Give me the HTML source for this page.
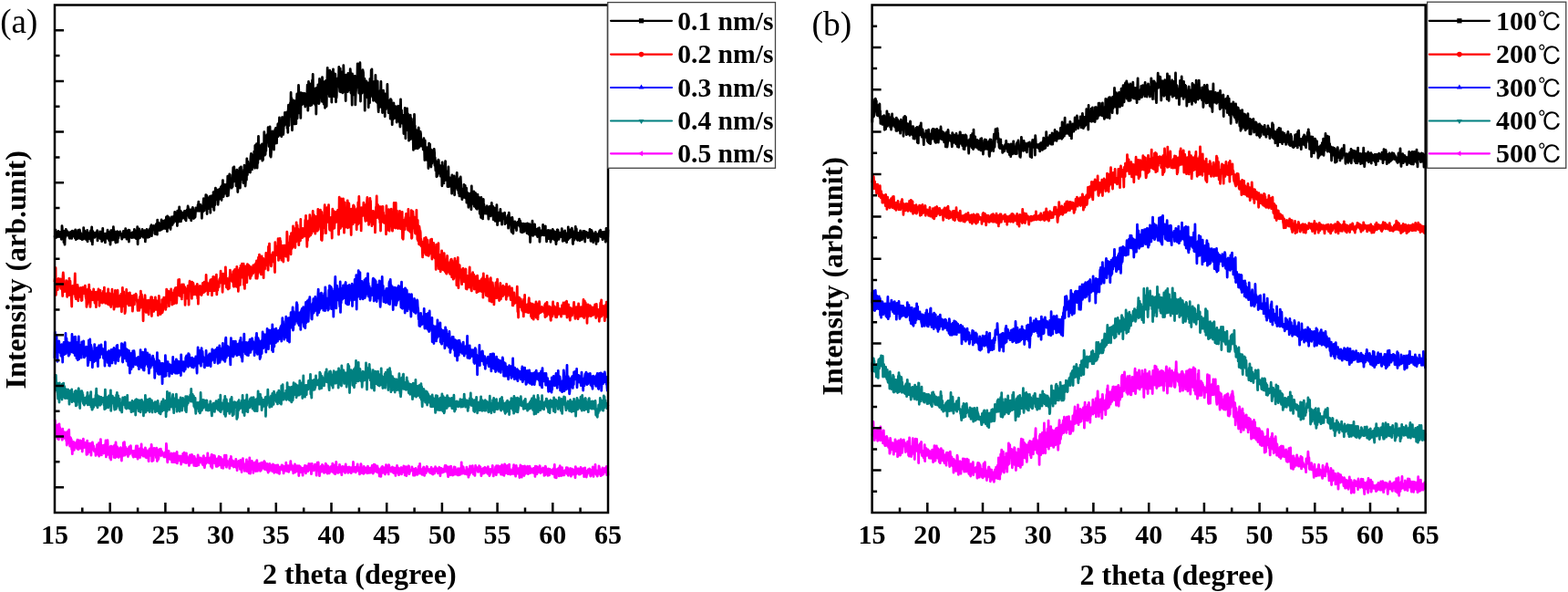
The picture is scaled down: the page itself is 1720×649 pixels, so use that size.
<!DOCTYPE html>
<html><head><meta charset="utf-8"><title>XRD</title>
<style>html,body{margin:0;padding:0;background:#fff;}svg{display:block;}</style></head>
<body><svg width="1720" height="649" viewBox="0 0 1720 649">
<rect width="1720" height="649" fill="#fff"/>
<polyline fill="none" stroke="#000000" stroke-width="2.8" stroke-linejoin="round" points="60.0,258.3 60.3,260.2 60.7,258.3 61.0,252.1 61.3,260.5 61.7,258.8 62.0,255.0 62.3,260.1 62.7,258.5 63.0,258.3 63.3,257.3 63.7,259.3 64.0,253.4 64.3,256.6 64.7,255.4 65.0,259.5 65.3,257.4 65.7,256.2 66.0,254.3 66.3,256.3 66.7,257.4 67.0,256.3 67.3,262.3 67.7,261.2 68.0,247.6 68.3,250.2 68.7,256.8 69.0,255.8 69.3,258.3 69.7,258.3 70.0,265.6 70.3,253.3 70.7,256.1 71.0,268.1 71.3,260.0 71.7,260.1 72.0,255.6 72.3,251.3 72.7,258.3 73.0,258.1 73.3,253.0 73.7,255.1 74.0,257.4 74.3,254.1 74.7,257.4 75.0,258.1 75.3,257.9 75.7,255.9 76.0,260.1 76.3,261.2 76.7,259.1 77.0,254.7 77.3,260.6 77.7,256.0 78.0,261.2 78.3,253.8 78.7,261.4 79.0,257.9 79.3,253.2 79.7,256.8 80.0,258.2 80.3,259.0 80.7,254.3 81.0,253.8 81.3,258.8 81.7,256.2 82.0,258.9 82.3,260.9 82.7,251.8 83.0,259.0 83.3,262.7 83.7,256.5 84.0,255.0 84.3,260.9 84.7,259.0 85.0,261.5 85.3,256.8 85.7,252.4 86.0,257.7 86.3,256.4 86.7,261.0 87.0,258.8 87.3,251.9 87.7,253.6 88.0,261.5 88.3,260.7 88.7,255.7 89.0,258.1 89.3,259.8 89.7,259.9 90.0,262.6 90.3,259.1 90.7,257.6 91.0,257.2 91.4,262.1 91.7,249.6 92.0,257.4 92.4,258.3 92.7,252.8 93.0,259.4 93.4,255.7 93.7,261.4 94.0,257.7 94.4,260.7 94.7,262.8 95.0,259.6 95.4,254.9 95.7,252.5 96.0,264.8 96.4,257.8 96.7,255.6 97.0,258.8 97.4,257.5 97.7,261.5 98.0,258.4 98.4,258.3 98.7,254.6 99.0,260.0 99.4,253.0 99.7,260.8 100.0,264.0 100.4,252.5 100.7,248.9 101.0,260.6 101.4,267.9 101.7,254.5 102.0,253.5 102.4,260.5 102.7,255.1 103.0,256.4 103.4,257.0 103.7,260.3 104.0,256.8 104.4,259.4 104.7,257.6 105.0,255.1 105.4,257.1 105.7,254.7 106.0,258.3 106.4,254.1 106.7,252.7 107.0,263.9 107.4,258.1 107.7,258.1 108.0,260.3 108.4,256.8 108.7,257.5 109.0,260.0 109.4,259.4 109.7,254.0 110.0,261.5 110.4,256.1 110.7,254.4 111.0,255.0 111.4,256.9 111.7,264.6 112.0,254.0 112.4,259.0 112.7,250.3 113.0,258.4 113.4,263.0 113.7,257.5 114.0,256.0 114.4,259.3 114.7,261.1 115.0,260.9 115.4,265.9 115.7,259.2 116.0,256.2 116.4,258.0 116.7,258.2 117.0,258.9 117.4,258.4 117.7,259.1 118.0,252.2 118.4,261.6 118.7,255.6 119.0,254.1 119.4,260.9 119.7,263.5 120.0,260.4 120.4,259.1 120.7,255.0 121.0,268.2 121.4,261.8 121.7,252.7 122.0,255.5 122.4,258.8 122.7,252.6 123.0,259.1 123.4,256.7 123.7,263.1 124.0,262.1 124.4,248.7 124.7,258.6 125.0,252.3 125.4,262.6 125.7,259.0 126.0,260.5 126.4,254.4 126.7,265.3 127.0,266.0 127.4,254.4 127.7,259.8 128.0,255.8 128.4,258.3 128.7,253.6 129.0,265.4 129.4,254.7 129.7,257.2 130.0,260.9 130.4,255.9 130.7,257.4 131.0,256.2 131.4,257.8 131.7,253.9 132.0,256.7 132.4,257.5 132.7,257.0 133.0,258.5 133.4,257.2 133.7,262.1 134.0,256.6 134.4,257.8 134.7,255.8 135.0,256.3 135.4,253.5 135.7,260.2 136.0,253.9 136.4,255.4 136.7,259.6 137.0,259.8 137.4,256.7 137.7,250.6 138.0,259.8 138.4,259.2 138.7,252.9 139.0,262.1 139.4,255.5 139.7,253.9 140.0,258.7 140.4,257.5 140.7,258.9 141.0,252.1 141.4,265.0 141.7,255.1 142.0,252.3 142.4,260.5 142.7,256.8 143.0,259.4 143.4,256.4 143.7,257.9 144.0,259.1 144.4,255.3 144.7,260.7 145.0,256.3 145.4,254.8 145.7,258.4 146.0,259.8 146.4,257.2 146.7,254.8 147.0,260.4 147.4,251.4 147.7,254.2 148.0,258.2 148.4,252.9 148.7,258.2 149.0,257.8 149.4,261.5 149.7,254.6 150.0,255.7 150.4,259.3 150.7,248.7 151.1,267.8 151.4,255.4 151.7,255.2 152.1,261.3 152.4,257.7 152.7,251.0 153.1,260.0 153.4,260.8 153.7,255.7 154.1,255.9 154.4,259.1 154.7,253.6 155.1,258.7 155.4,257.6 155.7,254.2 156.1,251.3 156.4,255.7 156.7,253.1 157.1,260.2 157.4,256.8 157.7,259.1 158.1,256.5 158.4,256.9 158.7,252.7 159.1,258.2 159.4,264.9 159.7,254.2 160.1,253.0 160.4,254.6 160.7,253.2 161.1,251.3 161.4,255.4 161.7,253.6 162.1,260.3 162.4,254.5 162.7,255.7 163.1,258.1 163.4,253.0 163.7,259.8 164.1,251.5 164.4,250.7 164.7,252.3 165.1,253.2 165.4,248.0 165.7,253.3 166.1,246.7 166.4,258.7 166.7,252.8 167.1,250.4 167.4,249.2 167.7,251.2 168.1,251.4 168.4,248.4 168.7,247.5 169.1,251.3 169.4,250.1 169.7,255.9 170.1,256.5 170.4,251.8 170.7,253.5 171.1,246.0 171.4,253.8 171.7,250.9 172.1,252.8 172.4,257.2 172.7,241.2 173.1,251.3 173.4,245.6 173.7,252.3 174.1,244.3 174.4,246.8 174.7,250.2 175.1,252.6 175.4,249.3 175.7,245.5 176.1,246.3 176.4,252.1 176.7,248.2 177.1,241.0 177.4,251.4 177.7,249.4 178.1,251.1 178.4,245.9 178.7,250.6 179.1,242.4 179.4,250.0 179.7,244.5 180.1,249.2 180.4,250.4 180.7,241.7 181.1,245.6 181.4,245.8 181.7,250.5 182.1,248.2 182.4,238.0 182.7,246.8 183.1,247.8 183.4,253.6 183.7,237.0 184.1,241.8 184.4,249.7 184.7,237.9 185.1,238.3 185.4,245.6 185.7,247.6 186.1,240.1 186.4,246.0 186.7,243.1 187.1,251.4 187.4,242.2 187.7,246.4 188.1,237.9 188.4,240.9 188.7,241.1 189.1,246.4 189.4,243.8 189.7,237.7 190.1,243.9 190.4,244.1 190.7,240.0 191.1,239.2 191.4,239.3 191.7,232.4 192.1,240.6 192.4,240.6 192.7,235.5 193.1,242.6 193.4,232.9 193.7,236.4 194.1,236.6 194.4,247.5 194.7,231.1 195.1,240.7 195.4,242.3 195.7,239.5 196.1,243.0 196.4,232.9 196.7,226.9 197.1,240.6 197.4,231.5 197.7,235.3 198.1,231.2 198.4,242.9 198.7,240.2 199.1,232.7 199.4,240.0 199.7,236.3 200.1,234.9 200.4,235.6 200.7,234.2 201.1,237.8 201.4,236.3 201.7,233.0 202.1,239.2 202.4,231.5 202.7,235.6 203.1,236.1 203.4,240.9 203.7,231.5 204.1,241.9 204.4,234.4 204.7,232.6 205.1,230.2 205.4,236.0 205.7,233.4 206.1,226.0 206.4,227.6 206.7,230.1 207.1,229.4 207.4,237.7 207.7,238.9 208.1,236.4 208.4,233.8 208.7,230.0 209.1,232.3 209.4,236.0 209.7,241.8 210.1,235.9 210.4,229.6 210.7,231.5 211.1,228.9 211.4,227.3 211.8,230.0 212.1,231.7 212.4,239.5 212.8,230.8 213.1,237.0 213.4,238.8 213.8,230.6 214.1,237.8 214.4,233.4 214.8,227.8 215.1,231.0 215.4,229.7 215.8,228.3 216.1,228.4 216.4,229.9 216.8,231.2 217.1,224.6 217.4,228.7 217.8,221.2 218.1,229.7 218.4,231.3 218.8,228.9 219.1,229.3 219.4,230.6 219.8,224.3 220.1,226.2 220.4,229.7 220.8,231.9 221.1,228.8 221.4,239.3 221.8,226.0 222.1,231.2 222.4,232.4 222.8,225.3 223.1,221.7 223.4,217.6 223.8,226.2 224.1,230.8 224.4,226.4 224.8,225.7 225.1,222.1 225.4,227.3 225.8,213.6 226.1,225.3 226.4,224.1 226.8,214.4 227.1,234.6 227.4,216.4 227.8,217.8 228.1,217.0 228.4,228.6 228.8,218.2 229.1,226.0 229.4,225.4 229.8,223.5 230.1,215.3 230.4,218.7 230.8,233.3 231.1,214.8 231.4,217.0 231.8,220.3 232.1,226.5 232.4,221.9 232.8,224.1 233.1,214.4 233.4,224.5 233.8,222.3 234.1,210.6 234.4,226.7 234.8,230.4 235.1,214.0 235.4,218.1 235.8,224.7 236.1,209.2 236.4,206.1 236.8,209.5 237.1,213.0 237.4,212.6 237.8,218.7 238.1,216.5 238.4,208.1 238.8,217.5 239.1,224.3 239.4,220.3 239.8,218.9 240.1,213.3 240.4,218.2 240.8,207.2 241.1,216.3 241.4,211.4 241.8,217.8 242.1,213.8 242.4,204.9 242.8,211.5 243.1,219.4 243.4,203.6 243.8,206.5 244.1,205.0 244.4,197.6 244.8,214.0 245.1,215.7 245.4,212.5 245.8,209.0 246.1,207.0 246.4,208.4 246.8,202.5 247.1,211.5 247.4,212.0 247.8,211.1 248.1,202.4 248.4,205.6 248.8,203.9 249.1,214.9 249.4,205.7 249.8,193.1 250.1,206.1 250.4,214.4 250.8,207.2 251.1,208.0 251.4,202.8 251.8,190.8 252.1,191.5 252.4,191.9 252.8,200.8 253.1,203.1 253.4,205.0 253.8,198.7 254.1,206.1 254.4,198.5 254.8,195.7 255.1,204.6 255.4,193.9 255.8,183.7 256.1,192.4 256.4,199.0 256.8,182.8 257.1,195.8 257.4,195.6 257.8,188.8 258.1,188.1 258.4,194.0 258.8,193.2 259.1,203.9 259.4,198.2 259.8,186.1 260.1,188.4 260.4,199.4 260.8,210.5 261.1,196.9 261.4,196.2 261.8,205.5 262.1,193.6 262.4,191.6 262.8,184.5 263.1,189.7 263.4,206.1 263.8,183.5 264.1,192.1 264.4,182.9 264.8,192.2 265.1,196.7 265.4,189.3 265.8,196.7 266.1,194.8 266.4,192.8 266.8,200.5 267.1,194.3 267.4,187.1 267.8,184.4 268.1,181.2 268.4,191.2 268.8,185.8 269.1,204.0 269.4,199.1 269.8,185.6 270.1,184.6 270.4,197.2 270.8,174.0 271.1,182.9 271.4,191.6 271.8,177.2 272.1,181.7 272.4,182.1 272.8,188.3 273.1,184.7 273.5,185.7 273.8,186.5 274.1,182.3 274.5,189.0 274.8,176.4 275.1,171.3 275.5,168.5 275.8,169.1 276.1,175.8 276.5,185.9 276.8,179.7 277.1,172.6 277.5,170.4 277.8,173.6 278.1,174.0 278.5,172.4 278.8,166.1 279.1,172.1 279.5,184.3 279.8,159.6 280.1,172.4 280.5,158.9 280.8,174.4 281.1,167.5 281.5,157.7 281.8,172.7 282.1,184.1 282.5,171.8 282.8,178.8 283.1,169.7 283.5,149.5 283.8,174.3 284.1,166.3 284.5,158.6 284.8,174.2 285.1,170.3 285.5,164.2 285.8,173.7 286.1,161.0 286.5,171.5 286.8,159.8 287.1,170.0 287.5,157.9 287.8,176.2 288.1,167.0 288.5,175.1 288.8,158.5 289.1,160.6 289.5,169.8 289.8,144.7 290.1,155.3 290.5,170.2 290.8,165.7 291.1,169.2 291.5,159.4 291.8,165.4 292.1,155.6 292.5,150.5 292.8,147.7 293.1,155.8 293.5,155.5 293.8,154.5 294.1,139.7 294.5,143.5 294.8,154.0 295.1,160.5 295.5,152.8 295.8,150.1 296.1,138.9 296.5,171.1 296.8,147.1 297.1,172.2 297.5,166.4 297.8,156.2 298.1,149.3 298.5,154.3 298.8,144.0 299.1,154.4 299.5,152.0 299.8,155.6 300.1,158.5 300.5,164.1 300.8,147.2 301.1,157.9 301.5,143.2 301.8,142.0 302.1,142.0 302.5,140.4 302.8,155.4 303.1,154.5 303.5,156.9 303.8,146.2 304.1,148.1 304.5,141.0 304.8,136.0 305.1,149.5 305.5,146.4 305.8,135.0 306.1,148.1 306.5,129.0 306.8,141.1 307.1,137.0 307.5,137.4 307.8,132.5 308.1,148.5 308.5,145.0 308.8,149.6 309.1,140.6 309.5,128.6 309.8,135.6 310.1,128.6 310.5,141.6 310.8,147.4 311.1,139.7 311.5,131.6 311.8,133.1 312.1,137.4 312.5,123.3 312.8,136.1 313.1,136.1 313.5,129.5 313.8,130.1 314.1,134.6 314.5,125.9 314.8,122.9 315.1,140.7 315.5,133.4 315.8,145.3 316.1,122.3 316.5,115.1 316.8,137.8 317.1,137.5 317.5,122.7 317.8,116.0 318.1,127.7 318.5,112.7 318.8,124.3 319.1,101.4 319.5,124.3 319.8,107.6 320.1,123.5 320.5,142.8 320.8,122.4 321.1,131.0 321.5,118.3 321.8,115.6 322.1,109.9 322.5,131.7 322.8,121.6 323.1,136.0 323.5,110.9 323.8,118.1 324.1,121.1 324.5,132.5 324.8,135.7 325.1,113.4 325.5,108.6 325.8,102.8 326.1,129.8 326.5,116.7 326.8,111.2 327.1,116.2 327.5,93.5 327.8,100.2 328.1,123.8 328.5,118.5 328.8,115.9 329.1,105.0 329.5,119.0 329.8,129.4 330.1,101.7 330.5,112.5 330.8,108.0 331.1,114.9 331.5,111.3 331.8,109.4 332.1,102.2 332.5,109.8 332.8,103.8 333.1,107.7 333.5,108.1 333.8,114.3 334.2,102.4 334.5,104.4 334.8,117.0 335.2,104.5 335.5,103.7 335.8,113.8 336.2,108.0 336.5,106.1 336.8,107.1 337.2,93.2 337.5,109.0 337.8,121.2 338.2,109.8 338.5,89.5 338.8,106.7 339.2,95.2 339.5,101.5 339.8,104.7 340.2,92.0 340.5,115.8 340.8,102.3 341.2,110.3 341.5,108.6 341.8,115.2 342.2,113.5 342.5,88.0 342.8,102.3 343.2,81.3 343.5,97.2 343.8,108.1 344.2,112.8 344.5,113.3 344.8,97.2 345.2,103.7 345.5,101.4 345.8,112.5 346.2,115.5 346.5,96.7 346.8,125.0 347.2,99.8 347.5,96.2 347.8,107.3 348.2,106.8 348.5,104.6 348.8,93.0 349.2,113.3 349.5,99.6 349.8,113.7 350.2,112.2 350.5,86.4 350.8,89.1 351.2,88.8 351.5,100.8 351.8,98.8 352.2,100.7 352.5,90.1 352.8,102.0 353.2,111.3 353.5,84.7 353.8,95.6 354.2,99.8 354.5,96.0 354.8,95.2 355.2,114.2 355.5,109.4 355.8,105.0 356.2,89.3 356.5,118.3 356.8,99.9 357.2,88.6 357.5,92.9 357.8,91.3 358.2,116.6 358.5,97.8 358.8,96.3 359.2,74.5 359.5,102.6 359.8,85.0 360.2,84.1 360.5,101.1 360.8,83.5 361.2,103.0 361.5,105.8 361.8,77.2 362.2,92.8 362.5,79.2 362.8,94.0 363.2,103.5 363.5,81.1 363.8,112.1 364.2,91.3 364.5,78.6 364.8,93.0 365.2,102.0 365.5,75.8 365.8,94.1 366.2,80.5 366.5,105.8 366.8,95.4 367.2,89.7 367.5,104.0 367.8,81.1 368.2,89.8 368.5,111.8 368.8,92.4 369.2,106.9 369.5,95.4 369.8,86.5 370.2,90.9 370.5,94.3 370.8,89.2 371.2,85.1 371.5,85.4 371.8,73.3 372.2,94.1 372.5,96.9 372.8,100.3 373.2,75.1 373.5,100.8 373.8,92.6 374.2,78.6 374.5,93.6 374.8,100.6 375.2,97.7 375.5,99.7 375.8,101.8 376.2,101.2 376.5,92.0 376.8,71.7 377.2,84.7 377.5,95.7 377.8,87.5 378.2,98.9 378.5,99.9 378.8,92.5 379.2,110.5 379.5,82.2 379.8,101.0 380.2,87.1 380.5,84.1 380.8,99.7 381.2,85.9 381.5,100.5 381.8,80.5 382.2,92.5 382.5,83.8 382.8,89.9 383.2,88.6 383.5,81.1 383.8,98.8 384.2,75.7 384.5,79.3 384.8,101.3 385.2,102.1 385.5,99.1 385.8,96.0 386.2,115.1 386.5,80.8 386.8,85.4 387.2,83.0 387.5,101.7 387.8,96.7 388.2,103.9 388.5,102.6 388.8,90.8 389.2,85.0 389.5,83.3 389.8,114.9 390.2,102.7 390.5,99.1 390.8,90.0 391.2,90.7 391.5,88.8 391.8,90.2 392.2,69.8 392.5,92.9 392.8,89.8 393.2,96.5 393.5,95.7 393.8,102.1 394.2,93.6 394.5,101.6 394.9,68.7 395.2,83.1 395.5,111.1 395.9,82.3 396.2,91.7 396.5,101.5 396.9,86.1 397.2,102.0 397.5,81.2 397.9,76.6 398.2,77.9 398.5,79.5 398.9,95.6 399.2,92.9 399.5,99.3 399.9,86.2 400.2,121.2 400.5,95.7 400.9,96.3 401.2,101.4 401.5,94.8 401.9,89.0 402.2,98.3 402.5,106.5 402.9,104.2 403.2,107.1 403.5,92.7 403.9,90.8 404.2,117.8 404.5,96.3 404.9,103.4 405.2,106.1 405.5,112.8 405.9,86.3 406.2,94.9 406.5,95.5 406.9,96.9 407.2,76.8 407.5,99.2 407.9,75.8 408.2,103.3 408.5,105.8 408.9,106.6 409.2,89.5 409.5,110.3 409.9,93.1 410.2,89.8 410.5,92.3 410.9,93.8 411.2,103.7 411.5,110.0 411.9,82.4 412.2,97.4 412.5,111.3 412.9,104.8 413.2,107.9 413.5,89.2 413.9,112.7 414.2,89.2 414.5,106.2 414.9,117.5 415.2,122.7 415.5,110.1 415.9,113.8 416.2,100.1 416.5,101.6 416.9,117.4 417.2,106.7 417.5,105.8 417.9,89.5 418.2,109.0 418.5,113.9 418.9,100.8 419.2,103.8 419.5,123.5 419.9,111.3 420.2,106.7 420.5,99.2 420.9,104.3 421.2,108.0 421.5,123.2 421.9,105.3 422.2,127.7 422.5,102.9 422.9,108.5 423.2,119.8 423.5,110.2 423.9,105.1 424.2,111.8 424.5,117.3 424.9,92.5 425.2,111.6 425.5,113.1 425.9,110.8 426.2,123.7 426.5,109.9 426.9,112.0 427.2,116.0 427.5,122.5 427.9,113.5 428.2,130.2 428.5,108.7 428.9,128.7 429.2,109.7 429.5,116.2 429.9,121.3 430.2,136.6 430.5,126.6 430.9,115.3 431.2,130.8 431.5,117.7 431.9,112.9 432.2,124.2 432.5,121.5 432.9,129.4 433.2,116.5 433.5,125.0 433.9,127.6 434.2,124.8 434.5,122.5 434.9,117.0 435.2,134.1 435.5,125.0 435.9,128.5 436.2,120.4 436.5,125.0 436.9,116.2 437.2,126.3 437.5,132.5 437.9,127.3 438.2,134.0 438.5,129.7 438.9,139.0 439.2,126.0 439.5,109.0 439.9,132.1 440.2,127.3 440.5,120.8 440.9,135.0 441.2,132.0 441.5,133.9 441.9,127.7 442.2,132.5 442.5,133.3 442.9,146.5 443.2,126.1 443.5,132.2 443.9,135.7 444.2,118.5 444.5,119.9 444.9,151.8 445.2,119.2 445.5,139.1 445.9,127.6 446.2,128.7 446.5,118.9 446.9,128.3 447.2,142.6 447.5,125.0 447.9,141.7 448.2,139.8 448.5,154.1 448.9,134.0 449.2,148.7 449.5,146.0 449.9,136.9 450.2,126.2 450.5,152.5 450.9,129.6 451.2,137.3 451.5,151.2 451.9,151.1 452.2,135.7 452.5,142.8 452.9,140.7 453.2,153.4 453.5,164.4 453.9,130.3 454.2,152.6 454.5,125.5 454.9,146.4 455.2,138.0 455.6,162.9 455.9,149.0 456.2,142.4 456.6,144.8 456.9,144.6 457.2,151.1 457.6,148.8 457.9,155.6 458.2,162.9 458.6,156.9 458.9,142.5 459.2,140.0 459.6,147.1 459.9,161.4 460.2,151.3 460.6,149.2 460.9,155.8 461.2,144.5 461.6,147.1 461.9,160.0 462.2,154.4 462.6,153.7 462.9,160.0 463.2,153.7 463.6,153.4 463.9,155.6 464.2,164.0 464.6,160.4 464.9,151.6 465.2,158.7 465.6,166.1 465.9,175.6 466.2,154.0 466.6,165.2 466.9,161.4 467.2,169.7 467.6,167.4 467.9,175.3 468.2,168.8 468.6,161.6 468.9,162.1 469.2,169.4 469.6,169.8 469.9,184.5 470.2,179.8 470.6,157.1 470.9,171.3 471.2,159.9 471.6,158.1 471.9,177.2 472.2,174.5 472.6,163.8 472.9,183.0 473.2,165.2 473.6,164.4 473.9,179.1 474.2,175.0 474.6,172.8 474.9,173.9 475.2,176.4 475.6,174.3 475.9,174.6 476.2,163.3 476.6,167.6 476.9,181.3 477.2,172.8 477.6,181.7 477.9,186.8 478.2,176.6 478.6,181.3 478.9,193.8 479.2,185.0 479.6,193.1 479.9,191.4 480.2,186.7 480.6,181.5 480.9,175.2 481.2,175.9 481.6,186.8 481.9,188.2 482.2,183.4 482.6,190.5 482.9,181.6 483.2,193.1 483.6,186.7 483.9,186.6 484.2,187.2 484.6,186.9 484.9,203.8 485.2,178.0 485.6,189.7 485.9,196.8 486.2,193.8 486.6,187.7 486.9,200.9 487.2,183.5 487.6,182.4 487.9,194.5 488.2,182.1 488.6,176.7 488.9,197.4 489.2,197.0 489.6,197.1 489.9,189.9 490.2,194.8 490.6,187.6 490.9,204.6 491.2,199.1 491.6,199.1 491.9,183.0 492.2,201.9 492.6,204.7 492.9,203.3 493.2,201.0 493.6,196.6 493.9,194.8 494.2,202.1 494.6,199.9 494.9,199.8 495.2,196.4 495.6,212.2 495.9,191.9 496.2,199.1 496.6,196.1 496.9,206.0 497.2,208.7 497.6,207.9 497.9,205.4 498.2,193.0 498.6,213.8 498.9,204.9 499.2,201.4 499.6,202.7 499.9,200.9 500.2,205.7 500.6,205.4 500.9,201.8 501.2,189.4 501.6,204.4 501.9,207.7 502.2,208.2 502.6,204.6 502.9,208.3 503.2,211.9 503.6,203.6 503.9,214.9 504.2,195.7 504.6,200.0 504.9,202.3 505.2,193.9 505.6,202.3 505.9,215.2 506.2,215.5 506.6,209.5 506.9,218.7 507.2,210.7 507.6,206.8 507.9,211.2 508.2,209.1 508.6,214.5 508.9,202.4 509.2,216.5 509.6,208.7 509.9,216.2 510.2,203.3 510.6,209.8 510.9,212.8 511.2,217.5 511.6,206.2 511.9,222.2 512.2,216.1 512.6,210.9 512.9,220.6 513.2,214.8 513.6,220.8 513.9,227.3 514.2,219.2 514.6,212.5 514.9,213.4 515.2,220.1 515.6,217.7 515.9,212.0 516.3,213.2 516.6,220.5 516.9,229.7 517.3,204.0 517.6,221.7 517.9,217.0 518.3,222.5 518.6,223.2 518.9,219.2 519.3,213.9 519.6,212.2 519.9,210.0 520.3,226.3 520.6,219.1 520.9,217.7 521.3,219.3 521.6,211.7 521.9,222.8 522.3,228.3 522.6,227.6 522.9,214.0 523.3,229.3 523.6,218.7 523.9,213.1 524.3,216.8 524.6,216.7 524.9,223.6 525.3,218.7 525.6,216.5 525.9,222.6 526.3,234.3 526.6,221.4 526.9,227.5 527.3,225.8 527.6,238.5 527.9,216.5 528.3,231.6 528.6,220.1 528.9,223.8 529.3,226.3 529.6,239.9 529.9,223.7 530.3,218.5 530.6,234.4 530.9,224.2 531.3,227.3 531.6,228.7 531.9,229.5 532.3,228.5 532.6,230.9 532.9,231.7 533.3,234.2 533.6,228.3 533.9,227.0 534.3,225.8 534.6,234.0 534.9,231.2 535.3,234.3 535.6,234.5 535.9,240.2 536.3,233.4 536.6,236.2 536.9,227.3 537.3,226.2 537.6,231.8 537.9,227.7 538.3,236.8 538.6,227.4 538.9,234.1 539.3,222.5 539.6,228.9 539.9,232.7 540.3,233.2 540.6,226.2 540.9,235.2 541.3,240.9 541.6,238.0 541.9,232.1 542.3,232.5 542.6,228.0 542.9,239.5 543.3,242.3 543.6,233.4 543.9,228.1 544.3,237.0 544.6,239.5 544.9,224.6 545.3,237.4 545.6,246.6 545.9,240.6 546.3,240.4 546.6,238.9 546.9,242.1 547.3,233.1 547.6,233.7 547.9,239.5 548.3,234.7 548.6,239.1 548.9,229.4 549.3,241.7 549.6,242.2 549.9,238.7 550.3,239.4 550.6,246.1 550.9,234.1 551.3,235.0 551.6,234.3 551.9,237.5 552.3,235.0 552.6,239.8 552.9,235.9 553.3,233.5 553.6,233.2 553.9,245.6 554.3,240.1 554.6,239.5 554.9,240.8 555.3,240.4 555.6,244.3 555.9,243.6 556.3,238.6 556.6,237.7 556.9,236.7 557.3,236.1 557.6,250.1 557.9,237.9 558.3,233.2 558.6,238.5 558.9,238.9 559.3,243.9 559.6,238.7 559.9,245.1 560.3,244.6 560.6,248.5 560.9,252.6 561.3,254.4 561.6,249.3 561.9,238.5 562.3,241.9 562.6,244.9 562.9,256.0 563.3,248.0 563.6,249.4 563.9,243.6 564.3,247.1 564.6,248.8 564.9,242.8 565.3,248.3 565.6,249.6 565.9,244.5 566.3,249.7 566.6,252.5 566.9,245.9 567.3,245.8 567.6,244.6 567.9,243.4 568.3,246.8 568.6,244.6 568.9,244.7 569.3,243.3 569.6,240.2 569.9,242.9 570.3,248.4 570.6,242.2 570.9,244.5 571.3,254.3 571.6,252.3 571.9,244.8 572.3,250.3 572.6,245.2 572.9,254.8 573.3,245.8 573.6,248.7 573.9,254.2 574.3,245.2 574.6,254.1 574.9,245.5 575.3,250.0 575.6,247.9 575.9,248.9 576.3,250.0 576.6,249.2 577.0,245.5 577.3,253.3 577.6,252.9 578.0,255.3 578.3,255.8 578.6,244.8 579.0,255.7 579.3,255.9 579.6,248.5 580.0,255.1 580.3,256.9 580.6,248.9 581.0,245.7 581.3,249.9 581.6,265.5 582.0,252.6 582.3,246.9 582.6,250.9 583.0,246.6 583.3,250.5 583.6,252.8 584.0,242.2 584.3,254.0 584.6,258.3 585.0,252.0 585.3,251.4 585.6,257.4 586.0,248.2 586.3,248.4 586.6,246.0 587.0,253.0 587.3,255.3 587.6,253.5 588.0,256.2 588.3,257.4 588.6,256.2 589.0,251.2 589.3,253.5 589.6,259.5 590.0,250.7 590.3,253.9 590.6,253.3 591.0,254.3 591.3,250.8 591.6,249.8 592.0,265.1 592.3,258.9 592.6,252.5 593.0,255.1 593.3,258.0 593.6,254.1 594.0,257.9 594.3,253.2 594.6,254.2 595.0,255.4 595.3,254.0 595.6,246.3 596.0,255.9 596.3,256.9 596.6,257.8 597.0,252.2 597.3,257.4 597.6,257.0 598.0,249.4 598.3,247.8 598.6,258.2 599.0,252.7 599.3,260.3 599.6,264.8 600.0,254.3 600.3,254.0 600.6,256.6 601.0,259.3 601.3,252.4 601.6,261.7 602.0,260.7 602.3,259.5 602.6,255.0 603.0,260.6 603.3,260.4 603.6,252.6 604.0,265.3 604.3,256.2 604.6,258.8 605.0,255.5 605.3,259.0 605.6,262.0 606.0,253.5 606.3,251.4 606.6,256.0 607.0,252.8 607.3,255.0 607.6,257.5 608.0,257.8 608.3,262.9 608.6,254.1 609.0,259.3 609.3,256.1 609.6,263.2 610.0,267.6 610.3,259.2 610.6,264.4 611.0,255.3 611.3,251.9 611.6,253.2 612.0,252.0 612.3,254.4 612.6,257.1 613.0,262.4 613.3,260.7 613.6,259.8 614.0,256.4 614.3,255.3 614.6,258.1 615.0,258.5 615.3,259.0 615.6,259.4 616.0,257.6 616.3,250.7 616.6,253.8 617.0,253.8 617.3,264.4 617.6,256.4 618.0,260.6 618.3,263.6 618.6,259.3 619.0,256.5 619.3,256.9 619.6,252.8 620.0,259.2 620.3,263.8 620.6,260.2 621.0,260.9 621.3,260.7 621.6,265.6 622.0,255.6 622.3,258.6 622.6,260.7 623.0,262.7 623.3,248.8 623.6,256.0 624.0,257.2 624.3,254.1 624.6,261.2 625.0,258.8 625.3,256.5 625.6,251.8 626.0,253.0 626.3,254.3 626.6,259.7 627.0,253.4 627.3,250.1 627.6,252.5 628.0,255.8 628.3,266.6 628.6,267.5 629.0,256.2 629.3,261.6 629.6,263.3 630.0,262.9 630.3,257.6 630.6,253.1 631.0,255.5 631.3,248.5 631.6,258.9 632.0,261.0 632.3,250.8 632.6,257.8 633.0,259.1 633.3,262.7 633.6,263.2 634.0,261.0 634.3,255.4 634.6,256.6 635.0,262.6 635.3,255.7 635.6,257.8 636.0,263.9 636.3,258.5 636.6,252.8 637.0,256.9 637.3,260.4 637.7,257.3 638.0,262.4 638.3,262.9 638.7,255.5 639.0,256.1 639.3,257.6 639.7,253.4 640.0,259.4 640.3,257.3 640.7,261.0 641.0,255.7 641.3,253.5 641.7,265.0 642.0,254.7 642.3,255.8 642.7,255.2 643.0,256.8 643.3,254.5 643.7,257.8 644.0,255.3 644.3,256.4 644.7,259.3 645.0,260.6 645.3,259.7 645.7,255.1 646.0,259.9 646.3,257.4 646.7,257.4 647.0,251.3 647.3,260.4 647.7,257.3 648.0,264.3 648.3,260.2 648.7,253.5 649.0,252.5 649.3,262.1 649.7,254.4 650.0,260.3 650.3,256.5 650.7,265.7 651.0,258.0 651.3,263.4 651.7,262.7 652.0,255.9 652.3,256.4 652.7,263.3 653.0,257.6 653.3,254.3 653.7,262.2 654.0,267.4 654.3,257.4 654.7,262.9 655.0,257.0 655.3,262.8 655.7,256.7 656.0,264.5 656.3,259.7 656.7,256.9 657.0,258.5 657.3,254.8 657.7,253.3 658.0,253.5 658.3,257.3 658.7,252.1 659.0,259.2 659.3,259.6 659.7,259.3 660.0,255.6 660.3,257.7 660.7,257.4 661.0,262.6 661.3,254.4 661.7,256.0 662.0,256.6 662.3,256.9 662.7,254.6 663.0,254.3 663.3,261.3 663.7,254.2 664.0,260.9 664.3,265.2 664.7,264.1 665.0,250.4 665.3,260.3 665.7,259.2 666.0,259.4 666.3,251.1 666.7,260.2 667.0,251.7"/>
<polyline fill="none" stroke="#ff0000" stroke-width="2.8" stroke-linejoin="round" points="60.0,309.2 60.3,305.0 60.7,305.8 61.0,293.6 61.3,323.4 61.7,315.8 62.0,307.0 62.3,313.9 62.7,311.0 63.0,306.1 63.3,317.7 63.7,308.0 64.0,308.0 64.3,305.4 64.7,313.1 65.0,309.9 65.3,313.9 65.7,307.2 66.0,311.8 66.3,305.8 66.7,316.4 67.0,312.6 67.3,314.3 67.7,314.3 68.0,306.0 68.3,316.8 68.7,324.6 69.0,302.7 69.3,298.8 69.7,303.9 70.0,318.0 70.3,313.9 70.7,319.7 71.0,317.8 71.3,314.9 71.7,315.5 72.0,313.0 72.3,319.3 72.7,307.7 73.0,312.0 73.3,316.1 73.7,325.4 74.0,310.5 74.3,308.8 74.7,312.0 75.0,321.2 75.3,314.3 75.7,323.6 76.0,305.1 76.3,322.8 76.7,322.4 77.0,308.2 77.3,317.6 77.7,323.9 78.0,317.5 78.3,325.0 78.7,336.0 79.0,319.7 79.3,316.0 79.7,313.4 80.0,321.8 80.3,317.0 80.7,317.2 81.0,317.7 81.3,322.2 81.7,312.4 82.0,309.8 82.3,299.8 82.7,325.7 83.0,319.3 83.3,327.7 83.7,319.0 84.0,314.9 84.3,322.0 84.7,319.0 85.0,312.3 85.3,314.5 85.7,329.8 86.0,321.8 86.3,322.3 86.7,318.4 87.0,316.2 87.3,325.3 87.7,319.7 88.0,316.1 88.3,319.7 88.7,315.4 89.0,321.8 89.3,329.5 89.7,316.1 90.0,329.1 90.3,317.3 90.7,322.1 91.0,314.9 91.4,320.1 91.7,321.8 92.0,319.1 92.4,317.7 92.7,318.0 93.0,317.3 93.4,313.1 93.7,320.6 94.0,324.5 94.4,327.4 94.7,326.1 95.0,336.4 95.4,324.4 95.7,320.1 96.0,333.4 96.4,317.0 96.7,330.4 97.0,317.7 97.4,325.9 97.7,312.2 98.0,328.5 98.4,322.6 98.7,318.2 99.0,336.4 99.4,328.1 99.7,324.2 100.0,319.8 100.4,323.8 100.7,323.2 101.0,328.3 101.4,328.7 101.7,320.6 102.0,321.3 102.4,320.5 102.7,317.0 103.0,321.3 103.4,324.2 103.7,328.6 104.0,332.2 104.4,320.4 104.7,328.0 105.0,322.5 105.4,336.6 105.7,324.9 106.0,328.0 106.4,320.1 106.7,320.8 107.0,326.5 107.4,323.3 107.7,327.5 108.0,316.9 108.4,329.3 108.7,320.8 109.0,335.3 109.4,324.3 109.7,332.0 110.0,318.3 110.4,329.3 110.7,321.2 111.0,322.6 111.4,326.5 111.7,324.6 112.0,327.9 112.4,332.0 112.7,330.1 113.0,326.1 113.4,319.2 113.7,322.3 114.0,325.7 114.4,315.2 114.7,331.1 115.0,325.7 115.4,325.7 115.7,332.4 116.0,330.9 116.4,328.5 116.7,321.8 117.0,329.7 117.4,329.4 117.7,322.7 118.0,333.3 118.4,330.5 118.7,316.9 119.0,328.5 119.4,320.9 119.7,334.2 120.0,332.4 120.4,322.0 120.7,323.2 121.0,328.7 121.4,326.8 121.7,336.5 122.0,332.3 122.4,326.7 122.7,331.4 123.0,317.2 123.4,330.0 123.7,333.1 124.0,327.4 124.4,324.6 124.7,331.6 125.0,339.2 125.4,329.7 125.7,322.5 126.0,336.5 126.4,318.4 126.7,331.4 127.0,325.5 127.4,333.8 127.7,324.1 128.0,336.0 128.4,330.5 128.7,319.5 129.0,318.2 129.4,327.2 129.7,336.0 130.0,329.9 130.4,329.4 130.7,327.8 131.0,333.1 131.4,331.2 131.7,330.7 132.0,323.9 132.4,335.7 132.7,336.7 133.0,322.2 133.4,341.8 133.7,333.3 134.0,326.8 134.4,315.5 134.7,333.0 135.0,332.5 135.4,326.3 135.7,319.9 136.0,335.7 136.4,326.4 136.7,327.1 137.0,343.6 137.4,341.3 137.7,334.9 138.0,327.3 138.4,333.4 138.7,317.5 139.0,330.5 139.4,325.8 139.7,323.0 140.0,321.4 140.4,332.9 140.7,330.6 141.0,331.1 141.4,334.8 141.7,325.8 142.0,323.7 142.4,320.9 142.7,328.7 143.0,334.7 143.4,329.9 143.7,334.2 144.0,324.5 144.4,328.4 144.7,326.8 145.0,324.3 145.4,341.1 145.7,337.3 146.0,327.1 146.4,325.7 146.7,331.0 147.0,323.7 147.4,333.8 147.7,324.6 148.0,329.6 148.4,326.2 148.7,329.2 149.0,322.2 149.4,323.5 149.7,326.8 150.0,328.4 150.4,330.5 150.7,332.5 151.1,340.4 151.4,336.6 151.7,331.0 152.1,336.3 152.4,328.8 152.7,340.3 153.1,335.5 153.4,325.5 153.7,336.8 154.1,337.2 154.4,319.2 154.7,329.0 155.1,330.5 155.4,322.8 155.7,327.5 156.1,328.2 156.4,336.0 156.7,334.9 157.1,351.8 157.4,331.4 157.7,339.7 158.1,334.0 158.4,335.1 158.7,327.6 159.1,323.7 159.4,329.8 159.7,338.0 160.1,342.4 160.4,337.2 160.7,337.6 161.1,329.7 161.4,342.3 161.7,341.3 162.1,331.5 162.4,334.0 162.7,329.1 163.1,344.8 163.4,336.6 163.7,334.0 164.1,336.7 164.4,336.9 164.7,332.4 165.1,328.1 165.4,327.9 165.7,325.6 166.1,337.2 166.4,346.5 166.7,325.9 167.1,335.6 167.4,337.8 167.7,329.8 168.1,336.1 168.4,329.3 168.7,341.4 169.1,332.0 169.4,335.7 169.7,338.8 170.1,333.0 170.4,325.9 170.7,332.6 171.1,339.4 171.4,335.0 171.7,336.7 172.1,329.9 172.4,336.3 172.7,339.4 173.1,335.8 173.4,345.7 173.7,334.6 174.1,330.3 174.4,324.4 174.7,341.9 175.1,335.5 175.4,341.2 175.7,338.4 176.1,344.5 176.4,342.4 176.7,333.7 177.1,336.9 177.4,343.0 177.7,328.6 178.1,342.6 178.4,341.2 178.7,339.8 179.1,333.4 179.4,335.9 179.7,326.2 180.1,334.3 180.4,330.7 180.7,334.1 181.1,330.8 181.4,334.8 181.7,339.4 182.1,325.9 182.4,337.1 182.7,317.1 183.1,319.2 183.4,329.6 183.7,329.6 184.1,331.3 184.4,319.2 184.7,327.2 185.1,327.6 185.4,335.6 185.7,325.0 186.1,327.9 186.4,319.4 186.7,323.7 187.1,322.1 187.4,328.4 187.7,316.9 188.1,319.6 188.4,327.4 188.7,334.0 189.1,326.0 189.4,325.5 189.7,321.7 190.1,329.7 190.4,326.5 190.7,333.0 191.1,325.7 191.4,317.7 191.7,319.7 192.1,317.3 192.4,315.7 192.7,332.2 193.1,327.0 193.4,315.4 193.7,332.3 194.1,323.5 194.4,316.6 194.7,324.1 195.1,321.4 195.4,317.3 195.7,306.6 196.1,321.6 196.4,322.9 196.7,306.5 197.1,324.2 197.4,324.4 197.7,318.1 198.1,321.3 198.4,319.0 198.7,315.7 199.1,318.3 199.4,327.9 199.7,311.8 200.1,321.3 200.4,321.0 200.7,314.5 201.1,316.5 201.4,311.8 201.7,314.9 202.1,319.9 202.4,321.6 202.7,314.6 203.1,334.4 203.4,316.4 203.7,320.4 204.1,318.3 204.4,317.3 204.7,327.0 205.1,316.7 205.4,327.1 205.7,326.0 206.1,313.4 206.4,325.3 206.7,314.3 207.1,334.1 207.4,317.0 207.7,313.8 208.1,308.2 208.4,311.7 208.7,315.8 209.1,313.4 209.4,312.0 209.7,315.0 210.1,317.8 210.4,327.3 210.7,309.1 211.1,315.7 211.4,313.4 211.8,310.1 212.1,311.5 212.4,313.5 212.8,322.9 213.1,317.6 213.4,315.6 213.8,322.2 214.1,320.2 214.4,317.3 214.8,320.7 215.1,313.7 215.4,323.3 215.8,322.1 216.1,316.0 216.4,311.3 216.8,327.1 217.1,318.8 217.4,333.1 217.8,314.4 218.1,323.1 218.4,315.6 218.8,319.6 219.1,322.9 219.4,313.4 219.8,317.2 220.1,318.9 220.4,318.5 220.8,321.2 221.1,323.5 221.4,322.3 221.8,318.8 222.1,315.1 222.4,310.5 222.8,312.6 223.1,313.7 223.4,320.6 223.8,314.4 224.1,309.1 224.4,319.9 224.8,311.4 225.1,311.5 225.4,314.5 225.8,318.5 226.1,301.4 226.4,308.8 226.8,316.3 227.1,313.0 227.4,309.9 227.8,311.7 228.1,322.9 228.4,311.9 228.8,318.7 229.1,319.0 229.4,311.6 229.8,316.7 230.1,311.3 230.4,310.2 230.8,307.0 231.1,318.7 231.4,311.1 231.8,308.9 232.1,306.5 232.4,323.8 232.8,317.3 233.1,312.0 233.4,308.5 233.8,303.4 234.1,314.1 234.4,313.9 234.8,303.7 235.1,318.9 235.4,316.5 235.8,305.9 236.1,308.2 236.4,308.9 236.8,312.6 237.1,310.3 237.4,301.2 237.8,322.9 238.1,312.7 238.4,318.2 238.8,318.1 239.1,309.1 239.4,312.3 239.8,314.5 240.1,314.6 240.4,308.5 240.8,306.1 241.1,309.9 241.4,304.8 241.8,306.1 242.1,297.1 242.4,309.8 242.8,303.0 243.1,305.8 243.4,308.6 243.8,310.9 244.1,320.3 244.4,310.0 244.8,300.1 245.1,309.4 245.4,304.9 245.8,310.8 246.1,304.1 246.4,303.9 246.8,305.0 247.1,304.2 247.4,292.9 247.8,303.8 248.1,307.7 248.4,315.0 248.8,305.8 249.1,305.2 249.4,310.9 249.8,310.6 250.1,317.0 250.4,310.7 250.8,306.9 251.1,315.1 251.4,316.2 251.8,303.8 252.1,307.9 252.4,296.2 252.8,304.2 253.1,300.9 253.4,304.9 253.8,303.2 254.1,305.1 254.4,305.4 254.8,308.9 255.1,307.2 255.4,302.2 255.8,297.7 256.1,313.2 256.4,314.2 256.8,302.5 257.1,308.7 257.4,295.7 257.8,295.4 258.1,303.3 258.4,313.9 258.8,298.1 259.1,299.3 259.4,314.3 259.8,292.4 260.1,308.0 260.4,306.9 260.8,302.4 261.1,304.7 261.4,319.4 261.8,296.2 262.1,301.1 262.4,300.9 262.8,298.4 263.1,294.2 263.4,312.4 263.8,303.6 264.1,291.1 264.4,297.5 264.8,304.3 265.1,304.2 265.4,289.2 265.8,300.7 266.1,302.8 266.4,303.5 266.8,303.3 267.1,289.1 267.4,312.2 267.8,301.7 268.1,311.7 268.4,316.4 268.8,298.9 269.1,291.9 269.4,305.1 269.8,298.3 270.1,296.4 270.4,292.5 270.8,309.7 271.1,296.0 271.4,289.7 271.8,295.6 272.1,290.9 272.4,299.2 272.8,295.3 273.1,291.0 273.5,301.5 273.8,293.4 274.1,302.0 274.5,305.3 274.8,294.7 275.1,292.7 275.5,298.0 275.8,302.3 276.1,296.4 276.5,297.2 276.8,295.9 277.1,297.9 277.5,299.8 277.8,290.9 278.1,292.2 278.5,295.5 278.8,290.6 279.1,295.6 279.5,298.0 279.8,294.1 280.1,290.1 280.5,288.8 280.8,305.2 281.1,299.2 281.5,285.9 281.8,287.5 282.1,305.2 282.5,302.6 282.8,293.3 283.1,299.9 283.5,282.2 283.8,291.9 284.1,296.5 284.5,279.1 284.8,286.0 285.1,296.2 285.5,298.3 285.8,286.7 286.1,293.0 286.5,300.9 286.8,287.5 287.1,280.9 287.5,289.2 287.8,286.8 288.1,297.9 288.5,290.1 288.8,283.4 289.1,304.7 289.5,285.0 289.8,291.4 290.1,292.5 290.5,294.9 290.8,288.7 291.1,291.3 291.5,286.7 291.8,277.4 292.1,285.3 292.5,285.2 292.8,285.1 293.1,287.1 293.5,281.7 293.8,294.7 294.1,296.2 294.5,270.3 294.8,285.2 295.1,280.1 295.5,267.1 295.8,287.3 296.1,280.0 296.5,281.4 296.8,279.3 297.1,291.0 297.5,291.8 297.8,285.0 298.1,287.6 298.5,281.9 298.8,283.4 299.1,277.0 299.5,282.2 299.8,276.8 300.1,284.1 300.5,287.0 300.8,283.2 301.1,289.0 301.5,298.5 301.8,265.7 302.1,280.2 302.5,274.5 302.8,276.5 303.1,269.9 303.5,279.6 303.8,277.2 304.1,274.3 304.5,276.7 304.8,274.1 305.1,261.6 305.5,285.4 305.8,275.5 306.1,270.7 306.5,279.3 306.8,272.2 307.1,261.3 307.5,282.8 307.8,264.3 308.1,274.5 308.5,276.6 308.8,285.2 309.1,283.8 309.5,276.3 309.8,269.4 310.1,271.7 310.5,282.2 310.8,287.0 311.1,277.9 311.5,269.1 311.8,280.9 312.1,270.6 312.5,269.1 312.8,270.8 313.1,276.8 313.5,274.3 313.8,279.3 314.1,281.2 314.5,276.5 314.8,254.2 315.1,258.4 315.5,271.6 315.8,269.6 316.1,285.5 316.5,269.1 316.8,267.9 317.1,278.0 317.5,276.1 317.8,266.2 318.1,271.1 318.5,258.9 318.8,259.9 319.1,278.8 319.5,255.7 319.8,272.7 320.1,270.5 320.5,270.8 320.8,271.5 321.1,268.6 321.5,248.0 321.8,256.1 322.1,258.8 322.5,269.8 322.8,254.1 323.1,256.9 323.5,259.1 323.8,271.5 324.1,250.3 324.5,250.5 324.8,265.2 325.1,243.9 325.5,262.3 325.8,255.9 326.1,247.0 326.5,255.5 326.8,250.7 327.1,259.3 327.5,260.4 327.8,268.7 328.1,256.8 328.5,257.3 328.8,251.7 329.1,255.7 329.5,263.8 329.8,240.4 330.1,260.2 330.5,250.7 330.8,255.2 331.1,256.9 331.5,260.7 331.8,255.7 332.1,250.5 332.5,255.8 332.8,253.2 333.1,251.2 333.5,254.2 333.8,259.2 334.2,253.1 334.5,253.0 334.8,241.4 335.2,250.3 335.5,236.3 335.8,256.4 336.2,243.1 336.5,260.5 336.8,270.4 337.2,246.6 337.5,263.7 337.8,252.4 338.2,244.5 338.5,242.0 338.8,252.9 339.2,259.3 339.5,250.8 339.8,235.6 340.2,239.1 340.5,244.7 340.8,257.8 341.2,248.9 341.5,249.9 341.8,255.9 342.2,243.7 342.5,245.1 342.8,244.3 343.2,231.3 343.5,249.4 343.8,248.8 344.2,253.3 344.5,235.7 344.8,238.6 345.2,252.7 345.5,247.6 345.8,256.1 346.2,237.9 346.5,246.4 346.8,237.3 347.2,247.1 347.5,240.5 347.8,248.7 348.2,253.1 348.5,249.7 348.8,229.4 349.2,251.6 349.5,247.6 349.8,235.4 350.2,236.5 350.5,243.7 350.8,248.2 351.2,239.8 351.5,230.2 351.8,245.6 352.2,244.6 352.5,263.0 352.8,232.5 353.2,263.5 353.5,257.0 353.8,245.2 354.2,256.2 354.5,243.3 354.8,250.4 355.2,236.3 355.5,242.9 355.8,233.9 356.2,224.7 356.5,239.8 356.8,236.5 357.2,246.5 357.5,255.7 357.8,240.2 358.2,242.0 358.5,243.0 358.8,227.6 359.2,243.4 359.5,241.2 359.8,240.7 360.2,231.9 360.5,224.6 360.8,238.7 361.2,243.3 361.5,251.6 361.8,249.8 362.2,252.4 362.5,243.4 362.8,249.7 363.2,238.4 363.5,245.2 363.8,247.6 364.2,261.1 364.5,241.8 364.8,229.2 365.2,250.9 365.5,232.9 365.8,238.9 366.2,236.9 366.5,231.7 366.8,250.1 367.2,243.9 367.5,233.8 367.8,239.4 368.2,235.1 368.5,243.7 368.8,235.4 369.2,232.1 369.5,233.0 369.8,234.6 370.2,240.6 370.5,230.5 370.8,237.2 371.2,241.6 371.5,257.2 371.8,244.8 372.2,216.2 372.5,233.3 372.8,234.1 373.2,240.0 373.5,250.3 373.8,243.3 374.2,217.9 374.5,239.5 374.8,237.8 375.2,240.2 375.5,248.0 375.8,227.5 376.2,245.7 376.5,217.8 376.8,236.7 377.2,239.4 377.5,255.2 377.8,230.2 378.2,221.8 378.5,241.8 378.8,230.5 379.2,249.1 379.5,230.1 379.8,228.7 380.2,246.4 380.5,236.7 380.8,244.4 381.2,219.8 381.5,249.8 381.8,231.1 382.2,242.9 382.5,227.6 382.8,223.0 383.2,233.9 383.5,238.0 383.8,249.2 384.2,238.9 384.5,242.0 384.8,241.5 385.2,257.5 385.5,229.2 385.8,246.5 386.2,234.3 386.5,238.2 386.8,231.4 387.2,245.7 387.5,225.5 387.8,224.9 388.2,234.3 388.5,226.3 388.8,241.9 389.2,243.7 389.5,229.7 389.8,242.6 390.2,230.5 390.5,235.5 390.8,236.1 391.2,251.7 391.5,236.0 391.8,228.4 392.2,228.3 392.5,246.0 392.8,222.0 393.2,232.1 393.5,231.7 393.8,215.5 394.2,232.1 394.5,244.4 394.9,237.9 395.2,228.5 395.5,241.8 395.9,240.3 396.2,252.9 396.5,227.6 396.9,232.7 397.2,236.3 397.5,234.7 397.9,236.5 398.2,234.8 398.5,229.8 398.9,222.1 399.2,230.8 399.5,223.8 399.9,226.5 400.2,230.7 400.5,239.4 400.9,242.3 401.2,226.3 401.5,237.5 401.9,241.6 402.2,234.4 402.5,220.9 402.9,216.4 403.2,241.2 403.5,242.1 403.9,236.6 404.2,225.4 404.5,246.4 404.9,244.3 405.2,233.6 405.5,232.0 405.9,217.3 406.2,242.3 406.5,220.4 406.9,239.8 407.2,240.4 407.5,235.1 407.9,247.7 408.2,231.9 408.5,239.6 408.9,241.5 409.2,237.0 409.5,231.5 409.9,245.5 410.2,238.8 410.5,233.8 410.9,234.1 411.2,236.8 411.5,254.9 411.9,236.8 412.2,234.0 412.5,227.2 412.9,226.1 413.2,214.9 413.5,238.5 413.9,236.9 414.2,228.2 414.5,224.5 414.9,234.2 415.2,232.7 415.5,226.1 415.9,239.8 416.2,238.6 416.5,237.1 416.9,244.1 417.2,232.4 417.5,253.1 417.9,226.6 418.2,242.4 418.5,243.5 418.9,236.2 419.2,241.4 419.5,228.0 419.9,226.3 420.2,237.2 420.5,232.9 420.9,244.0 421.2,239.5 421.5,244.4 421.9,242.1 422.2,241.8 422.5,240.5 422.9,236.7 423.2,236.1 423.5,256.8 423.9,225.7 424.2,238.8 424.5,248.7 424.9,244.0 425.2,252.2 425.5,245.3 425.9,230.5 426.2,238.3 426.5,229.6 426.9,249.3 427.2,253.2 427.5,237.8 427.9,247.5 428.2,238.3 428.5,230.0 428.9,238.3 429.2,229.1 429.5,237.5 429.9,244.0 430.2,250.3 430.5,253.1 430.9,239.9 431.2,244.6 431.5,246.2 431.9,247.4 432.2,222.3 432.5,236.6 432.9,249.5 433.2,234.0 433.5,245.2 433.9,250.0 434.2,222.4 434.5,241.8 434.9,245.4 435.2,243.6 435.5,231.2 435.9,246.5 436.2,239.2 436.5,250.5 436.9,247.3 437.2,239.5 437.5,245.4 437.9,238.4 438.2,238.4 438.5,231.4 438.9,242.3 439.2,250.8 439.5,245.3 439.9,244.2 440.2,239.3 440.5,240.2 440.9,250.5 441.2,232.5 441.5,261.3 441.9,244.2 442.2,262.3 442.5,254.3 442.9,241.5 443.2,250.9 443.5,247.1 443.9,248.8 444.2,251.5 444.5,240.8 444.9,238.2 445.2,241.9 445.5,234.4 445.9,243.3 446.2,247.3 446.5,247.6 446.9,247.2 447.2,242.5 447.5,252.1 447.9,229.3 448.2,242.7 448.5,243.3 448.9,253.2 449.2,251.5 449.5,252.8 449.9,246.7 450.2,254.4 450.5,239.0 450.9,247.8 451.2,230.6 451.5,261.3 451.9,260.6 452.2,243.4 452.5,241.6 452.9,231.9 453.2,236.7 453.5,250.0 453.9,248.0 454.2,237.9 454.5,245.8 454.9,244.8 455.2,254.0 455.6,256.1 455.9,249.0 456.2,252.2 456.6,252.0 456.9,230.3 457.2,255.0 457.6,253.7 457.9,262.4 458.2,241.5 458.6,264.0 458.9,252.2 459.2,259.9 459.6,267.8 459.9,248.1 460.2,250.1 460.6,268.3 460.9,252.9 461.2,255.0 461.6,267.5 461.9,262.2 462.2,270.0 462.6,266.8 462.9,264.8 463.2,272.6 463.6,281.9 463.9,265.4 464.2,277.4 464.6,275.2 464.9,268.0 465.2,271.0 465.6,261.1 465.9,263.9 466.2,270.8 466.6,268.8 466.9,279.0 467.2,260.4 467.6,268.1 467.9,266.0 468.2,269.2 468.6,279.8 468.9,263.1 469.2,278.3 469.6,268.3 469.9,270.6 470.2,280.4 470.6,270.5 470.9,278.7 471.2,275.1 471.6,273.4 471.9,272.4 472.2,263.0 472.6,270.3 472.9,277.3 473.2,277.9 473.6,262.1 473.9,284.1 474.2,281.4 474.6,268.5 474.9,270.7 475.2,281.9 475.6,266.4 475.9,273.9 476.2,279.0 476.6,278.8 476.9,279.2 477.2,283.1 477.6,275.1 477.9,277.6 478.2,295.4 478.6,268.1 478.9,278.7 479.2,282.8 479.6,277.9 479.9,291.1 480.2,283.4 480.6,288.4 480.9,266.6 481.2,294.5 481.6,291.9 481.9,279.2 482.2,293.6 482.6,286.7 482.9,291.5 483.2,297.8 483.6,286.5 483.9,279.2 484.2,286.3 484.6,274.8 484.9,281.5 485.2,282.1 485.6,282.7 485.9,295.6 486.2,293.7 486.6,282.4 486.9,296.2 487.2,277.7 487.6,284.8 487.9,288.6 488.2,297.7 488.6,294.9 488.9,293.4 489.2,299.3 489.6,295.6 489.9,300.1 490.2,286.0 490.6,280.3 490.9,288.9 491.2,297.3 491.6,294.2 491.9,298.1 492.2,297.1 492.6,296.0 492.9,298.2 493.2,288.3 493.6,300.4 493.9,286.8 494.2,292.9 494.6,284.6 494.9,297.3 495.2,284.1 495.6,303.6 495.9,285.9 496.2,296.5 496.6,294.1 496.9,289.5 497.2,306.2 497.6,292.8 497.9,305.3 498.2,289.3 498.6,291.0 498.9,283.5 499.2,300.1 499.6,302.7 499.9,298.4 500.2,296.1 500.6,291.4 500.9,312.7 501.2,302.5 501.6,286.1 501.9,296.2 502.2,282.3 502.6,308.7 502.9,315.7 503.2,308.3 503.6,298.8 503.9,294.2 504.2,290.7 504.6,303.2 504.9,295.3 505.2,297.8 505.6,296.4 505.9,298.7 506.2,306.5 506.6,311.7 506.9,302.2 507.2,301.6 507.6,294.7 507.9,294.2 508.2,295.4 508.6,307.9 508.9,304.5 509.2,308.8 509.6,305.6 509.9,300.6 510.2,295.6 510.6,301.3 510.9,294.9 511.2,316.5 511.6,305.9 511.9,302.1 512.2,317.0 512.6,302.4 512.9,308.5 513.2,304.2 513.6,307.7 513.9,303.4 514.2,308.9 514.6,314.9 514.9,298.5 515.2,292.8 515.6,315.0 515.9,307.9 516.3,312.5 516.6,305.5 516.9,317.0 517.3,318.9 517.6,300.7 517.9,312.3 518.3,304.6 518.6,298.7 518.9,306.9 519.3,312.4 519.6,300.8 519.9,301.5 520.3,317.0 520.6,309.9 520.9,312.4 521.3,303.1 521.6,306.3 521.9,311.2 522.3,311.8 522.6,311.9 522.9,320.7 523.3,312.2 523.6,302.2 523.9,306.3 524.3,311.4 524.6,319.7 524.9,308.0 525.3,310.0 525.6,312.4 525.9,308.5 526.3,307.9 526.6,311.6 526.9,319.0 527.3,316.1 527.6,311.6 527.9,315.8 528.3,305.9 528.6,319.6 528.9,319.5 529.3,316.0 529.6,304.3 529.9,326.2 530.3,299.9 530.6,308.5 530.9,309.1 531.3,318.8 531.6,305.9 531.9,316.3 532.3,314.1 532.6,313.4 532.9,320.3 533.3,323.8 533.6,317.9 533.9,314.0 534.3,302.3 534.6,324.6 534.9,314.3 535.3,305.3 535.6,317.2 535.9,324.9 536.3,315.7 536.6,309.8 536.9,330.1 537.3,320.6 537.6,319.1 537.9,323.2 538.3,304.7 538.6,317.1 538.9,316.7 539.3,331.0 539.6,314.5 539.9,314.6 540.3,309.8 540.6,313.2 540.9,316.9 541.3,320.0 541.6,317.1 541.9,333.9 542.3,321.3 542.6,322.2 542.9,326.5 543.3,322.3 543.6,315.7 543.9,309.8 544.3,320.9 544.6,314.1 544.9,326.6 545.3,314.6 545.6,306.2 545.9,319.4 546.3,325.5 546.6,318.1 546.9,320.5 547.3,320.4 547.6,329.5 547.9,321.4 548.3,319.2 548.6,316.2 548.9,310.3 549.3,328.0 549.6,326.6 549.9,314.5 550.3,324.6 550.6,322.0 550.9,318.0 551.3,318.4 551.6,324.5 551.9,313.1 552.3,317.0 552.6,319.2 552.9,319.9 553.3,318.6 553.6,321.1 553.9,322.8 554.3,314.5 554.6,320.1 554.9,316.5 555.3,328.3 555.6,311.3 555.9,318.1 556.3,325.0 556.6,318.4 556.9,318.4 557.3,317.5 557.6,322.8 557.9,314.6 558.3,321.1 558.6,321.4 558.9,313.9 559.3,324.1 559.6,320.3 559.9,325.0 560.3,328.5 560.6,326.4 560.9,317.5 561.3,326.4 561.6,315.9 561.9,320.9 562.3,334.9 562.6,325.9 562.9,334.9 563.3,325.5 563.6,326.9 563.9,321.0 564.3,332.7 564.6,326.7 564.9,331.6 565.3,330.9 565.6,331.7 565.9,330.9 566.3,329.2 566.6,329.6 566.9,326.0 567.3,314.2 567.6,332.9 567.9,341.8 568.3,336.6 568.6,348.0 568.9,333.8 569.3,326.1 569.6,326.2 569.9,335.8 570.3,333.8 570.6,331.3 570.9,336.4 571.3,327.9 571.6,335.7 571.9,331.6 572.3,334.1 572.6,339.9 572.9,333.0 573.3,341.3 573.6,341.2 573.9,330.3 574.3,346.9 574.6,328.2 574.9,334.4 575.3,339.1 575.6,323.3 575.9,341.1 576.3,341.8 576.6,335.3 577.0,337.5 577.3,337.3 577.6,335.2 578.0,342.1 578.3,334.0 578.6,336.5 579.0,338.8 579.3,341.5 579.6,342.9 580.0,329.5 580.3,326.7 580.6,336.8 581.0,337.4 581.3,332.1 581.6,339.5 582.0,341.4 582.3,340.2 582.6,347.0 583.0,333.1 583.3,338.7 583.6,348.8 584.0,342.4 584.3,333.2 584.6,340.2 585.0,345.4 585.3,350.2 585.6,343.0 586.0,345.7 586.3,334.1 586.6,338.2 587.0,346.3 587.3,333.6 587.6,340.0 588.0,330.9 588.3,348.2 588.6,339.9 589.0,343.5 589.3,332.8 589.6,333.8 590.0,349.9 590.3,338.9 590.6,337.8 591.0,344.2 591.3,343.5 591.6,330.6 592.0,335.7 592.3,341.0 592.6,340.8 593.0,342.6 593.3,338.6 593.6,339.3 594.0,341.9 594.3,337.3 594.6,336.5 595.0,338.0 595.3,340.9 595.6,340.1 596.0,338.4 596.3,339.6 596.6,340.7 597.0,342.6 597.3,342.8 597.6,334.4 598.0,347.7 598.3,332.8 598.6,343.8 599.0,337.4 599.3,344.0 599.6,346.5 600.0,331.4 600.3,344.1 600.6,342.5 601.0,338.7 601.3,343.1 601.6,338.6 602.0,341.7 602.3,335.8 602.6,345.2 603.0,344.2 603.3,345.0 603.6,336.7 604.0,350.6 604.3,351.3 604.6,340.8 605.0,339.2 605.3,339.2 605.6,344.8 606.0,346.6 606.3,337.5 606.6,331.0 607.0,343.7 607.3,341.2 607.6,342.3 608.0,344.0 608.3,335.8 608.6,341.8 609.0,339.9 609.3,343.4 609.6,347.7 610.0,341.5 610.3,337.1 610.6,347.8 611.0,346.3 611.3,340.5 611.6,332.4 612.0,335.5 612.3,342.3 612.6,344.3 613.0,338.8 613.3,343.7 613.6,338.3 614.0,339.3 614.3,344.2 614.6,339.5 615.0,342.2 615.3,345.9 615.6,347.2 616.0,338.5 616.3,340.2 616.6,334.7 617.0,334.8 617.3,342.9 617.6,337.8 618.0,332.0 618.3,344.1 618.6,337.1 619.0,339.8 619.3,343.5 619.6,343.4 620.0,341.1 620.3,331.3 620.6,344.2 621.0,338.3 621.3,334.2 621.6,330.2 622.0,348.0 622.3,342.2 622.6,341.9 623.0,344.4 623.3,341.0 623.6,333.9 624.0,344.8 624.3,346.4 624.6,344.0 625.0,349.1 625.3,351.0 625.6,337.3 626.0,338.2 626.3,345.8 626.6,342.2 627.0,342.4 627.3,346.1 627.6,345.1 628.0,339.1 628.3,342.0 628.6,337.7 629.0,340.4 629.3,335.7 629.6,331.4 630.0,338.8 630.3,338.4 630.6,345.9 631.0,349.3 631.3,341.5 631.6,343.7 632.0,338.1 632.3,336.7 632.6,339.9 633.0,339.9 633.3,342.9 633.6,341.9 634.0,349.7 634.3,339.8 634.6,333.0 635.0,342.0 635.3,338.0 635.6,342.4 636.0,347.0 636.3,338.1 636.6,340.8 637.0,344.0 637.3,336.6 637.7,342.5 638.0,344.1 638.3,345.5 638.7,346.9 639.0,344.2 639.3,343.4 639.7,334.4 640.0,328.5 640.3,336.5 640.7,348.5 641.0,341.9 641.3,330.0 641.7,339.2 642.0,343.1 642.3,332.0 642.7,344.2 643.0,335.5 643.3,346.5 643.7,341.5 644.0,354.3 644.3,334.5 644.7,342.7 645.0,333.8 645.3,347.0 645.7,341.9 646.0,345.9 646.3,341.7 646.7,335.3 647.0,337.9 647.3,334.9 647.7,335.9 648.0,341.9 648.3,346.6 648.7,345.5 649.0,343.7 649.3,338.3 649.7,343.7 650.0,336.8 650.3,342.1 650.7,345.3 651.0,340.1 651.3,338.7 651.7,338.9 652.0,344.1 652.3,339.5 652.7,333.8 653.0,338.9 653.3,335.6 653.7,348.5 654.0,341.0 654.3,333.5 654.7,342.7 655.0,345.8 655.3,342.8 655.7,339.1 656.0,341.6 656.3,342.3 656.7,347.7 657.0,342.7 657.3,352.3 657.7,339.7 658.0,348.5 658.3,340.9 658.7,332.2 659.0,334.8 659.3,331.6 659.7,329.0 660.0,346.8 660.3,337.4 660.7,343.8 661.0,336.2 661.3,340.6 661.7,335.4 662.0,345.0 662.3,339.4 662.7,338.4 663.0,339.8 663.3,351.6 663.7,342.9 664.0,344.8 664.3,334.3 664.7,337.3 665.0,342.0 665.3,331.2 665.7,347.3 666.0,341.9 666.3,340.4 666.7,339.5 667.0,339.3"/>
<polyline fill="none" stroke="#0000ff" stroke-width="2.8" stroke-linejoin="round" points="60.0,392.7 60.3,364.1 60.7,382.7 61.0,376.6 61.3,377.3 61.7,378.8 62.0,367.6 62.3,378.8 62.7,374.9 63.0,396.3 63.3,381.7 63.7,378.2 64.0,378.6 64.3,376.3 64.7,373.9 65.0,378.1 65.3,383.5 65.7,379.1 66.0,386.6 66.3,379.4 66.7,380.8 67.0,390.3 67.3,384.1 67.7,377.6 68.0,379.7 68.3,384.2 68.7,397.1 69.0,378.6 69.3,379.4 69.7,387.2 70.0,375.5 70.3,379.2 70.7,388.5 71.0,384.7 71.3,381.7 71.7,386.8 72.0,365.3 72.3,387.6 72.7,375.3 73.0,371.0 73.3,383.6 73.7,385.7 74.0,378.6 74.3,374.8 74.7,381.6 75.0,381.2 75.3,390.2 75.7,386.2 76.0,382.8 76.3,388.5 76.7,380.4 77.0,376.0 77.3,385.3 77.7,385.4 78.0,380.5 78.3,377.0 78.7,383.3 79.0,366.5 79.3,386.2 79.7,385.0 80.0,371.9 80.3,382.4 80.7,376.2 81.0,386.9 81.3,369.7 81.7,376.7 82.0,386.8 82.3,389.6 82.7,369.2 83.0,378.5 83.3,384.7 83.7,379.0 84.0,392.6 84.3,375.5 84.7,385.9 85.0,376.6 85.3,394.7 85.7,383.0 86.0,380.9 86.3,369.0 86.7,393.6 87.0,388.0 87.3,388.1 87.7,390.5 88.0,385.7 88.3,378.4 88.7,378.8 89.0,378.9 89.3,392.2 89.7,375.0 90.0,380.4 90.3,382.1 90.7,385.5 91.0,387.7 91.4,376.6 91.7,373.8 92.0,384.4 92.4,391.9 92.7,390.8 93.0,385.9 93.4,382.7 93.7,386.5 94.0,383.3 94.4,389.8 94.7,380.1 95.0,385.8 95.4,384.4 95.7,389.6 96.0,386.6 96.4,400.8 96.7,394.4 97.0,397.7 97.4,373.1 97.7,382.8 98.0,381.9 98.4,388.9 98.7,371.9 99.0,392.9 99.4,394.6 99.7,378.1 100.0,380.1 100.4,381.2 100.7,386.3 101.0,390.0 101.4,402.8 101.7,385.0 102.0,390.8 102.4,387.2 102.7,396.9 103.0,390.8 103.4,394.6 103.7,377.6 104.0,385.2 104.4,381.5 104.7,395.5 105.0,390.5 105.4,384.7 105.7,382.9 106.0,389.5 106.4,382.4 106.7,381.1 107.0,389.6 107.4,401.6 107.7,385.3 108.0,383.5 108.4,379.8 108.7,378.8 109.0,390.1 109.4,392.1 109.7,387.0 110.0,389.0 110.4,387.7 110.7,387.9 111.0,377.9 111.4,384.4 111.7,387.8 112.0,382.5 112.4,384.4 112.7,382.3 113.0,385.3 113.4,392.5 113.7,384.9 114.0,386.5 114.4,392.3 114.7,391.3 115.0,401.2 115.4,375.0 115.7,392.7 116.0,384.7 116.4,388.4 116.7,392.7 117.0,394.2 117.4,394.0 117.7,388.7 118.0,397.4 118.4,386.1 118.7,387.0 119.0,392.7 119.4,384.6 119.7,400.9 120.0,394.1 120.4,401.1 120.7,387.9 121.0,385.0 121.4,389.1 121.7,392.6 122.0,383.5 122.4,390.5 122.7,388.2 123.0,398.0 123.4,384.4 123.7,394.6 124.0,384.6 124.4,382.7 124.7,384.2 125.0,381.4 125.4,389.4 125.7,394.7 126.0,389.9 126.4,392.4 126.7,398.4 127.0,390.3 127.4,389.9 127.7,386.6 128.0,379.2 128.4,393.4 128.7,378.4 129.0,392.8 129.4,388.9 129.7,395.7 130.0,388.6 130.4,384.1 130.7,391.2 131.0,385.8 131.4,387.7 131.7,389.4 132.0,388.4 132.4,387.7 132.7,384.3 133.0,388.2 133.4,376.6 133.7,388.4 134.0,382.3 134.4,396.1 134.7,397.0 135.0,377.9 135.4,390.4 135.7,388.8 136.0,383.4 136.4,392.8 136.7,386.9 137.0,375.6 137.4,388.2 137.7,388.9 138.0,390.4 138.4,382.5 138.7,393.5 139.0,395.8 139.4,383.1 139.7,386.1 140.0,389.5 140.4,386.8 140.7,400.5 141.0,391.5 141.4,384.4 141.7,385.9 142.0,390.3 142.4,409.0 142.7,389.8 143.0,391.7 143.4,395.1 143.7,390.8 144.0,404.6 144.4,387.1 144.7,395.8 145.0,392.5 145.4,395.3 145.7,384.8 146.0,402.2 146.4,391.2 146.7,392.2 147.0,384.7 147.4,387.9 147.7,395.6 148.0,398.2 148.4,396.9 148.7,399.7 149.0,396.9 149.4,393.0 149.7,397.8 150.0,396.5 150.4,392.5 150.7,397.4 151.1,400.8 151.4,394.8 151.7,391.4 152.1,397.8 152.4,404.7 152.7,392.6 153.1,393.4 153.4,393.2 153.7,401.2 154.1,383.6 154.4,396.4 154.7,401.3 155.1,389.8 155.4,403.2 155.7,397.8 156.1,391.6 156.4,396.1 156.7,386.2 157.1,391.9 157.4,405.7 157.7,390.2 158.1,406.0 158.4,395.0 158.7,401.3 159.1,396.0 159.4,383.0 159.7,392.6 160.1,397.1 160.4,389.6 160.7,388.6 161.1,399.2 161.4,392.8 161.7,387.0 162.1,392.9 162.4,401.9 162.7,394.4 163.1,402.5 163.4,409.1 163.7,397.7 164.1,389.0 164.4,390.4 164.7,397.7 165.1,403.0 165.4,399.7 165.7,401.4 166.1,395.0 166.4,400.3 166.7,396.0 167.1,397.0 167.4,391.7 167.7,390.2 168.1,395.6 168.4,393.1 168.7,394.1 169.1,403.4 169.4,399.2 169.7,414.3 170.1,407.0 170.4,396.6 170.7,404.6 171.1,402.4 171.4,396.7 171.7,406.8 172.1,396.5 172.4,386.6 172.7,405.5 173.1,397.8 173.4,409.6 173.7,397.9 174.1,395.1 174.4,410.4 174.7,395.9 175.1,403.2 175.4,410.2 175.7,402.9 176.1,402.0 176.4,403.1 176.7,407.3 177.1,398.4 177.4,406.3 177.7,406.3 178.1,420.6 178.4,401.5 178.7,398.5 179.1,407.7 179.4,401.6 179.7,405.5 180.1,405.0 180.4,412.6 180.7,400.3 181.1,403.3 181.4,389.7 181.7,398.8 182.1,412.0 182.4,399.8 182.7,399.6 183.1,396.7 183.4,406.5 183.7,404.2 184.1,396.7 184.4,406.8 184.7,404.5 185.1,407.1 185.4,399.4 185.7,412.4 186.1,405.0 186.4,402.1 186.7,399.8 187.1,401.2 187.4,407.3 187.7,401.0 188.1,408.4 188.4,405.5 188.7,409.7 189.1,406.7 189.4,401.8 189.7,391.5 190.1,403.6 190.4,407.8 190.7,402.8 191.1,404.9 191.4,398.2 191.7,399.5 192.1,396.3 192.4,409.1 192.7,402.3 193.1,398.6 193.4,393.9 193.7,400.1 194.1,409.2 194.4,403.7 194.7,395.6 195.1,409.0 195.4,408.9 195.7,406.3 196.1,405.2 196.4,407.2 196.7,403.7 197.1,404.9 197.4,396.2 197.7,408.8 198.1,401.7 198.4,411.6 198.7,388.8 199.1,404.1 199.4,405.6 199.7,398.1 200.1,402.5 200.4,404.1 200.7,403.0 201.1,396.6 201.4,398.7 201.7,407.1 202.1,406.5 202.4,399.7 202.7,399.5 203.1,400.1 203.4,404.7 203.7,392.7 204.1,391.1 204.4,399.2 204.7,389.9 205.1,394.9 205.4,398.6 205.7,400.7 206.1,391.8 206.4,402.3 206.7,387.6 207.1,400.6 207.4,388.4 207.7,390.0 208.1,400.8 208.4,394.7 208.7,392.4 209.1,393.4 209.4,399.4 209.7,396.3 210.1,396.3 210.4,402.4 210.7,392.1 211.1,393.4 211.4,393.0 211.8,402.6 212.1,401.5 212.4,403.0 212.8,395.3 213.1,394.5 213.4,400.2 213.8,392.9 214.1,399.9 214.4,400.6 214.8,390.8 215.1,394.2 215.4,393.9 215.8,404.5 216.1,409.2 216.4,393.7 216.8,394.2 217.1,380.8 217.4,395.1 217.8,393.7 218.1,387.4 218.4,398.1 218.8,384.3 219.1,392.1 219.4,394.0 219.8,385.8 220.1,399.7 220.4,401.2 220.8,384.7 221.1,381.6 221.4,396.2 221.8,392.4 222.1,385.4 222.4,390.7 222.8,391.5 223.1,391.4 223.4,397.0 223.8,394.3 224.1,402.3 224.4,402.8 224.8,395.8 225.1,398.0 225.4,399.4 225.8,395.7 226.1,384.3 226.4,396.4 226.8,391.7 227.1,400.8 227.4,391.7 227.8,394.2 228.1,392.9 228.4,400.8 228.8,391.9 229.1,389.1 229.4,392.5 229.8,388.0 230.1,391.4 230.4,390.3 230.8,391.9 231.1,401.6 231.4,387.7 231.8,390.4 232.1,388.4 232.4,395.3 232.8,382.8 233.1,385.6 233.4,389.4 233.8,392.8 234.1,389.2 234.4,386.4 234.8,384.2 235.1,392.3 235.4,397.7 235.8,391.0 236.1,390.1 236.4,391.5 236.8,383.2 237.1,386.9 237.4,387.0 237.8,390.3 238.1,388.3 238.4,381.1 238.8,395.0 239.1,398.3 239.4,386.6 239.8,390.4 240.1,389.6 240.4,394.2 240.8,378.9 241.1,397.3 241.4,384.8 241.8,395.1 242.1,387.9 242.4,384.9 242.8,386.3 243.1,392.5 243.4,381.8 243.8,384.6 244.1,383.9 244.4,376.3 244.8,394.4 245.1,390.0 245.4,386.2 245.8,393.3 246.1,380.4 246.4,385.6 246.8,396.4 247.1,393.9 247.4,372.3 247.8,370.1 248.1,379.3 248.4,391.9 248.8,382.5 249.1,383.9 249.4,388.9 249.8,379.7 250.1,386.3 250.4,389.7 250.8,387.6 251.1,387.1 251.4,380.9 251.8,387.6 252.1,381.8 252.4,392.2 252.8,399.9 253.1,379.5 253.4,370.7 253.8,381.3 254.1,386.1 254.4,390.1 254.8,390.2 255.1,378.7 255.4,378.5 255.8,391.0 256.1,374.1 256.4,389.8 256.8,381.6 257.1,387.6 257.4,387.1 257.8,387.4 258.1,387.6 258.4,374.2 258.8,384.2 259.1,382.4 259.4,384.1 259.8,389.7 260.1,380.3 260.4,377.5 260.8,377.4 261.1,379.2 261.4,386.4 261.8,376.7 262.1,388.9 262.4,383.4 262.8,380.2 263.1,373.3 263.4,383.0 263.8,385.7 264.1,370.4 264.4,388.7 264.8,391.5 265.1,384.1 265.4,385.3 265.8,396.1 266.1,388.7 266.4,375.5 266.8,380.9 267.1,379.6 267.4,379.9 267.8,366.1 268.1,385.5 268.4,376.8 268.8,381.7 269.1,379.8 269.4,387.9 269.8,378.7 270.1,375.5 270.4,383.7 270.8,389.1 271.1,378.3 271.4,388.8 271.8,381.9 272.1,376.9 272.4,389.6 272.8,375.0 273.1,386.4 273.5,376.9 273.8,382.7 274.1,372.2 274.5,374.6 274.8,386.4 275.1,381.3 275.5,379.9 275.8,376.9 276.1,383.3 276.5,370.8 276.8,372.5 277.1,378.4 277.5,374.2 277.8,374.9 278.1,378.8 278.5,378.4 278.8,377.8 279.1,389.6 279.5,385.4 279.8,386.7 280.1,378.8 280.5,375.7 280.8,369.6 281.1,376.4 281.5,365.4 281.8,374.7 282.1,383.1 282.5,388.3 282.8,386.2 283.1,370.6 283.5,380.9 283.8,372.7 284.1,382.8 284.5,376.7 284.8,382.7 285.1,393.5 285.5,382.9 285.8,391.7 286.1,378.0 286.5,373.9 286.8,385.1 287.1,387.5 287.5,372.9 287.8,376.8 288.1,363.8 288.5,374.8 288.8,381.6 289.1,375.3 289.5,372.1 289.8,366.6 290.1,377.8 290.5,380.4 290.8,379.0 291.1,376.7 291.5,366.8 291.8,386.1 292.1,374.4 292.5,373.7 292.8,379.2 293.1,360.5 293.5,373.9 293.8,373.3 294.1,376.4 294.5,382.6 294.8,376.9 295.1,361.9 295.5,371.4 295.8,374.8 296.1,374.3 296.5,365.0 296.8,362.4 297.1,376.5 297.5,375.1 297.8,372.6 298.1,361.5 298.5,384.0 298.8,355.8 299.1,369.9 299.5,385.7 299.8,371.0 300.1,373.4 300.5,361.2 300.8,380.1 301.1,362.6 301.5,372.3 301.8,371.3 302.1,363.2 302.5,375.6 302.8,360.2 303.1,364.7 303.5,368.6 303.8,364.9 304.1,371.4 304.5,374.1 304.8,365.7 305.1,362.5 305.5,362.4 305.8,364.3 306.1,371.9 306.5,364.7 306.8,368.6 307.1,365.0 307.5,359.6 307.8,370.8 308.1,357.7 308.5,364.4 308.8,374.1 309.1,356.4 309.5,363.1 309.8,348.7 310.1,359.4 310.5,352.4 310.8,359.8 311.1,358.3 311.5,362.6 311.8,372.2 312.1,363.0 312.5,365.3 312.8,360.1 313.1,358.5 313.5,354.1 313.8,347.2 314.1,359.7 314.5,370.2 314.8,362.0 315.1,354.7 315.5,373.5 315.8,354.8 316.1,353.2 316.5,348.7 316.8,350.2 317.1,354.9 317.5,375.1 317.8,354.5 318.1,348.4 318.5,351.1 318.8,353.5 319.1,342.7 319.5,355.4 319.8,359.1 320.1,356.2 320.5,357.9 320.8,344.3 321.1,337.0 321.5,362.1 321.8,360.5 322.1,341.6 322.5,353.7 322.8,352.2 323.1,355.7 323.5,353.1 323.8,347.7 324.1,352.5 324.5,352.0 324.8,350.3 325.1,337.1 325.5,331.7 325.8,344.3 326.1,333.8 326.5,351.3 326.8,354.4 327.1,350.9 327.5,346.1 327.8,349.0 328.1,356.7 328.5,342.8 328.8,354.5 329.1,352.7 329.5,349.3 329.8,361.4 330.1,341.7 330.5,353.5 330.8,339.7 331.1,340.6 331.5,338.2 331.8,349.0 332.1,338.6 332.5,345.6 332.8,336.7 333.1,355.4 333.5,358.1 333.8,346.0 334.2,356.2 334.5,348.0 334.8,359.6 335.2,344.4 335.5,331.5 335.8,354.0 336.2,341.4 336.5,334.8 336.8,337.4 337.2,329.9 337.5,340.5 337.8,333.5 338.2,352.4 338.5,346.0 338.8,328.4 339.2,329.3 339.5,336.1 339.8,325.7 340.2,339.1 340.5,339.4 340.8,333.7 341.2,335.1 341.5,342.8 341.8,349.5 342.2,349.9 342.5,338.6 342.8,344.6 343.2,332.4 343.5,340.8 343.8,327.7 344.2,342.8 344.5,327.7 344.8,329.5 345.2,336.6 345.5,340.7 345.8,325.3 346.2,331.9 346.5,336.8 346.8,337.3 347.2,328.9 347.5,335.9 347.8,332.9 348.2,345.5 348.5,340.2 348.8,324.1 349.2,317.1 349.5,334.6 349.8,342.7 350.2,334.7 350.5,340.0 350.8,329.2 351.2,322.2 351.5,338.3 351.8,333.1 352.2,337.4 352.5,321.2 352.8,333.1 353.2,326.6 353.5,337.5 353.8,324.9 354.2,324.4 354.5,326.0 354.8,340.2 355.2,330.4 355.5,324.0 355.8,321.7 356.2,321.3 356.5,340.7 356.8,314.8 357.2,322.2 357.5,333.6 357.8,337.7 358.2,327.0 358.5,334.2 358.8,333.7 359.2,335.3 359.5,327.7 359.8,340.2 360.2,328.6 360.5,339.1 360.8,318.1 361.2,334.1 361.5,313.2 361.8,314.6 362.2,330.3 362.5,319.7 362.8,329.7 363.2,314.6 363.5,338.6 363.8,326.0 364.2,316.6 364.5,326.9 364.8,332.4 365.2,319.1 365.5,329.3 365.8,347.2 366.2,331.8 366.5,324.7 366.8,320.1 367.2,329.2 367.5,312.3 367.8,303.3 368.2,318.8 368.5,312.5 368.8,337.9 369.2,324.9 369.5,313.1 369.8,314.2 370.2,329.0 370.5,316.6 370.8,318.5 371.2,322.3 371.5,323.6 371.8,323.6 372.2,323.6 372.5,333.0 372.8,336.1 373.2,308.9 373.5,342.4 373.8,323.6 374.2,332.0 374.5,315.8 374.8,324.3 375.2,323.3 375.5,322.8 375.8,328.2 376.2,326.3 376.5,312.8 376.8,319.9 377.2,326.7 377.5,326.2 377.8,317.7 378.2,318.1 378.5,319.0 378.8,311.1 379.2,309.5 379.5,332.6 379.8,316.5 380.2,320.9 380.5,313.5 380.8,330.1 381.2,333.8 381.5,317.7 381.8,323.6 382.2,313.2 382.5,333.8 382.8,326.9 383.2,312.4 383.5,329.5 383.8,322.2 384.2,324.0 384.5,322.1 384.8,313.7 385.2,314.7 385.5,324.1 385.8,318.6 386.2,311.2 386.5,335.6 386.8,317.2 387.2,314.3 387.5,313.1 387.8,324.4 388.2,326.7 388.5,320.7 388.8,328.5 389.2,306.4 389.5,315.6 389.8,314.7 390.2,318.6 390.5,322.5 390.8,301.7 391.2,339.0 391.5,311.3 391.8,321.2 392.2,325.1 392.5,325.2 392.8,320.2 393.2,296.6 393.5,309.2 393.8,324.3 394.2,310.5 394.5,306.4 394.9,298.6 395.2,327.9 395.5,322.0 395.9,310.4 396.2,316.4 396.5,316.8 396.9,308.5 397.2,315.3 397.5,320.4 397.9,323.7 398.2,327.8 398.5,317.6 398.9,313.5 399.2,320.6 399.5,312.1 399.9,306.9 400.2,326.6 400.5,314.1 400.9,318.3 401.2,324.7 401.5,305.2 401.9,322.8 402.2,321.3 402.5,316.9 402.9,322.2 403.2,311.6 403.5,299.8 403.9,314.8 404.2,310.5 404.5,325.2 404.9,320.3 405.2,313.8 405.5,318.6 405.9,329.4 406.2,327.7 406.5,321.5 406.9,322.0 407.2,316.3 407.5,317.6 407.9,323.5 408.2,317.8 408.5,321.3 408.9,309.8 409.2,305.3 409.5,305.2 409.9,315.5 410.2,330.0 410.5,328.9 410.9,311.2 411.2,306.7 411.5,325.9 411.9,324.6 412.2,308.4 412.5,328.2 412.9,321.1 413.2,330.5 413.5,322.6 413.9,327.1 414.2,322.6 414.5,312.3 414.9,318.2 415.2,314.7 415.5,327.0 415.9,312.2 416.2,307.9 416.5,326.0 416.9,329.8 417.2,336.4 417.5,329.5 417.9,308.5 418.2,313.2 418.5,316.4 418.9,320.7 419.2,303.5 419.5,320.9 419.9,323.3 420.2,313.4 420.5,322.2 420.9,330.9 421.2,321.8 421.5,330.0 421.9,329.8 422.2,325.0 422.5,324.8 422.9,318.8 423.2,331.9 423.5,318.2 423.9,316.4 424.2,327.8 424.5,316.4 424.9,325.7 425.2,330.9 425.5,323.1 425.9,323.4 426.2,332.7 426.5,328.8 426.9,310.4 427.2,308.7 427.5,333.7 427.9,326.2 428.2,306.4 428.5,312.4 428.9,323.5 429.2,312.9 429.5,327.3 429.9,324.2 430.2,327.6 430.5,314.4 430.9,328.8 431.2,339.6 431.5,317.7 431.9,334.6 432.2,332.1 432.5,329.5 432.9,323.9 433.2,315.2 433.5,317.5 433.9,330.7 434.2,332.5 434.5,334.6 434.9,332.6 435.2,332.2 435.5,321.6 435.9,315.5 436.2,326.9 436.5,329.3 436.9,326.1 437.2,313.4 437.5,320.1 437.9,313.9 438.2,326.9 438.5,317.5 438.9,324.2 439.2,328.6 439.5,327.2 439.9,337.0 440.2,317.5 440.5,309.1 440.9,334.0 441.2,337.8 441.5,338.2 441.9,329.2 442.2,331.4 442.5,328.6 442.9,317.1 443.2,323.0 443.5,331.6 443.9,323.2 444.2,343.0 444.5,315.9 444.9,324.8 445.2,337.1 445.5,323.7 445.9,319.7 446.2,318.0 446.5,323.1 446.9,340.9 447.2,332.3 447.5,333.3 447.9,325.3 448.2,336.1 448.5,330.5 448.9,322.6 449.2,326.4 449.5,331.7 449.9,339.4 450.2,330.1 450.5,334.9 450.9,347.1 451.2,325.7 451.5,322.7 451.9,340.4 452.2,336.6 452.5,332.9 452.9,336.1 453.2,331.2 453.5,339.0 453.9,332.9 454.2,342.0 454.5,327.4 454.9,330.6 455.2,338.1 455.6,334.1 455.9,343.4 456.2,338.3 456.6,335.0 456.9,341.2 457.2,336.1 457.6,328.9 457.9,329.7 458.2,335.6 458.6,338.6 458.9,343.3 459.2,349.9 459.6,347.7 459.9,357.3 460.2,354.0 460.6,343.8 460.9,357.7 461.2,354.8 461.6,343.3 461.9,349.4 462.2,355.5 462.6,349.6 462.9,355.5 463.2,351.3 463.6,353.9 463.9,346.8 464.2,352.2 464.6,347.1 464.9,354.9 465.2,338.3 465.6,353.1 465.9,360.0 466.2,357.0 466.6,351.5 466.9,355.8 467.2,344.3 467.6,346.7 467.9,349.6 468.2,352.2 468.6,360.4 468.9,347.5 469.2,361.2 469.6,343.4 469.9,349.2 470.2,354.9 470.6,363.5 470.9,351.4 471.2,341.0 471.6,359.3 471.9,356.5 472.2,349.4 472.6,350.0 472.9,352.8 473.2,358.6 473.6,362.8 473.9,348.3 474.2,374.7 474.6,358.9 474.9,356.9 475.2,364.4 475.6,360.9 475.9,376.5 476.2,368.3 476.6,357.8 476.9,357.9 477.2,358.3 477.6,359.7 477.9,366.9 478.2,358.2 478.6,373.9 478.9,362.7 479.2,362.6 479.6,370.3 479.9,350.8 480.2,358.2 480.6,368.7 480.9,365.0 481.2,365.1 481.6,368.0 481.9,361.6 482.2,364.7 482.6,357.0 482.9,353.8 483.2,375.0 483.6,360.6 483.9,362.2 484.2,376.5 484.6,377.1 484.9,363.1 485.2,364.4 485.6,367.6 485.9,362.1 486.2,373.6 486.6,369.8 486.9,369.9 487.2,374.3 487.6,374.3 487.9,381.9 488.2,380.0 488.6,359.0 488.9,376.4 489.2,363.4 489.6,361.6 489.9,375.8 490.2,366.8 490.6,369.6 490.9,378.8 491.2,367.8 491.6,366.5 491.9,374.7 492.2,380.7 492.6,376.5 492.9,363.3 493.2,369.3 493.6,372.8 493.9,386.4 494.2,380.0 494.6,379.9 494.9,382.4 495.2,372.9 495.6,378.2 495.9,378.5 496.2,369.4 496.6,375.7 496.9,381.0 497.2,369.4 497.6,381.7 497.9,381.6 498.2,383.6 498.6,372.3 498.9,378.2 499.2,390.2 499.6,382.9 499.9,373.2 500.2,379.8 500.6,387.5 500.9,378.3 501.2,381.4 501.6,395.1 501.9,379.1 502.2,378.9 502.6,373.5 502.9,375.9 503.2,389.4 503.6,379.5 503.9,373.2 504.2,375.0 504.6,381.0 504.9,385.9 505.2,376.7 505.6,386.0 505.9,378.7 506.2,384.1 506.6,385.3 506.9,387.4 507.2,379.0 507.6,381.7 507.9,386.0 508.2,375.1 508.6,384.3 508.9,386.6 509.2,390.0 509.6,383.6 509.9,382.9 510.2,385.1 510.6,379.9 510.9,383.3 511.2,387.3 511.6,386.7 511.9,378.8 512.2,383.4 512.6,368.3 512.9,392.3 513.2,382.7 513.6,387.6 513.9,379.7 514.2,386.0 514.6,390.3 514.9,392.8 515.2,378.9 515.6,392.4 515.9,386.5 516.3,383.0 516.6,390.7 516.9,386.3 517.3,386.5 517.6,384.3 517.9,390.4 518.3,389.1 518.6,388.0 518.9,383.6 519.3,386.4 519.6,392.0 519.9,397.4 520.3,389.8 520.6,398.5 520.9,390.2 521.3,381.7 521.6,394.2 521.9,382.9 522.3,393.2 522.6,397.2 522.9,389.2 523.3,390.7 523.6,410.8 523.9,392.9 524.3,393.1 524.6,396.3 524.9,391.3 525.3,391.5 525.6,394.4 525.9,378.3 526.3,400.7 526.6,386.3 526.9,386.4 527.3,395.9 527.6,393.1 527.9,385.8 528.3,394.4 528.6,386.7 528.9,389.4 529.3,384.9 529.6,388.9 529.9,396.2 530.3,394.7 530.6,395.9 530.9,399.6 531.3,394.2 531.6,390.7 531.9,393.1 532.3,404.3 532.6,395.1 532.9,396.9 533.3,394.6 533.6,396.7 533.9,397.9 534.3,395.5 534.6,394.8 534.9,391.4 535.3,391.2 535.6,398.5 535.9,400.5 536.3,401.7 536.6,396.8 536.9,392.0 537.3,400.4 537.6,401.6 537.9,388.5 538.3,401.8 538.6,400.6 538.9,406.9 539.3,391.2 539.6,390.5 539.9,403.8 540.3,387.9 540.6,392.5 540.9,392.1 541.3,392.7 541.6,387.8 541.9,397.3 542.3,404.3 542.6,401.4 542.9,401.6 543.3,397.2 543.6,407.5 543.9,402.5 544.3,405.5 544.6,391.1 544.9,401.8 545.3,393.7 545.6,402.1 545.9,401.4 546.3,394.2 546.6,401.6 546.9,407.2 547.3,403.7 547.6,404.3 547.9,396.4 548.3,397.5 548.6,395.3 548.9,402.3 549.3,408.3 549.6,404.2 549.9,402.0 550.3,395.9 550.6,404.7 550.9,401.1 551.3,392.0 551.6,393.1 551.9,400.9 552.3,398.0 552.6,412.1 552.9,403.4 553.3,397.6 553.6,400.8 553.9,412.3 554.3,398.5 554.6,408.1 554.9,406.4 555.3,412.1 555.6,407.2 555.9,402.2 556.3,407.4 556.6,405.0 556.9,410.1 557.3,404.6 557.6,415.8 557.9,404.7 558.3,407.7 558.6,400.7 558.9,406.3 559.3,405.9 559.6,406.8 559.9,410.9 560.3,403.2 560.6,401.7 560.9,414.4 561.3,404.4 561.6,403.0 561.9,412.9 562.3,412.4 562.6,392.9 562.9,404.9 563.3,411.3 563.6,411.6 563.9,404.5 564.3,415.7 564.6,403.2 564.9,406.3 565.3,408.4 565.6,407.8 565.9,413.7 566.3,413.4 566.6,407.9 566.9,415.6 567.3,404.7 567.6,407.3 567.9,417.7 568.3,409.1 568.6,414.4 568.9,406.5 569.3,407.5 569.6,408.5 569.9,410.0 570.3,407.4 570.6,409.4 570.9,413.0 571.3,415.9 571.6,410.2 571.9,413.2 572.3,414.7 572.6,404.3 572.9,401.8 573.3,418.7 573.6,417.2 573.9,410.7 574.3,412.3 574.6,405.6 574.9,403.4 575.3,412.4 575.6,403.1 575.9,415.7 576.3,407.5 576.6,412.7 577.0,421.4 577.3,421.2 577.6,409.6 578.0,417.1 578.3,406.3 578.6,407.7 579.0,413.8 579.3,419.2 579.6,409.1 580.0,416.0 580.3,412.8 580.6,405.8 581.0,411.7 581.3,420.3 581.6,412.2 582.0,415.3 582.3,417.1 582.6,409.1 583.0,419.4 583.3,420.9 583.6,421.5 584.0,420.1 584.3,411.0 584.6,410.5 585.0,409.6 585.3,409.0 585.6,409.7 586.0,419.0 586.3,421.5 586.6,410.8 587.0,418.4 587.3,407.8 587.6,412.7 588.0,407.6 588.3,406.2 588.6,415.0 589.0,415.2 589.3,412.8 589.6,412.3 590.0,410.0 590.3,414.5 590.6,412.2 591.0,416.6 591.3,409.3 591.6,416.7 592.0,418.3 592.3,422.1 592.6,421.2 593.0,416.9 593.3,412.6 593.6,406.8 594.0,416.2 594.3,423.5 594.6,424.9 595.0,403.6 595.3,412.8 595.6,415.0 596.0,411.5 596.3,417.9 596.6,417.2 597.0,414.5 597.3,417.0 597.6,409.3 598.0,412.5 598.3,413.0 598.6,422.2 599.0,409.5 599.3,416.7 599.6,421.8 600.0,417.7 600.3,422.1 600.6,414.7 601.0,420.2 601.3,422.6 601.6,429.3 602.0,421.7 602.3,425.2 602.6,418.1 603.0,418.5 603.3,428.7 603.6,421.0 604.0,425.2 604.3,421.6 604.6,428.7 605.0,430.1 605.3,413.9 605.6,427.4 606.0,420.3 606.3,420.5 606.6,417.5 607.0,421.7 607.3,412.5 607.6,414.4 608.0,414.3 608.3,419.6 608.6,422.8 609.0,421.8 609.3,420.0 609.6,415.1 610.0,409.3 610.3,420.2 610.6,419.2 611.0,419.9 611.3,425.3 611.6,417.2 612.0,417.1 612.3,406.5 612.6,421.0 613.0,417.9 613.3,414.4 613.6,420.1 614.0,412.9 614.3,415.4 614.6,428.0 615.0,421.9 615.3,422.8 615.6,421.9 616.0,421.4 616.3,419.1 616.6,429.7 617.0,417.8 617.3,423.2 617.6,417.0 618.0,416.4 618.3,405.8 618.6,408.4 619.0,428.7 619.3,425.6 619.6,415.2 620.0,417.9 620.3,422.3 620.6,413.0 621.0,426.9 621.3,412.7 621.6,414.3 622.0,400.3 622.3,425.5 622.6,418.1 623.0,426.0 623.3,412.7 623.6,419.4 624.0,418.1 624.3,418.7 624.6,431.8 625.0,429.0 625.3,424.5 625.6,414.8 626.0,422.0 626.3,424.2 626.6,420.2 627.0,420.2 627.3,419.8 627.6,412.7 628.0,418.5 628.3,425.4 628.6,412.1 629.0,417.7 629.3,421.4 629.6,407.8 630.0,416.4 630.3,408.4 630.6,413.9 631.0,407.3 631.3,412.4 631.6,414.4 632.0,415.0 632.3,415.8 632.6,404.5 633.0,424.8 633.3,415.3 633.6,411.1 634.0,413.4 634.3,418.2 634.6,411.4 635.0,414.4 635.3,414.1 635.6,419.2 636.0,412.6 636.3,418.7 636.6,418.7 637.0,415.5 637.3,422.6 637.7,416.4 638.0,408.1 638.3,417.7 638.7,416.8 639.0,415.9 639.3,417.3 639.7,428.0 640.0,417.2 640.3,418.4 640.7,414.8 641.0,422.8 641.3,415.8 641.7,412.0 642.0,409.9 642.3,418.9 642.7,420.0 643.0,408.1 643.3,412.6 643.7,419.5 644.0,421.5 644.3,409.6 644.7,414.3 645.0,420.6 645.3,412.7 645.7,414.1 646.0,413.7 646.3,409.8 646.7,416.7 647.0,418.1 647.3,409.4 647.7,417.1 648.0,422.2 648.3,417.7 648.7,421.4 649.0,412.9 649.3,423.6 649.7,412.7 650.0,426.3 650.3,414.5 650.7,413.1 651.0,412.3 651.3,414.7 651.7,413.5 652.0,413.4 652.3,414.6 652.7,420.3 653.0,421.4 653.3,415.3 653.7,423.3 654.0,412.0 654.3,411.8 654.7,411.3 655.0,420.1 655.3,409.3 655.7,410.1 656.0,423.6 656.3,425.9 656.7,426.4 657.0,409.7 657.3,417.3 657.7,421.5 658.0,417.8 658.3,409.1 658.7,415.6 659.0,408.8 659.3,411.2 659.7,428.3 660.0,422.1 660.3,410.0 660.7,409.9 661.0,419.8 661.3,414.5 661.7,420.5 662.0,413.2 662.3,416.6 662.7,418.8 663.0,412.4 663.3,408.0 663.7,411.7 664.0,414.2 664.3,416.7 664.7,417.5 665.0,417.5 665.3,421.3 665.7,413.3 666.0,424.9 666.3,428.0 666.7,419.7 667.0,418.9"/>
<polyline fill="none" stroke="#008080" stroke-width="2.8" stroke-linejoin="round" points="60.0,412.9 60.3,413.5 60.7,423.1 61.0,419.9 61.3,411.3 61.7,423.0 62.0,422.5 62.3,428.1 62.7,420.0 63.0,430.0 63.3,430.2 63.7,437.2 64.0,430.8 64.3,431.9 64.7,421.7 65.0,441.1 65.3,419.8 65.7,435.4 66.0,428.1 66.3,425.4 66.7,426.6 67.0,426.7 67.3,432.1 67.7,429.7 68.0,438.0 68.3,421.2 68.7,430.6 69.0,426.2 69.3,434.8 69.7,420.1 70.0,429.3 70.3,432.2 70.7,423.7 71.0,436.3 71.3,432.3 71.7,436.6 72.0,436.5 72.3,426.7 72.7,427.8 73.0,430.9 73.3,435.8 73.7,436.4 74.0,428.6 74.3,428.2 74.7,427.0 75.0,429.6 75.3,431.4 75.7,432.0 76.0,443.2 76.3,430.4 76.7,431.6 77.0,435.4 77.3,428.4 77.7,431.5 78.0,433.5 78.3,437.4 78.7,427.0 79.0,440.6 79.3,432.0 79.7,434.8 80.0,438.2 80.3,437.4 80.7,439.4 81.0,435.1 81.3,434.2 81.7,435.9 82.0,429.4 82.3,440.5 82.7,430.7 83.0,428.3 83.3,444.9 83.7,433.8 84.0,428.9 84.3,444.1 84.7,433.3 85.0,440.3 85.3,431.0 85.7,433.9 86.0,426.8 86.3,425.8 86.7,430.5 87.0,435.0 87.3,439.4 87.7,447.5 88.0,430.5 88.3,440.7 88.7,432.7 89.0,435.0 89.3,428.6 89.7,428.6 90.0,432.2 90.3,430.2 90.7,436.1 91.0,432.7 91.4,442.4 91.7,437.4 92.0,437.2 92.4,444.0 92.7,439.1 93.0,436.4 93.4,436.2 93.7,436.1 94.0,442.1 94.4,440.7 94.7,438.7 95.0,440.9 95.4,434.4 95.7,439.6 96.0,430.3 96.4,443.9 96.7,437.8 97.0,438.3 97.4,440.4 97.7,437.5 98.0,436.4 98.4,443.5 98.7,438.3 99.0,433.3 99.4,440.0 99.7,429.6 100.0,446.1 100.4,437.2 100.7,438.3 101.0,449.1 101.4,448.6 101.7,438.7 102.0,441.2 102.4,443.5 102.7,446.4 103.0,437.7 103.4,439.0 103.7,444.3 104.0,439.7 104.4,442.1 104.7,441.4 105.0,433.0 105.4,432.9 105.7,426.1 106.0,437.3 106.4,445.1 106.7,433.3 107.0,446.8 107.4,443.6 107.7,438.5 108.0,438.8 108.4,439.2 108.7,434.7 109.0,437.5 109.4,438.7 109.7,441.9 110.0,444.2 110.4,435.4 110.7,443.1 111.0,435.3 111.4,438.0 111.7,441.0 112.0,439.1 112.4,438.6 112.7,440.6 113.0,436.6 113.4,436.2 113.7,438.4 114.0,444.0 114.4,438.9 114.7,448.7 115.0,440.5 115.4,427.1 115.7,437.4 116.0,447.6 116.4,439.7 116.7,437.6 117.0,435.5 117.4,446.1 117.7,444.6 118.0,443.0 118.4,441.9 118.7,446.8 119.0,443.9 119.4,434.0 119.7,443.7 120.0,440.8 120.4,439.5 120.7,443.7 121.0,440.2 121.4,427.8 121.7,450.3 122.0,445.2 122.4,439.6 122.7,438.5 123.0,441.4 123.4,434.2 123.7,441.8 124.0,439.3 124.4,438.7 124.7,436.0 125.0,437.3 125.4,445.8 125.7,449.2 126.0,443.0 126.4,440.4 126.7,436.5 127.0,444.1 127.4,448.4 127.7,433.0 128.0,446.4 128.4,430.5 128.7,439.2 129.0,442.7 129.4,434.4 129.7,433.7 130.0,441.9 130.4,445.2 130.7,438.8 131.0,447.5 131.4,437.4 131.7,449.5 132.0,441.8 132.4,442.4 132.7,444.2 133.0,442.8 133.4,450.1 133.7,451.9 134.0,444.0 134.4,440.6 134.7,435.9 135.0,437.9 135.4,441.6 135.7,441.1 136.0,441.3 136.4,441.7 136.7,444.0 137.0,435.3 137.4,436.9 137.7,447.1 138.0,445.8 138.4,439.3 138.7,448.0 139.0,437.6 139.4,440.7 139.7,433.3 140.0,446.0 140.4,442.0 140.7,447.1 141.0,445.5 141.4,442.6 141.7,443.0 142.0,447.9 142.4,441.5 142.7,441.6 143.0,442.7 143.4,446.2 143.7,446.8 144.0,451.6 144.4,442.2 144.7,448.6 145.0,439.5 145.4,445.5 145.7,443.3 146.0,451.0 146.4,445.7 146.7,440.7 147.0,445.6 147.4,444.6 147.7,441.5 148.0,441.6 148.4,438.6 148.7,455.0 149.0,443.8 149.4,447.8 149.7,437.7 150.0,438.1 150.4,442.5 150.7,442.6 151.1,447.1 151.4,438.6 151.7,446.0 152.1,450.6 152.4,439.2 152.7,447.8 153.1,439.0 153.4,445.2 153.7,445.3 154.1,451.8 154.4,439.4 154.7,444.5 155.1,448.6 155.4,438.3 155.7,443.8 156.1,439.8 156.4,440.6 156.7,447.1 157.1,447.2 157.4,455.8 157.7,450.5 158.1,450.1 158.4,443.3 158.7,442.7 159.1,444.8 159.4,433.5 159.7,452.0 160.1,441.1 160.4,437.6 160.7,442.1 161.1,448.4 161.4,450.1 161.7,442.6 162.1,446.4 162.4,444.1 162.7,438.2 163.1,445.3 163.4,444.6 163.7,437.3 164.1,451.5 164.4,437.2 164.7,445.7 165.1,439.7 165.4,440.9 165.7,441.4 166.1,448.0 166.4,438.9 166.7,443.9 167.1,452.0 167.4,441.6 167.7,444.7 168.1,448.0 168.4,442.2 168.7,447.2 169.1,441.9 169.4,448.3 169.7,445.3 170.1,440.7 170.4,451.7 170.7,444.7 171.1,443.9 171.4,440.9 171.7,443.1 172.1,444.8 172.4,446.1 172.7,450.4 173.1,439.3 173.4,443.8 173.7,451.0 174.1,446.3 174.4,447.4 174.7,452.9 175.1,447.1 175.4,447.8 175.7,445.4 176.1,453.9 176.4,450.6 176.7,442.4 177.1,448.3 177.4,440.5 177.7,450.9 178.1,449.0 178.4,445.1 178.7,444.1 179.1,437.6 179.4,449.5 179.7,445.5 180.1,444.6 180.4,449.3 180.7,442.8 181.1,443.1 181.4,442.6 181.7,439.5 182.1,456.8 182.4,444.7 182.7,443.9 183.1,451.1 183.4,429.4 183.7,445.2 184.1,445.4 184.4,440.8 184.7,447.3 185.1,435.7 185.4,445.1 185.7,449.1 186.1,430.9 186.4,438.0 186.7,443.9 187.1,444.5 187.4,441.4 187.7,446.0 188.1,445.4 188.4,437.8 188.7,443.6 189.1,438.0 189.4,434.1 189.7,432.5 190.1,448.5 190.4,443.0 190.7,452.7 191.1,436.6 191.4,441.7 191.7,444.9 192.1,442.1 192.4,445.6 192.7,443.8 193.1,439.0 193.4,432.1 193.7,438.6 194.1,451.1 194.4,446.5 194.7,449.4 195.1,440.1 195.4,441.9 195.7,438.7 196.1,444.6 196.4,443.0 196.7,444.8 197.1,451.0 197.4,438.7 197.7,446.0 198.1,435.9 198.4,447.7 198.7,440.3 199.1,442.0 199.4,443.0 199.7,450.0 200.1,442.1 200.4,439.8 200.7,436.5 201.1,443.4 201.4,438.0 201.7,439.6 202.1,441.8 202.4,445.0 202.7,438.4 203.1,444.9 203.4,450.1 203.7,434.6 204.1,448.0 204.4,451.7 204.7,438.7 205.1,444.3 205.4,434.6 205.7,442.5 206.1,439.0 206.4,441.8 206.7,435.6 207.1,435.8 207.4,437.3 207.7,435.8 208.1,435.9 208.4,437.7 208.7,433.0 209.1,437.4 209.4,440.1 209.7,426.3 210.1,438.4 210.4,434.2 210.7,432.8 211.1,432.1 211.4,433.2 211.8,435.8 212.1,441.4 212.4,434.1 212.8,445.5 213.1,437.0 213.4,444.6 213.8,446.9 214.1,436.4 214.4,447.6 214.8,453.3 215.1,441.3 215.4,446.2 215.8,442.9 216.1,444.0 216.4,442.8 216.8,441.4 217.1,447.2 217.4,447.9 217.8,443.8 218.1,451.0 218.4,449.0 218.8,447.3 219.1,440.7 219.4,452.9 219.8,450.3 220.1,430.5 220.4,439.0 220.8,441.9 221.1,448.6 221.4,450.0 221.8,442.9 222.1,445.4 222.4,447.5 222.8,438.3 223.1,447.1 223.4,442.9 223.8,445.2 224.1,444.2 224.4,438.9 224.8,439.8 225.1,444.6 225.4,445.1 225.8,443.2 226.1,449.5 226.4,442.8 226.8,438.8 227.1,442.9 227.4,443.7 227.8,444.0 228.1,450.0 228.4,447.0 228.8,449.5 229.1,448.6 229.4,443.6 229.8,449.5 230.1,443.5 230.4,445.9 230.8,440.0 231.1,445.2 231.4,443.2 231.8,446.5 232.1,453.2 232.4,455.9 232.8,449.6 233.1,444.7 233.4,448.7 233.8,445.9 234.1,442.1 234.4,444.6 234.8,443.4 235.1,442.1 235.4,451.4 235.8,442.5 236.1,442.7 236.4,448.3 236.8,441.8 237.1,439.7 237.4,441.1 237.8,447.3 238.1,446.8 238.4,446.5 238.8,442.2 239.1,440.9 239.4,449.4 239.8,438.4 240.1,444.2 240.4,439.0 240.8,443.3 241.1,444.5 241.4,450.9 241.8,433.2 242.1,451.6 242.4,441.2 242.8,446.7 243.1,449.1 243.4,441.8 243.8,445.0 244.1,447.7 244.4,444.8 244.8,442.0 245.1,446.3 245.4,446.0 245.8,438.5 246.1,454.1 246.4,446.6 246.8,434.3 247.1,441.7 247.4,456.4 247.8,453.0 248.1,446.9 248.4,437.8 248.8,444.6 249.1,450.6 249.4,447.5 249.8,444.2 250.1,442.3 250.4,449.6 250.8,444.8 251.1,447.3 251.4,448.1 251.8,453.4 252.1,446.7 252.4,447.1 252.8,437.6 253.1,451.0 253.4,450.0 253.8,445.8 254.1,435.4 254.4,443.3 254.8,446.3 255.1,455.7 255.4,448.7 255.8,449.7 256.1,449.8 256.4,454.4 256.8,440.8 257.1,442.1 257.4,440.6 257.8,444.8 258.1,444.4 258.4,446.6 258.8,441.4 259.1,446.8 259.4,442.2 259.8,459.4 260.1,443.7 260.4,457.8 260.8,453.6 261.1,440.4 261.4,450.4 261.8,448.7 262.1,438.7 262.4,448.6 262.8,445.3 263.1,447.9 263.4,441.7 263.8,445.2 264.1,447.4 264.4,444.6 264.8,442.6 265.1,444.6 265.4,439.2 265.8,446.9 266.1,433.3 266.4,452.2 266.8,445.4 267.1,447.3 267.4,449.0 267.8,439.2 268.1,455.5 268.4,439.6 268.8,447.0 269.1,446.3 269.4,450.8 269.8,444.6 270.1,438.0 270.4,446.1 270.8,432.9 271.1,443.5 271.4,442.2 271.8,451.6 272.1,443.0 272.4,442.1 272.8,440.6 273.1,440.1 273.5,441.5 273.8,446.8 274.1,437.8 274.5,442.9 274.8,437.0 275.1,443.0 275.5,444.5 275.8,435.9 276.1,440.9 276.5,444.1 276.8,447.1 277.1,447.9 277.5,442.9 277.8,438.6 278.1,435.6 278.5,446.9 278.8,449.8 279.1,444.9 279.5,450.5 279.8,440.9 280.1,441.1 280.5,450.3 280.8,438.0 281.1,445.6 281.5,444.5 281.8,443.3 282.1,450.7 282.5,436.7 282.8,440.3 283.1,428.8 283.5,437.1 283.8,439.6 284.1,440.1 284.5,440.9 284.8,443.2 285.1,438.5 285.5,432.2 285.8,442.3 286.1,443.5 286.5,435.8 286.8,437.5 287.1,449.7 287.5,446.1 287.8,446.3 288.1,445.3 288.5,441.6 288.8,438.3 289.1,443.5 289.5,439.7 289.8,438.4 290.1,440.4 290.5,440.0 290.8,446.1 291.1,435.6 291.5,456.4 291.8,435.2 292.1,437.9 292.5,444.4 292.8,435.7 293.1,437.4 293.5,439.8 293.8,427.1 294.1,437.0 294.5,434.7 294.8,438.1 295.1,441.6 295.5,442.2 295.8,446.4 296.1,446.0 296.5,443.9 296.8,438.6 297.1,443.8 297.5,433.8 297.8,438.1 298.1,445.5 298.5,442.3 298.8,431.5 299.1,435.3 299.5,442.6 299.8,441.1 300.1,443.3 300.5,429.2 300.8,431.5 301.1,436.4 301.5,432.7 301.8,437.3 302.1,437.4 302.5,438.9 302.8,436.4 303.1,439.8 303.5,440.7 303.8,437.5 304.1,430.6 304.5,442.9 304.8,437.5 305.1,438.4 305.5,437.4 305.8,428.1 306.1,438.8 306.5,432.6 306.8,429.6 307.1,442.0 307.5,434.0 307.8,436.8 308.1,439.7 308.5,443.2 308.8,422.8 309.1,431.2 309.5,438.2 309.8,430.2 310.1,421.6 310.5,435.1 310.8,435.4 311.1,438.2 311.5,435.2 311.8,431.7 312.1,434.9 312.5,433.5 312.8,431.1 313.1,434.8 313.5,435.8 313.8,428.1 314.1,438.3 314.5,437.2 314.8,436.9 315.1,419.7 315.5,433.3 315.8,431.9 316.1,427.3 316.5,435.3 316.8,424.5 317.1,438.4 317.5,433.9 317.8,429.3 318.1,439.0 318.5,434.0 318.8,433.2 319.1,424.7 319.5,434.0 319.8,440.9 320.1,436.7 320.5,424.2 320.8,437.9 321.1,438.8 321.5,434.8 321.8,428.3 322.1,419.7 322.5,425.3 322.8,426.9 323.1,431.2 323.5,432.5 323.8,425.6 324.1,420.8 324.5,427.0 324.8,422.1 325.1,435.8 325.5,422.3 325.8,431.9 326.1,432.7 326.5,423.2 326.8,433.4 327.1,427.2 327.5,423.7 327.8,422.7 328.1,428.1 328.5,433.0 328.8,417.3 329.1,430.3 329.5,426.2 329.8,422.8 330.1,425.8 330.5,426.5 330.8,426.1 331.1,432.0 331.5,419.6 331.8,436.5 332.1,432.2 332.5,422.6 332.8,411.8 333.1,425.4 333.5,423.2 333.8,429.2 334.2,429.0 334.5,435.2 334.8,424.2 335.2,429.0 335.5,422.4 335.8,422.6 336.2,432.6 336.5,423.6 336.8,423.6 337.2,422.2 337.5,425.7 337.8,427.0 338.2,423.0 338.5,417.4 338.8,425.3 339.2,418.9 339.5,421.3 339.8,424.2 340.2,424.3 340.5,410.3 340.8,431.9 341.2,426.9 341.5,433.0 341.8,436.0 342.2,417.2 342.5,418.0 342.8,423.3 343.2,426.9 343.5,418.9 343.8,419.9 344.2,427.3 344.5,416.5 344.8,422.4 345.2,427.0 345.5,419.5 345.8,425.1 346.2,420.0 346.5,411.9 346.8,417.4 347.2,419.1 347.5,418.3 347.8,420.1 348.2,422.0 348.5,421.3 348.8,420.5 349.2,417.0 349.5,417.5 349.8,417.1 350.2,415.7 350.5,426.4 350.8,408.2 351.2,419.8 351.5,409.4 351.8,414.9 352.2,422.5 352.5,416.4 352.8,425.5 353.2,412.4 353.5,415.9 353.8,413.9 354.2,417.3 354.5,415.3 354.8,414.8 355.2,417.3 355.5,422.8 355.8,417.3 356.2,416.6 356.5,414.5 356.8,410.3 357.2,407.8 357.5,409.9 357.8,415.7 358.2,404.8 358.5,418.9 358.8,412.8 359.2,409.7 359.5,411.8 359.8,418.4 360.2,416.7 360.5,416.1 360.8,424.4 361.2,427.7 361.5,407.5 361.8,421.0 362.2,410.4 362.5,407.0 362.8,411.8 363.2,420.4 363.5,413.0 363.8,411.0 364.2,422.7 364.5,417.7 364.8,414.4 365.2,425.1 365.5,417.7 365.8,409.3 366.2,406.6 366.5,412.6 366.8,415.9 367.2,420.2 367.5,419.6 367.8,415.5 368.2,408.2 368.5,420.0 368.8,415.2 369.2,408.5 369.5,407.6 369.8,415.8 370.2,416.4 370.5,419.0 370.8,407.4 371.2,425.1 371.5,403.9 371.8,413.9 372.2,421.6 372.5,419.9 372.8,408.5 373.2,417.3 373.5,420.8 373.8,417.9 374.2,406.1 374.5,423.1 374.8,401.0 375.2,413.7 375.5,407.3 375.8,410.9 376.2,411.4 376.5,416.0 376.8,406.0 377.2,414.3 377.5,420.4 377.8,413.4 378.2,416.0 378.5,415.3 378.8,408.6 379.2,410.6 379.5,413.0 379.8,415.4 380.2,424.2 380.5,421.9 380.8,408.8 381.2,410.1 381.5,406.7 381.8,399.3 382.2,420.0 382.5,416.4 382.8,401.3 383.2,412.5 383.5,430.5 383.8,415.2 384.2,415.3 384.5,413.6 384.8,408.0 385.2,405.7 385.5,407.6 385.8,413.2 386.2,411.0 386.5,416.4 386.8,422.4 387.2,416.9 387.5,417.2 387.8,410.3 388.2,404.9 388.5,424.8 388.8,416.5 389.2,419.1 389.5,409.3 389.8,402.6 390.2,419.9 390.5,395.5 390.8,410.9 391.2,409.2 391.5,413.5 391.8,416.9 392.2,416.9 392.5,400.1 392.8,417.9 393.2,397.3 393.5,416.0 393.8,409.6 394.2,405.5 394.5,409.0 394.9,404.4 395.2,412.0 395.5,417.4 395.9,416.6 396.2,412.2 396.5,418.3 396.9,414.9 397.2,424.4 397.5,415.9 397.9,407.2 398.2,410.2 398.5,407.5 398.9,410.2 399.2,411.0 399.5,417.1 399.9,416.3 400.2,412.2 400.5,415.2 400.9,407.7 401.2,408.9 401.5,397.9 401.9,407.7 402.2,409.4 402.5,427.1 402.9,404.6 403.2,412.8 403.5,410.6 403.9,403.5 404.2,414.1 404.5,412.8 404.9,404.4 405.2,399.4 405.5,412.6 405.9,404.7 406.2,416.9 406.5,411.5 406.9,416.3 407.2,410.9 407.5,425.3 407.9,417.4 408.2,425.3 408.5,414.3 408.9,407.8 409.2,405.6 409.5,411.0 409.9,415.6 410.2,410.4 410.5,428.1 410.9,413.8 411.2,416.9 411.5,414.8 411.9,407.2 412.2,420.5 412.5,418.3 412.9,419.6 413.2,409.4 413.5,414.9 413.9,414.6 414.2,421.6 414.5,407.1 414.9,419.0 415.2,422.4 415.5,412.9 415.9,410.7 416.2,423.0 416.5,416.9 416.9,422.0 417.2,420.0 417.5,421.8 417.9,414.8 418.2,403.8 418.5,419.4 418.9,412.1 419.2,419.6 419.5,413.2 419.9,425.5 420.2,414.9 420.5,421.1 420.9,422.8 421.2,416.1 421.5,418.5 421.9,416.7 422.2,409.9 422.5,425.3 422.9,411.8 423.2,408.2 423.5,414.3 423.9,418.3 424.2,417.7 424.5,415.5 424.9,414.9 425.2,405.4 425.5,422.5 425.9,427.5 426.2,413.6 426.5,407.7 426.9,422.1 427.2,417.0 427.5,403.7 427.9,413.9 428.2,407.2 428.5,411.7 428.9,429.7 429.2,424.1 429.5,417.7 429.9,418.8 430.2,427.7 430.5,412.7 430.9,423.2 431.2,415.5 431.5,423.9 431.9,420.5 432.2,415.1 432.5,427.6 432.9,422.6 433.2,430.0 433.5,417.4 433.9,420.6 434.2,416.0 434.5,426.8 434.9,415.8 435.2,420.0 435.5,427.5 435.9,423.2 436.2,422.0 436.5,421.9 436.9,422.4 437.2,424.2 437.5,419.0 437.9,409.6 438.2,428.3 438.5,415.0 438.9,431.3 439.2,422.7 439.5,434.8 439.9,430.2 440.2,423.7 440.5,426.6 440.9,413.8 441.2,422.8 441.5,419.9 441.9,422.1 442.2,410.8 442.5,410.1 442.9,426.4 443.2,422.8 443.5,420.2 443.9,422.3 444.2,419.3 444.5,420.4 444.9,427.0 445.2,422.0 445.5,427.3 445.9,419.7 446.2,413.8 446.5,420.2 446.9,423.2 447.2,418.0 447.5,421.4 447.9,421.6 448.2,429.7 448.5,430.9 448.9,430.8 449.2,420.8 449.5,427.0 449.9,432.3 450.2,426.4 450.5,425.0 450.9,421.5 451.2,430.4 451.5,426.9 451.9,431.6 452.2,425.5 452.5,437.6 452.9,426.4 453.2,420.1 453.5,428.0 453.9,429.6 454.2,434.1 454.5,424.7 454.9,424.5 455.2,426.1 455.6,425.6 455.9,416.5 456.2,431.9 456.6,435.0 456.9,424.5 457.2,423.5 457.6,428.3 457.9,423.4 458.2,433.7 458.6,426.5 458.9,433.3 459.2,423.7 459.6,423.0 459.9,422.5 460.2,423.5 460.6,433.5 460.9,435.9 461.2,432.5 461.6,433.1 461.9,420.6 462.2,438.2 462.6,424.0 462.9,439.7 463.2,445.7 463.6,433.7 463.9,436.9 464.2,437.1 464.6,427.3 464.9,426.5 465.2,431.0 465.6,435.6 465.9,439.4 466.2,436.1 466.6,441.2 466.9,433.2 467.2,428.8 467.6,436.4 467.9,436.2 468.2,429.5 468.6,444.0 468.9,430.7 469.2,433.8 469.6,438.8 469.9,432.5 470.2,441.2 470.6,440.1 470.9,440.5 471.2,438.3 471.6,436.1 471.9,434.7 472.2,440.2 472.6,445.6 472.9,442.8 473.2,440.8 473.6,444.0 473.9,445.8 474.2,433.0 474.6,439.1 474.9,445.5 475.2,436.3 475.6,437.3 475.9,443.9 476.2,438.7 476.6,445.9 476.9,438.5 477.2,443.1 477.6,452.4 477.9,446.0 478.2,433.7 478.6,435.4 478.9,435.6 479.2,440.4 479.6,433.8 479.9,443.6 480.2,449.4 480.6,448.7 480.9,437.4 481.2,439.8 481.6,439.8 481.9,437.3 482.2,449.7 482.6,438.1 482.9,436.1 483.2,443.4 483.6,443.4 483.9,449.3 484.2,449.4 484.6,441.1 484.9,431.9 485.2,445.4 485.6,446.0 485.9,450.8 486.2,434.5 486.6,436.4 486.9,449.7 487.2,452.8 487.6,450.7 487.9,442.0 488.2,448.4 488.6,439.4 488.9,436.1 489.2,441.8 489.6,442.6 489.9,447.4 490.2,447.4 490.6,433.6 490.9,443.5 491.2,444.5 491.6,436.0 491.9,440.9 492.2,442.4 492.6,445.0 492.9,438.0 493.2,439.2 493.6,436.8 493.9,443.8 494.2,440.6 494.6,439.3 494.9,445.3 495.2,441.4 495.6,436.4 495.9,447.7 496.2,446.9 496.6,444.5 496.9,437.2 497.2,447.6 497.6,439.4 497.9,433.2 498.2,441.7 498.6,451.0 498.9,440.1 499.2,445.2 499.6,448.9 499.9,443.2 500.2,440.3 500.6,442.4 500.9,445.2 501.2,439.9 501.6,444.1 501.9,445.1 502.2,440.6 502.6,445.9 502.9,445.2 503.2,440.9 503.6,441.6 503.9,443.0 504.2,441.8 504.6,441.5 504.9,437.6 505.2,443.1 505.6,446.1 505.9,445.6 506.2,438.7 506.6,445.3 506.9,445.5 507.2,438.2 507.6,445.9 507.9,441.5 508.2,440.9 508.6,443.8 508.9,441.7 509.2,432.1 509.6,443.7 509.9,437.4 510.2,442.3 510.6,446.0 510.9,441.7 511.2,440.7 511.6,443.4 511.9,445.1 512.2,438.8 512.6,439.8 512.9,445.2 513.2,450.4 513.6,442.8 513.9,447.0 514.2,439.4 514.6,442.9 514.9,443.2 515.2,436.8 515.6,442.8 515.9,441.6 516.3,431.0 516.6,442.2 516.9,444.3 517.3,444.0 517.6,444.4 517.9,437.7 518.3,439.4 518.6,442.0 518.9,438.8 519.3,440.7 519.6,450.5 519.9,438.8 520.3,441.3 520.6,451.5 520.9,442.3 521.3,438.3 521.6,444.2 521.9,443.9 522.3,443.7 522.6,435.3 522.9,444.4 523.3,444.9 523.6,452.8 523.9,446.4 524.3,441.2 524.6,444.8 524.9,446.5 525.3,442.7 525.6,443.2 525.9,449.8 526.3,445.8 526.6,445.9 526.9,439.1 527.3,445.6 527.6,434.8 527.9,449.4 528.3,441.6 528.6,446.7 528.9,450.3 529.3,438.8 529.6,449.2 529.9,444.9 530.3,449.3 530.6,442.3 530.9,440.8 531.3,450.0 531.6,446.0 531.9,444.3 532.3,438.7 532.6,450.2 532.9,442.5 533.3,443.1 533.6,439.9 533.9,444.2 534.3,446.9 534.6,443.8 534.9,443.7 535.3,441.6 535.6,451.0 535.9,451.7 536.3,442.8 536.6,440.1 536.9,445.4 537.3,434.2 537.6,445.3 537.9,445.4 538.3,444.9 538.6,451.6 538.9,452.7 539.3,446.3 539.6,442.1 539.9,449.0 540.3,449.5 540.6,438.7 540.9,440.9 541.3,443.0 541.6,436.5 541.9,439.1 542.3,451.7 542.6,438.4 542.9,448.1 543.3,440.4 543.6,448.7 543.9,445.6 544.3,448.3 544.6,437.7 544.9,445.5 545.3,441.5 545.6,447.6 545.9,448.6 546.3,444.9 546.6,443.4 546.9,444.0 547.3,445.2 547.6,441.7 547.9,441.4 548.3,441.1 548.6,437.5 548.9,448.8 549.3,437.9 549.6,450.0 549.9,447.2 550.3,436.1 550.6,435.5 550.9,444.2 551.3,439.0 551.6,444.6 551.9,448.3 552.3,445.6 552.6,442.9 552.9,443.1 553.3,450.7 553.6,442.2 553.9,451.9 554.3,453.3 554.6,442.2 554.9,445.3 555.3,451.8 555.6,440.7 555.9,445.9 556.3,448.8 556.6,439.2 556.9,445.7 557.3,444.6 557.6,441.5 557.9,451.1 558.3,443.3 558.6,454.5 558.9,447.3 559.3,440.7 559.6,445.2 559.9,440.4 560.3,447.7 560.6,447.0 560.9,436.7 561.3,442.0 561.6,446.1 561.9,444.4 562.3,439.4 562.6,448.9 562.9,450.2 563.3,437.0 563.6,453.2 563.9,434.4 564.3,443.1 564.6,440.7 564.9,441.2 565.3,444.5 565.6,436.6 565.9,443.2 566.3,451.4 566.6,445.7 566.9,450.5 567.3,447.6 567.6,436.1 567.9,451.8 568.3,449.0 568.6,446.6 568.9,441.9 569.3,441.2 569.6,437.2 569.9,442.9 570.3,444.1 570.6,442.8 570.9,442.7 571.3,434.6 571.6,440.0 571.9,439.9 572.3,444.9 572.6,441.4 572.9,441.4 573.3,444.1 573.6,441.2 573.9,441.7 574.3,448.4 574.6,442.6 574.9,439.2 575.3,446.1 575.6,447.0 575.9,446.2 576.3,437.3 576.6,447.7 577.0,443.7 577.3,443.9 577.6,443.7 578.0,445.4 578.3,445.5 578.6,450.1 579.0,444.4 579.3,442.9 579.6,446.2 580.0,442.8 580.3,448.3 580.6,444.0 581.0,448.0 581.3,440.9 581.6,447.8 582.0,446.2 582.3,439.4 582.6,441.6 583.0,443.7 583.3,437.3 583.6,436.7 584.0,446.4 584.3,445.6 584.6,449.4 585.0,437.4 585.3,441.1 585.6,434.0 586.0,454.1 586.3,437.2 586.6,442.1 587.0,452.0 587.3,449.8 587.6,439.3 588.0,453.5 588.3,445.3 588.6,438.5 589.0,444.4 589.3,447.2 589.6,446.1 590.0,433.5 590.3,451.6 590.6,435.9 591.0,442.2 591.3,449.7 591.6,445.0 592.0,443.0 592.3,440.4 592.6,445.8 593.0,449.5 593.3,440.6 593.6,445.1 594.0,440.9 594.3,441.3 594.6,433.7 595.0,444.4 595.3,447.5 595.6,442.5 596.0,448.0 596.3,444.0 596.6,448.8 597.0,444.0 597.3,441.6 597.6,441.0 598.0,443.7 598.3,444.6 598.6,439.8 599.0,442.6 599.3,437.2 599.6,437.2 600.0,446.3 600.3,445.0 600.6,447.4 601.0,444.0 601.3,444.5 601.6,451.7 602.0,439.6 602.3,444.7 602.6,450.5 603.0,452.6 603.3,445.9 603.6,442.8 604.0,438.6 604.3,442.6 604.6,444.0 605.0,443.4 605.3,445.6 605.6,445.9 606.0,441.2 606.3,439.3 606.6,442.0 607.0,445.3 607.3,450.7 607.6,435.9 608.0,448.1 608.3,442.0 608.6,448.2 609.0,451.8 609.3,445.5 609.6,438.1 610.0,441.3 610.3,444.9 610.6,441.7 611.0,442.9 611.3,439.7 611.6,442.2 612.0,440.4 612.3,448.5 612.6,444.6 613.0,446.5 613.3,435.8 613.6,441.2 614.0,438.7 614.3,441.2 614.6,439.2 615.0,439.9 615.3,450.3 615.6,442.0 616.0,437.5 616.3,441.8 616.6,453.3 617.0,446.4 617.3,439.0 617.6,442.0 618.0,442.8 618.3,443.3 618.6,434.8 619.0,438.9 619.3,442.4 619.6,435.4 620.0,442.3 620.3,443.5 620.6,446.6 621.0,449.7 621.3,442.3 621.6,444.2 622.0,446.2 622.3,447.7 622.6,443.5 623.0,439.8 623.3,445.9 623.6,447.1 624.0,443.9 624.3,445.8 624.6,450.4 625.0,441.0 625.3,440.1 625.6,438.4 626.0,444.9 626.3,447.6 626.6,441.0 627.0,451.4 627.3,440.7 627.6,444.5 628.0,442.8 628.3,449.6 628.6,440.5 629.0,450.8 629.3,442.6 629.6,437.4 630.0,440.8 630.3,442.7 630.6,451.0 631.0,441.3 631.3,443.4 631.6,456.1 632.0,444.1 632.3,440.6 632.6,440.1 633.0,436.4 633.3,445.0 633.6,448.9 634.0,441.8 634.3,438.7 634.6,444.7 635.0,443.5 635.3,442.8 635.6,445.4 636.0,443.6 636.3,441.8 636.6,447.9 637.0,435.1 637.3,436.5 637.7,442.1 638.0,437.3 638.3,450.2 638.7,433.5 639.0,446.5 639.3,445.9 639.7,445.4 640.0,445.3 640.3,439.9 640.7,439.0 641.0,449.8 641.3,442.7 641.7,436.8 642.0,437.8 642.3,436.5 642.7,444.6 643.0,448.5 643.3,442.0 643.7,444.1 644.0,441.2 644.3,447.5 644.7,447.4 645.0,447.7 645.3,451.6 645.7,438.0 646.0,447.2 646.3,436.6 646.7,446.9 647.0,447.3 647.3,446.9 647.7,447.3 648.0,443.0 648.3,440.9 648.7,447.2 649.0,440.1 649.3,448.2 649.7,440.1 650.0,445.4 650.3,445.2 650.7,440.2 651.0,442.5 651.3,448.0 651.7,444.2 652.0,446.5 652.3,442.0 652.7,445.5 653.0,439.4 653.3,444.0 653.7,455.0 654.0,454.1 654.3,453.9 654.7,456.0 655.0,450.0 655.3,457.3 655.7,448.4 656.0,448.5 656.3,452.6 656.7,444.2 657.0,443.8 657.3,444.7 657.7,444.9 658.0,450.2 658.3,436.5 658.7,442.2 659.0,446.6 659.3,441.1 659.7,442.2 660.0,439.1 660.3,442.6 660.7,446.8 661.0,449.5 661.3,445.5 661.7,450.1 662.0,444.4 662.3,434.0 662.7,447.3 663.0,435.0 663.3,443.6 663.7,444.0 664.0,438.9 664.3,443.1 664.7,441.6 665.0,444.6 665.3,442.7 665.7,447.7 666.0,442.3 666.3,446.7 666.7,444.0 667.0,445.1"/>
<polyline fill="none" stroke="#ff00ff" stroke-width="2.8" stroke-linejoin="round" points="60.0,461.9 60.3,460.9 60.7,466.9 61.0,471.6 61.3,475.9 61.7,470.6 62.0,466.3 62.3,466.5 62.7,475.3 63.0,480.5 63.3,473.5 63.7,465.7 64.0,467.6 64.3,481.8 64.7,474.7 65.0,464.8 65.3,474.0 65.7,468.7 66.0,471.9 66.3,473.1 66.7,472.3 67.0,479.3 67.3,476.5 67.7,474.2 68.0,480.4 68.3,482.2 68.7,470.1 69.0,477.5 69.3,474.3 69.7,478.7 70.0,473.6 70.3,480.3 70.7,480.2 71.0,478.7 71.3,474.0 71.7,479.2 72.0,476.1 72.3,475.0 72.7,483.3 73.0,476.7 73.3,488.0 73.7,486.0 74.0,473.2 74.3,484.3 74.7,478.0 75.0,483.7 75.3,483.9 75.7,471.2 76.0,483.1 76.3,483.2 76.7,489.2 77.0,479.4 77.3,488.6 77.7,480.3 78.0,484.1 78.3,481.9 78.7,492.8 79.0,488.9 79.3,497.7 79.7,489.7 80.0,490.9 80.3,490.9 80.7,484.4 81.0,486.9 81.3,493.4 81.7,485.5 82.0,488.3 82.3,487.4 82.7,490.3 83.0,485.9 83.3,487.0 83.7,488.8 84.0,488.3 84.3,484.0 84.7,492.0 85.0,482.1 85.3,482.7 85.7,482.4 86.0,492.6 86.3,486.6 86.7,484.0 87.0,483.3 87.3,490.4 87.7,483.8 88.0,482.9 88.3,491.4 88.7,483.4 89.0,487.4 89.3,488.8 89.7,487.0 90.0,488.8 90.3,495.0 90.7,486.8 91.0,483.6 91.4,481.1 91.7,488.4 92.0,487.3 92.4,490.6 92.7,487.5 93.0,487.5 93.4,485.4 93.7,486.6 94.0,490.5 94.4,488.2 94.7,490.4 95.0,498.4 95.4,492.2 95.7,483.2 96.0,497.8 96.4,491.8 96.7,486.2 97.0,495.8 97.4,490.5 97.7,487.9 98.0,487.8 98.4,486.3 98.7,490.9 99.0,495.5 99.4,489.5 99.7,492.8 100.0,499.1 100.4,485.8 100.7,492.2 101.0,489.8 101.4,484.9 101.7,486.7 102.0,491.1 102.4,493.1 102.7,489.0 103.0,491.5 103.4,494.5 103.7,492.6 104.0,495.1 104.4,493.4 104.7,493.6 105.0,499.4 105.4,494.2 105.7,492.1 106.0,494.7 106.4,487.7 106.7,490.2 107.0,495.1 107.4,494.4 107.7,498.4 108.0,491.8 108.4,485.6 108.7,500.2 109.0,496.6 109.4,485.8 109.7,497.9 110.0,492.1 110.4,481.6 110.7,490.3 111.0,489.9 111.4,498.9 111.7,488.8 112.0,491.1 112.4,491.1 112.7,490.7 113.0,488.4 113.4,493.3 113.7,497.0 114.0,495.1 114.4,488.5 114.7,487.6 115.0,493.0 115.4,488.5 115.7,489.9 116.0,483.0 116.4,500.9 116.7,496.6 117.0,488.6 117.4,496.6 117.7,498.5 118.0,482.7 118.4,490.5 118.7,491.2 119.0,495.6 119.4,492.4 119.7,492.0 120.0,492.8 120.4,500.9 120.7,502.2 121.0,490.1 121.4,489.2 121.7,504.0 122.0,489.1 122.4,490.8 122.7,493.4 123.0,495.3 123.4,497.7 123.7,495.0 124.0,489.7 124.4,495.6 124.7,494.5 125.0,501.4 125.4,493.5 125.7,488.0 126.0,489.2 126.4,501.8 126.7,491.4 127.0,484.9 127.4,491.3 127.7,493.8 128.0,500.5 128.4,489.6 128.7,496.7 129.0,497.2 129.4,491.0 129.7,493.2 130.0,501.4 130.4,501.2 130.7,497.6 131.0,495.5 131.4,498.9 131.7,493.4 132.0,493.8 132.4,490.7 132.7,494.3 133.0,494.0 133.4,505.0 133.7,493.6 134.0,499.7 134.4,499.9 134.7,493.7 135.0,499.3 135.4,485.5 135.7,495.0 136.0,498.1 136.4,484.7 136.7,489.9 137.0,499.1 137.4,493.7 137.7,490.2 138.0,493.3 138.4,492.6 138.7,497.9 139.0,496.8 139.4,493.8 139.7,492.2 140.0,494.8 140.4,500.5 140.7,496.5 141.0,497.7 141.4,494.5 141.7,489.9 142.0,492.3 142.4,497.9 142.7,495.7 143.0,491.6 143.4,488.7 143.7,495.8 144.0,494.0 144.4,494.0 144.7,494.1 145.0,496.7 145.4,496.7 145.7,499.5 146.0,499.4 146.4,501.1 146.7,500.1 147.0,494.3 147.4,495.5 147.7,497.8 148.0,494.5 148.4,498.1 148.7,500.5 149.0,492.7 149.4,488.8 149.7,500.8 150.0,496.1 150.4,498.9 150.7,488.8 151.1,503.1 151.4,499.1 151.7,495.7 152.1,494.8 152.4,496.7 152.7,495.6 153.1,495.2 153.4,491.8 153.7,501.5 154.1,496.2 154.4,496.8 154.7,496.8 155.1,487.0 155.4,498.7 155.7,495.3 156.1,495.4 156.4,496.9 156.7,492.8 157.1,500.1 157.4,494.0 157.7,493.2 158.1,493.4 158.4,497.5 158.7,499.9 159.1,494.5 159.4,490.9 159.7,501.2 160.1,492.8 160.4,501.8 160.7,496.9 161.1,494.3 161.4,494.6 161.7,499.0 162.1,500.7 162.4,496.5 162.7,501.0 163.1,505.6 163.4,496.5 163.7,492.8 164.1,493.2 164.4,491.9 164.7,494.9 165.1,494.6 165.4,492.3 165.7,499.7 166.1,487.4 166.4,490.6 166.7,505.6 167.1,501.8 167.4,499.8 167.7,499.6 168.1,504.8 168.4,500.0 168.7,498.2 169.1,491.4 169.4,497.6 169.7,495.1 170.1,495.2 170.4,495.2 170.7,497.9 171.1,496.8 171.4,501.6 171.7,491.2 172.1,497.5 172.4,505.5 172.7,498.4 173.1,503.0 173.4,502.8 173.7,503.5 174.1,501.3 174.4,493.0 174.7,497.1 175.1,497.0 175.4,492.5 175.7,496.8 176.1,493.7 176.4,492.2 176.7,499.5 177.1,498.5 177.4,496.1 177.7,495.1 178.1,496.7 178.4,497.3 178.7,497.3 179.1,498.7 179.4,497.3 179.7,500.5 180.1,501.0 180.4,500.4 180.7,496.5 181.1,495.9 181.4,500.9 181.7,498.5 182.1,499.1 182.4,486.4 182.7,489.5 183.1,500.8 183.4,500.8 183.7,506.8 184.1,502.4 184.4,500.5 184.7,499.8 185.1,494.3 185.4,503.2 185.7,497.6 186.1,501.8 186.4,500.7 186.7,501.0 187.1,503.5 187.4,498.2 187.7,498.7 188.1,497.0 188.4,498.8 188.7,506.6 189.1,499.0 189.4,506.5 189.7,503.6 190.1,503.3 190.4,503.6 190.7,496.8 191.1,502.1 191.4,506.7 191.7,498.1 192.1,500.6 192.4,498.3 192.7,502.1 193.1,496.9 193.4,507.1 193.7,499.6 194.1,495.3 194.4,507.9 194.7,504.8 195.1,503.2 195.4,503.3 195.7,500.0 196.1,500.6 196.4,504.2 196.7,504.9 197.1,505.0 197.4,502.4 197.7,499.9 198.1,501.0 198.4,505.9 198.7,509.0 199.1,500.6 199.4,500.1 199.7,506.6 200.1,504.7 200.4,504.6 200.7,497.3 201.1,500.8 201.4,500.3 201.7,503.0 202.1,496.1 202.4,507.0 202.7,503.5 203.1,504.1 203.4,498.2 203.7,502.5 204.1,507.5 204.4,496.9 204.7,503.8 205.1,505.3 205.4,500.3 205.7,505.8 206.1,501.7 206.4,507.4 206.7,504.9 207.1,503.9 207.4,510.4 207.7,506.2 208.1,508.0 208.4,498.9 208.7,501.0 209.1,506.4 209.4,506.7 209.7,503.3 210.1,507.3 210.4,498.4 210.7,504.4 211.1,499.5 211.4,504.9 211.8,501.4 212.1,501.5 212.4,504.1 212.8,510.4 213.1,500.3 213.4,501.9 213.8,507.9 214.1,502.6 214.4,510.5 214.8,505.0 215.1,504.6 215.4,505.6 215.8,510.6 216.1,506.7 216.4,506.3 216.8,505.4 217.1,499.0 217.4,501.5 217.8,509.9 218.1,507.6 218.4,506.6 218.8,507.1 219.1,502.3 219.4,506.1 219.8,501.8 220.1,506.4 220.4,502.5 220.8,504.3 221.1,506.7 221.4,504.0 221.8,508.3 222.1,506.8 222.4,506.5 222.8,509.9 223.1,500.1 223.4,499.7 223.8,507.5 224.1,509.9 224.4,512.5 224.8,508.1 225.1,508.4 225.4,502.5 225.8,508.2 226.1,508.0 226.4,502.0 226.8,502.5 227.1,505.3 227.4,506.7 227.8,496.8 228.1,506.1 228.4,506.6 228.8,505.3 229.1,506.8 229.4,507.5 229.8,502.5 230.1,507.5 230.4,504.9 230.8,501.7 231.1,506.8 231.4,511.3 231.8,501.1 232.1,498.5 232.4,498.5 232.8,513.1 233.1,505.4 233.4,506.1 233.8,503.7 234.1,503.2 234.4,499.5 234.8,507.1 235.1,507.4 235.4,499.7 235.8,503.0 236.1,504.1 236.4,506.6 236.8,507.5 237.1,510.6 237.4,511.4 237.8,510.4 238.1,511.4 238.4,502.9 238.8,505.0 239.1,510.8 239.4,508.3 239.8,507.0 240.1,500.3 240.4,500.7 240.8,509.6 241.1,508.3 241.4,506.1 241.8,505.8 242.1,501.3 242.4,508.5 242.8,510.8 243.1,512.9 243.4,507.5 243.8,506.7 244.1,503.7 244.4,511.6 244.8,513.3 245.1,505.4 245.4,508.5 245.8,507.9 246.1,505.7 246.4,499.2 246.8,506.4 247.1,509.8 247.4,502.9 247.8,505.0 248.1,499.2 248.4,512.2 248.8,509.6 249.1,508.1 249.4,506.7 249.8,505.8 250.1,507.7 250.4,507.0 250.8,507.0 251.1,508.0 251.4,508.6 251.8,513.4 252.1,503.4 252.4,509.4 252.8,506.2 253.1,504.5 253.4,500.4 253.8,510.4 254.1,505.1 254.4,505.9 254.8,510.0 255.1,504.9 255.4,508.6 255.8,508.3 256.1,511.2 256.4,512.0 256.8,505.8 257.1,511.7 257.4,508.4 257.8,509.2 258.1,508.1 258.4,511.4 258.8,503.4 259.1,509.7 259.4,512.8 259.8,508.0 260.1,515.7 260.4,506.6 260.8,509.7 261.1,507.5 261.4,507.1 261.8,505.5 262.1,507.4 262.4,509.0 262.8,506.6 263.1,512.2 263.4,514.3 263.8,504.3 264.1,512.1 264.4,510.0 264.8,510.2 265.1,517.5 265.4,513.4 265.8,510.6 266.1,510.2 266.4,502.6 266.8,512.2 267.1,507.3 267.4,510.3 267.8,510.1 268.1,512.9 268.4,516.4 268.8,513.1 269.1,514.0 269.4,509.2 269.8,512.0 270.1,512.5 270.4,503.8 270.8,516.7 271.1,507.8 271.4,506.0 271.8,515.5 272.1,517.0 272.4,508.0 272.8,508.3 273.1,518.6 273.5,510.7 273.8,501.8 274.1,508.4 274.5,519.1 274.8,512.6 275.1,512.9 275.5,514.5 275.8,512.7 276.1,509.5 276.5,505.5 276.8,512.1 277.1,507.1 277.5,510.6 277.8,518.4 278.1,513.1 278.5,511.0 278.8,511.1 279.1,513.2 279.5,513.9 279.8,506.8 280.1,511.6 280.5,516.5 280.8,513.5 281.1,508.7 281.5,509.0 281.8,504.6 282.1,508.7 282.5,516.3 282.8,511.1 283.1,508.6 283.5,509.5 283.8,511.0 284.1,511.1 284.5,510.3 284.8,508.2 285.1,513.5 285.5,516.4 285.8,509.8 286.1,509.9 286.5,515.4 286.8,507.1 287.1,509.9 287.5,510.6 287.8,512.3 288.1,511.0 288.5,509.1 288.8,513.2 289.1,508.2 289.5,506.5 289.8,505.6 290.1,514.4 290.5,506.6 290.8,514.0 291.1,514.2 291.5,514.7 291.8,511.6 292.1,509.9 292.5,512.5 292.8,510.4 293.1,508.3 293.5,516.2 293.8,509.6 294.1,518.0 294.5,514.0 294.8,511.1 295.1,513.9 295.5,516.4 295.8,508.3 296.1,509.8 296.5,509.4 296.8,513.2 297.1,514.0 297.5,512.8 297.8,510.5 298.1,511.2 298.5,516.5 298.8,516.3 299.1,513.3 299.5,508.9 299.8,514.9 300.1,513.9 300.5,513.8 300.8,518.3 301.1,516.4 301.5,510.1 301.8,510.1 302.1,517.3 302.5,513.7 302.8,515.8 303.1,512.8 303.5,510.2 303.8,514.1 304.1,518.1 304.5,514.3 304.8,509.9 305.1,512.4 305.5,511.8 305.8,513.9 306.1,517.7 306.5,519.4 306.8,514.1 307.1,512.2 307.5,513.7 307.8,513.7 308.1,512.2 308.5,513.6 308.8,513.5 309.1,509.9 309.5,515.2 309.8,512.4 310.1,510.5 310.5,515.0 310.8,512.1 311.1,518.9 311.5,515.0 311.8,513.8 312.1,511.3 312.5,512.3 312.8,516.2 313.1,511.5 313.5,515.9 313.8,507.2 314.1,514.2 314.5,516.1 314.8,514.6 315.1,513.6 315.5,516.7 315.8,511.0 316.1,510.6 316.5,514.0 316.8,517.3 317.1,515.0 317.5,513.1 317.8,514.6 318.1,515.0 318.5,509.9 318.8,505.7 319.1,510.6 319.5,509.2 319.8,512.0 320.1,510.1 320.5,511.1 320.8,515.6 321.1,514.1 321.5,513.7 321.8,518.8 322.1,512.4 322.5,512.7 322.8,517.7 323.1,510.5 323.5,508.9 323.8,517.8 324.1,514.9 324.5,515.7 324.8,515.8 325.1,516.7 325.5,512.5 325.8,513.7 326.1,510.6 326.5,514.4 326.8,514.7 327.1,512.6 327.5,516.0 327.8,521.5 328.1,510.6 328.5,516.6 328.8,516.9 329.1,517.3 329.5,511.7 329.8,517.7 330.1,516.1 330.5,513.8 330.8,513.1 331.1,514.9 331.5,517.0 331.8,516.9 332.1,521.1 332.5,513.2 332.8,516.1 333.1,513.0 333.5,516.7 333.8,514.7 334.2,512.5 334.5,510.3 334.8,512.0 335.2,515.1 335.5,518.8 335.8,516.7 336.2,510.8 336.5,512.9 336.8,514.5 337.2,514.0 337.5,514.5 337.8,516.6 338.2,514.9 338.5,511.5 338.8,508.4 339.2,513.2 339.5,509.1 339.8,513.7 340.2,515.1 340.5,508.7 340.8,513.7 341.2,513.0 341.5,519.7 341.8,515.4 342.2,508.3 342.5,515.3 342.8,515.2 343.2,513.3 343.5,512.8 343.8,515.7 344.2,515.8 344.5,515.1 344.8,510.8 345.2,513.1 345.5,509.1 345.8,509.3 346.2,512.1 346.5,510.6 346.8,512.0 347.2,521.2 347.5,515.2 347.8,510.0 348.2,507.2 348.5,511.2 348.8,509.4 349.2,507.0 349.5,515.8 349.8,512.2 350.2,515.0 350.5,521.7 350.8,514.4 351.2,514.0 351.5,514.7 351.8,512.8 352.2,511.1 352.5,513.0 352.8,517.1 353.2,512.8 353.5,509.5 353.8,509.9 354.2,510.5 354.5,513.7 354.8,515.1 355.2,515.5 355.5,518.4 355.8,512.8 356.2,517.0 356.5,514.7 356.8,516.5 357.2,508.2 357.5,517.5 357.8,509.2 358.2,510.4 358.5,516.2 358.8,512.2 359.2,519.2 359.5,514.4 359.8,510.8 360.2,514.4 360.5,512.7 360.8,518.6 361.2,518.8 361.5,516.2 361.8,512.7 362.2,514.2 362.5,517.1 362.8,511.6 363.2,511.6 363.5,516.5 363.8,516.2 364.2,513.0 364.5,513.2 364.8,508.1 365.2,517.5 365.5,513.6 365.8,509.7 366.2,510.6 366.5,510.3 366.8,519.1 367.2,516.1 367.5,510.0 367.8,519.6 368.2,518.0 368.5,509.7 368.8,506.3 369.2,516.9 369.5,512.2 369.8,513.6 370.2,512.4 370.5,517.8 370.8,518.4 371.2,516.4 371.5,513.5 371.8,514.8 372.2,515.9 372.5,509.3 372.8,517.7 373.2,513.0 373.5,514.8 373.8,514.4 374.2,517.7 374.5,517.2 374.8,520.7 375.2,513.0 375.5,511.3 375.8,514.4 376.2,512.1 376.5,516.6 376.8,511.6 377.2,514.5 377.5,516.9 377.8,517.1 378.2,514.7 378.5,518.3 378.8,517.9 379.2,509.0 379.5,515.2 379.8,514.6 380.2,513.2 380.5,512.2 380.8,514.3 381.2,515.3 381.5,515.0 381.8,518.3 382.2,518.2 382.5,512.4 382.8,511.9 383.2,516.7 383.5,512.1 383.8,514.7 384.2,515.6 384.5,517.3 384.8,515.8 385.2,518.6 385.5,512.9 385.8,516.3 386.2,512.3 386.5,514.8 386.8,514.7 387.2,511.5 387.5,506.5 387.8,517.2 388.2,515.8 388.5,514.8 388.8,512.2 389.2,513.4 389.5,515.7 389.8,514.4 390.2,517.8 390.5,514.7 390.8,511.9 391.2,516.2 391.5,512.5 391.8,515.1 392.2,509.0 392.5,513.1 392.8,516.1 393.2,512.5 393.5,514.4 393.8,516.2 394.2,514.6 394.5,519.8 394.9,513.7 395.2,513.9 395.5,513.9 395.9,508.6 396.2,509.9 396.5,516.1 396.9,513.5 397.2,518.7 397.5,514.2 397.9,514.0 398.2,518.7 398.5,515.4 398.9,519.3 399.2,511.4 399.5,515.9 399.9,516.6 400.2,516.2 400.5,518.0 400.9,517.7 401.2,514.7 401.5,513.0 401.9,517.6 402.2,514.8 402.5,517.6 402.9,518.7 403.2,515.6 403.5,511.2 403.9,514.0 404.2,517.2 404.5,514.1 404.9,518.4 405.2,515.0 405.5,515.3 405.9,513.1 406.2,514.6 406.5,518.2 406.9,513.7 407.2,514.0 407.5,512.6 407.9,517.3 408.2,510.4 408.5,513.0 408.9,517.7 409.2,519.2 409.5,514.3 409.9,517.8 410.2,509.1 410.5,517.2 410.9,515.8 411.2,511.3 411.5,509.7 411.9,513.5 412.2,515.8 412.5,516.1 412.9,515.3 413.2,517.3 413.5,517.1 413.9,510.9 414.2,513.9 414.5,513.5 414.9,518.1 415.2,513.6 415.5,518.0 415.9,515.3 416.2,522.0 416.5,514.9 416.9,515.2 417.2,514.8 417.5,515.5 417.9,522.3 418.2,513.6 418.5,512.5 418.9,514.5 419.2,517.1 419.5,511.3 419.9,518.4 420.2,517.4 420.5,514.5 420.9,514.4 421.2,512.8 421.5,514.4 421.9,512.8 422.2,518.8 422.5,520.0 422.9,514.3 423.2,515.1 423.5,509.6 423.9,513.6 424.2,516.2 424.5,516.0 424.9,515.6 425.2,517.7 425.5,515.5 425.9,513.7 426.2,519.9 426.5,509.6 426.9,510.7 427.2,513.1 427.5,513.1 427.9,513.0 428.2,514.6 428.5,513.1 428.9,515.1 429.2,517.0 429.5,515.3 429.9,515.6 430.2,512.5 430.5,511.9 430.9,514.4 431.2,518.0 431.5,516.4 431.9,518.5 432.2,518.2 432.5,518.6 432.9,512.9 433.2,518.9 433.5,517.5 433.9,521.4 434.2,517.0 434.5,516.3 434.9,515.0 435.2,515.8 435.5,510.5 435.9,514.6 436.2,515.2 436.5,518.3 436.9,512.8 437.2,515.8 437.5,520.7 437.9,513.9 438.2,517.9 438.5,513.9 438.9,515.1 439.2,516.8 439.5,518.0 439.9,514.0 440.2,512.5 440.5,519.9 440.9,516.0 441.2,517.8 441.5,518.1 441.9,517.7 442.2,514.7 442.5,515.1 442.9,511.0 443.2,516.0 443.5,514.1 443.9,515.4 444.2,520.9 444.5,518.2 444.9,515.7 445.2,511.6 445.5,517.7 445.9,521.5 446.2,513.2 446.5,517.2 446.9,514.1 447.2,515.1 447.5,514.5 447.9,511.0 448.2,514.1 448.5,510.9 448.9,519.6 449.2,518.6 449.5,515.8 449.9,516.7 450.2,515.8 450.5,516.2 450.9,516.2 451.2,515.0 451.5,515.2 451.9,511.8 452.2,512.8 452.5,514.0 452.9,516.3 453.2,514.6 453.5,521.2 453.9,515.2 454.2,514.4 454.5,517.0 454.9,518.7 455.2,521.0 455.6,518.5 455.9,513.5 456.2,515.3 456.6,518.8 456.9,516.5 457.2,518.1 457.6,515.6 457.9,520.4 458.2,519.9 458.6,519.0 458.9,516.3 459.2,511.3 459.6,512.0 459.9,516.8 460.2,517.7 460.6,508.3 460.9,514.5 461.2,519.2 461.6,518.6 461.9,514.5 462.2,517.7 462.6,516.0 462.9,515.1 463.2,520.3 463.6,519.2 463.9,514.5 464.2,513.3 464.6,512.3 464.9,512.0 465.2,519.8 465.6,521.3 465.9,516.6 466.2,519.0 466.6,514.1 466.9,515.8 467.2,518.6 467.6,517.0 467.9,516.0 468.2,511.4 468.6,512.0 468.9,514.9 469.2,514.5 469.6,515.9 469.9,514.3 470.2,515.5 470.6,516.3 470.9,517.6 471.2,516.3 471.6,514.6 471.9,515.3 472.2,518.7 472.6,515.5 472.9,513.4 473.2,512.3 473.6,516.9 473.9,517.7 474.2,519.5 474.6,515.2 474.9,520.0 475.2,515.1 475.6,515.4 475.9,514.0 476.2,517.6 476.6,519.0 476.9,516.0 477.2,514.7 477.6,511.7 477.9,516.5 478.2,515.1 478.6,515.5 478.9,514.3 479.2,513.6 479.6,514.9 479.9,517.3 480.2,518.8 480.6,516.0 480.9,517.3 481.2,515.5 481.6,515.7 481.9,512.2 482.2,518.5 482.6,517.7 482.9,521.6 483.2,514.3 483.6,516.4 483.9,513.5 484.2,516.7 484.6,515.7 484.9,518.0 485.2,515.7 485.6,517.9 485.9,514.2 486.2,517.7 486.6,515.2 486.9,514.4 487.2,516.3 487.6,517.1 487.9,512.1 488.2,510.3 488.6,516.6 488.9,515.9 489.2,510.4 489.6,511.3 489.9,513.9 490.2,517.0 490.6,516.6 490.9,518.9 491.2,519.4 491.6,522.7 491.9,512.0 492.2,516.0 492.6,519.1 492.9,512.6 493.2,512.1 493.6,516.6 493.9,520.2 494.2,520.8 494.6,511.1 494.9,512.7 495.2,515.8 495.6,514.6 495.9,517.0 496.2,516.5 496.6,521.0 496.9,515.9 497.2,516.6 497.6,516.3 497.9,520.3 498.2,511.9 498.6,517.2 498.9,513.9 499.2,512.1 499.6,519.4 499.9,517.6 500.2,520.0 500.6,516.8 500.9,517.9 501.2,516.7 501.6,518.3 501.9,514.6 502.2,520.9 502.6,513.6 502.9,520.9 503.2,515.6 503.6,518.6 503.9,516.7 504.2,517.4 504.6,520.3 504.9,516.5 505.2,513.5 505.6,517.1 505.9,518.0 506.2,506.8 506.6,518.9 506.9,519.2 507.2,511.2 507.6,515.7 507.9,518.5 508.2,511.8 508.6,515.0 508.9,515.2 509.2,517.7 509.6,519.3 509.9,516.1 510.2,516.3 510.6,518.8 510.9,517.7 511.2,515.8 511.6,519.9 511.9,512.1 512.2,516.6 512.6,515.0 512.9,514.3 513.2,516.7 513.6,516.3 513.9,523.1 514.2,518.0 514.6,517.1 514.9,520.8 515.2,519.0 515.6,510.8 515.9,516.5 516.3,518.3 516.6,514.4 516.9,517.0 517.3,514.8 517.6,517.2 517.9,511.5 518.3,510.6 518.6,514.6 518.9,517.0 519.3,519.9 519.6,515.3 519.9,514.0 520.3,518.7 520.6,516.2 520.9,521.3 521.3,515.9 521.6,510.5 521.9,513.8 522.3,513.4 522.6,512.1 522.9,513.9 523.3,514.1 523.6,515.3 523.9,514.5 524.3,517.2 524.6,517.3 524.9,516.6 525.3,516.6 525.6,510.7 525.9,511.3 526.3,513.6 526.6,516.8 526.9,511.9 527.3,514.9 527.6,516.8 527.9,521.7 528.3,516.8 528.6,514.5 528.9,519.2 529.3,516.6 529.6,515.2 529.9,519.2 530.3,513.4 530.6,516.6 530.9,516.3 531.3,518.6 531.6,512.7 531.9,512.3 532.3,514.9 532.6,515.2 532.9,516.1 533.3,514.9 533.6,517.2 533.9,518.0 534.3,516.6 534.6,513.0 534.9,519.3 535.3,511.6 535.6,515.4 535.9,519.4 536.3,514.2 536.6,519.7 536.9,521.5 537.3,520.5 537.6,517.2 537.9,518.8 538.3,514.5 538.6,517.1 538.9,517.3 539.3,516.2 539.6,516.4 539.9,515.4 540.3,510.3 540.6,517.1 540.9,516.9 541.3,521.9 541.6,518.0 541.9,516.2 542.3,518.5 542.6,517.8 542.9,515.9 543.3,514.9 543.6,511.8 543.9,516.3 544.3,520.6 544.6,510.6 544.9,513.2 545.3,518.2 545.6,516.5 545.9,517.2 546.3,510.6 546.6,514.3 546.9,517.4 547.3,517.7 547.6,516.8 547.9,513.4 548.3,517.5 548.6,511.3 548.9,513.3 549.3,512.6 549.6,520.1 549.9,514.8 550.3,516.1 550.6,509.6 550.9,520.2 551.3,517.3 551.6,511.2 551.9,511.3 552.3,520.8 552.6,513.2 552.9,521.3 553.3,514.6 553.6,508.8 553.9,519.2 554.3,517.4 554.6,517.9 554.9,514.5 555.3,515.3 555.6,518.7 555.9,513.6 556.3,510.3 556.6,518.6 556.9,513.5 557.3,519.6 557.6,514.6 557.9,514.7 558.3,515.2 558.6,509.2 558.9,519.4 559.3,514.1 559.6,515.2 559.9,520.2 560.3,516.3 560.6,518.5 560.9,516.9 561.3,518.2 561.6,516.8 561.9,519.3 562.3,515.1 562.6,517.3 562.9,513.2 563.3,519.4 563.6,509.7 563.9,516.5 564.3,517.0 564.6,517.0 564.9,516.0 565.3,519.9 565.6,522.1 565.9,514.3 566.3,510.5 566.6,512.9 566.9,513.7 567.3,515.6 567.6,515.9 567.9,519.2 568.3,514.4 568.6,515.9 568.9,516.4 569.3,513.5 569.6,515.1 569.9,523.5 570.3,515.8 570.6,513.3 570.9,509.8 571.3,519.1 571.6,515.1 571.9,514.2 572.3,523.1 572.6,520.2 572.9,511.1 573.3,515.1 573.6,519.0 573.9,519.3 574.3,511.7 574.6,521.2 574.9,521.4 575.3,512.9 575.6,511.0 575.9,512.1 576.3,518.0 576.6,519.2 577.0,516.6 577.3,514.4 577.6,515.8 578.0,517.7 578.3,512.6 578.6,511.2 579.0,515.9 579.3,519.7 579.6,516.7 580.0,516.7 580.3,514.2 580.6,518.8 581.0,511.2 581.3,515.9 581.6,514.4 582.0,515.7 582.3,513.5 582.6,518.3 583.0,515.9 583.3,514.4 583.6,517.6 584.0,516.0 584.3,514.6 584.6,514.4 585.0,518.4 585.3,513.4 585.6,515.5 586.0,515.4 586.3,517.0 586.6,515.6 587.0,522.4 587.3,511.1 587.6,517.9 588.0,516.1 588.3,519.3 588.6,511.5 589.0,519.7 589.3,512.2 589.6,518.2 590.0,517.6 590.3,516.3 590.6,514.1 591.0,513.8 591.3,516.5 591.6,514.0 592.0,510.6 592.3,511.0 592.6,518.5 593.0,518.6 593.3,517.7 593.6,516.3 594.0,517.3 594.3,517.6 594.6,517.2 595.0,514.0 595.3,514.1 595.6,512.9 596.0,516.7 596.3,513.4 596.6,515.8 597.0,521.3 597.3,515.2 597.6,519.1 598.0,520.8 598.3,511.1 598.6,512.2 599.0,517.7 599.3,514.3 599.6,517.9 600.0,519.1 600.3,514.9 600.6,518.7 601.0,521.4 601.3,519.1 601.6,513.8 602.0,515.9 602.3,514.8 602.6,520.9 603.0,515.8 603.3,514.4 603.6,516.5 604.0,518.4 604.3,515.3 604.6,516.7 605.0,516.4 605.3,518.6 605.6,519.2 606.0,517.2 606.3,515.1 606.6,517.6 607.0,513.9 607.3,519.6 607.6,517.5 608.0,517.2 608.3,509.5 608.6,523.3 609.0,520.7 609.3,520.2 609.6,517.0 610.0,518.5 610.3,523.8 610.6,514.6 611.0,518.7 611.3,518.3 611.6,517.0 612.0,517.6 612.3,513.8 612.6,518.5 613.0,512.9 613.3,521.9 613.6,518.9 614.0,514.2 614.3,510.7 614.6,517.0 615.0,518.1 615.3,513.8 615.6,521.5 616.0,517.5 616.3,515.4 616.6,512.7 617.0,516.4 617.3,516.1 617.6,518.6 618.0,520.9 618.3,516.9 618.6,518.1 619.0,520.9 619.3,518.5 619.6,516.0 620.0,518.6 620.3,515.3 620.6,518.1 621.0,516.9 621.3,512.6 621.6,518.5 622.0,517.0 622.3,519.7 622.6,513.0 623.0,520.0 623.3,521.3 623.6,515.8 624.0,516.5 624.3,517.0 624.6,516.8 625.0,519.2 625.3,514.8 625.6,513.5 626.0,516.1 626.3,522.2 626.6,515.7 627.0,513.9 627.3,514.2 627.6,517.3 628.0,520.1 628.3,514.7 628.6,517.3 629.0,517.4 629.3,518.1 629.6,517.2 630.0,519.8 630.3,518.7 630.6,515.0 631.0,523.7 631.3,511.6 631.6,513.0 632.0,519.7 632.3,517.3 632.6,515.9 633.0,517.4 633.3,518.8 633.6,515.6 634.0,515.0 634.3,513.8 634.6,514.3 635.0,514.5 635.3,520.1 635.6,517.6 636.0,518.4 636.3,515.2 636.6,519.8 637.0,512.4 637.3,518.2 637.7,518.8 638.0,515.2 638.3,513.9 638.7,518.3 639.0,514.8 639.3,514.3 639.7,516.8 640.0,513.6 640.3,516.4 640.7,522.6 641.0,515.6 641.3,519.4 641.7,512.8 642.0,517.1 642.3,516.1 642.7,516.4 643.0,519.0 643.3,523.0 643.7,516.5 644.0,520.6 644.3,517.8 644.7,518.9 645.0,515.5 645.3,514.8 645.7,516.3 646.0,514.7 646.3,516.8 646.7,513.9 647.0,516.9 647.3,517.4 647.7,522.0 648.0,521.8 648.3,518.3 648.7,515.5 649.0,518.6 649.3,519.2 649.7,516.3 650.0,514.5 650.3,511.8 650.7,516.8 651.0,522.4 651.3,516.3 651.7,518.0 652.0,518.0 652.3,518.3 652.7,519.1 653.0,509.3 653.3,516.5 653.7,518.0 654.0,516.7 654.3,520.4 654.7,515.9 655.0,519.6 655.3,522.0 655.7,516.3 656.0,517.1 656.3,516.2 656.7,519.2 657.0,510.9 657.3,511.4 657.7,516.2 658.0,519.5 658.3,518.7 658.7,514.7 659.0,521.6 659.3,517.4 659.7,515.3 660.0,518.6 660.3,520.8 660.7,516.9 661.0,512.8 661.3,515.5 661.7,517.3 662.0,519.8 662.3,514.2 662.7,517.8 663.0,513.7 663.3,517.3 663.7,513.3 664.0,515.8 664.3,512.8 664.7,513.4 665.0,512.6 665.3,511.5 665.7,520.6 666.0,520.5 666.3,518.5 666.7,516.1 667.0,521.3"/>
<path d="M60.0 33.3h10 M60.0 61.1h5.5 M60.0 89.0h10 M60.0 116.8h5.5 M60.0 144.6h10 M60.0 172.4h5.5 M60.0 200.3h10 M60.0 228.1h5.5 M60.0 255.9h10 M60.0 283.8h5.5 M60.0 311.6h10 M60.0 339.4h5.5 M60.0 367.2h10 M60.0 395.1h5.5 M60.0 422.9h10 M60.0 450.7h5.5 M60.0 478.5h10 M60.0 506.3h5.5 M60.0 534.2h10 M90.3 562.0v-5.5 M120.7 562.0v-11 M151.1 562.0v-5.5 M181.4 562.0v-11 M211.8 562.0v-5.5 M242.1 562.0v-11 M272.5 562.0v-5.5 M302.8 562.0v-11 M333.2 562.0v-5.5 M363.5 562.0v-11 M393.9 562.0v-5.5 M424.2 562.0v-11 M454.6 562.0v-5.5 M484.9 562.0v-11 M515.2 562.0v-5.5 M545.6 562.0v-11 M576.0 562.0v-5.5 M606.3 562.0v-11 M636.6 562.0v-5.5" stroke="#000" stroke-width="2.5" fill="none"/>
<rect x="60.0" y="5.5" width="607.0" height="556.5" fill="none" stroke="#000" stroke-width="2.5"/>
<g font-family="'Liberation Serif', serif" font-weight="bold" font-size="30"><text x="60.0" y="596" text-anchor="middle">15</text><text x="120.7" y="596" text-anchor="middle">20</text><text x="181.4" y="596" text-anchor="middle">25</text><text x="242.1" y="596" text-anchor="middle">30</text><text x="302.8" y="596" text-anchor="middle">35</text><text x="363.5" y="596" text-anchor="middle">40</text><text x="424.2" y="596" text-anchor="middle">45</text><text x="484.9" y="596" text-anchor="middle">50</text><text x="545.6" y="596" text-anchor="middle">55</text><text x="606.3" y="596" text-anchor="middle">60</text><text x="667.0" y="596" text-anchor="middle">65</text></g>
<polyline fill="none" stroke="#000000" stroke-width="2.8" stroke-linejoin="round" points="956.6,130.3 956.9,133.8 957.3,108.8 957.6,121.3 957.9,127.1 958.3,128.0 958.6,124.2 958.9,126.5 959.3,118.5 959.6,118.9 959.9,115.9 960.3,108.2 960.6,109.0 960.9,115.7 961.3,110.6 961.6,121.5 961.9,122.5 962.3,126.4 962.6,117.6 962.9,126.9 963.3,115.7 963.6,117.6 963.9,123.9 964.3,126.3 964.6,117.0 964.9,113.9 965.3,129.5 965.6,121.8 965.9,135.4 966.3,131.4 966.6,131.2 966.9,131.0 967.3,135.0 967.6,129.4 967.9,136.4 968.3,127.7 968.6,129.5 968.9,127.2 969.3,135.4 969.6,131.4 969.9,126.7 970.3,142.3 970.6,129.6 970.9,131.1 971.3,134.0 971.6,141.5 971.9,131.1 972.3,136.1 972.6,133.0 972.9,121.9 973.3,137.0 973.6,138.3 973.9,131.7 974.3,133.0 974.6,125.2 974.9,125.2 975.3,131.5 975.6,137.0 975.9,131.3 976.3,135.5 976.6,139.3 976.9,134.8 977.3,137.4 977.6,142.2 977.9,128.0 978.3,138.8 978.6,124.9 978.9,137.4 979.3,136.3 979.6,132.5 980.0,129.8 980.3,135.3 980.6,133.6 981.0,136.6 981.3,131.3 981.6,139.1 982.0,130.9 982.3,134.9 982.6,134.6 983.0,143.4 983.3,129.1 983.6,134.9 984.0,143.4 984.3,133.9 984.6,131.0 985.0,139.1 985.3,136.2 985.6,142.2 986.0,133.2 986.3,139.1 986.6,141.7 987.0,143.8 987.3,132.8 987.6,146.1 988.0,134.2 988.3,131.2 988.6,134.2 989.0,140.1 989.3,137.7 989.6,141.8 990.0,142.2 990.3,141.4 990.6,138.6 991.0,149.3 991.3,128.7 991.6,131.3 992.0,137.7 992.3,133.9 992.6,127.4 993.0,135.1 993.3,136.8 993.6,128.3 994.0,145.2 994.3,147.6 994.6,147.4 995.0,137.7 995.3,142.0 995.6,135.7 996.0,142.5 996.3,138.1 996.6,143.7 997.0,140.0 997.3,147.1 997.6,146.1 998.0,148.3 998.3,134.0 998.6,133.0 999.0,144.4 999.3,138.5 999.6,144.5 1000.0,144.1 1000.3,143.6 1000.6,147.5 1001.0,145.7 1001.3,145.4 1001.6,138.6 1002.0,151.9 1002.3,144.0 1002.6,149.0 1003.0,145.2 1003.3,152.2 1003.6,144.5 1004.0,144.9 1004.3,144.6 1004.6,140.5 1005.0,141.3 1005.3,143.2 1005.6,143.7 1006.0,139.5 1006.3,156.2 1006.6,139.7 1007.0,143.2 1007.3,156.9 1007.6,141.6 1008.0,148.8 1008.3,148.3 1008.6,143.7 1009.0,138.1 1009.3,137.6 1009.6,145.3 1010.0,147.5 1010.3,134.8 1010.6,146.3 1011.0,142.4 1011.3,150.1 1011.6,146.6 1012.0,141.8 1012.3,143.8 1012.6,146.2 1013.0,152.6 1013.3,158.7 1013.6,147.9 1014.0,146.8 1014.3,149.8 1014.6,146.6 1015.0,149.9 1015.3,148.8 1015.6,147.0 1016.0,143.1 1016.3,147.9 1016.6,151.6 1017.0,147.9 1017.3,154.7 1017.6,152.0 1018.0,146.8 1018.3,156.0 1018.6,142.1 1019.0,153.4 1019.3,156.8 1019.6,146.6 1020.0,147.4 1020.3,152.6 1020.6,157.7 1021.0,150.3 1021.3,149.4 1021.6,152.8 1022.0,149.6 1022.3,142.6 1022.6,147.6 1023.0,148.5 1023.3,141.4 1023.6,150.6 1024.0,145.2 1024.3,152.4 1024.6,141.7 1025.0,144.6 1025.3,142.0 1025.6,155.3 1026.0,155.3 1026.3,156.3 1026.7,156.4 1027.0,153.7 1027.3,153.7 1027.7,141.3 1028.0,151.9 1028.3,147.2 1028.7,148.1 1029.0,143.8 1029.3,156.1 1029.7,150.6 1030.0,142.8 1030.3,152.4 1030.7,149.6 1031.0,145.0 1031.3,148.6 1031.7,146.3 1032.0,139.0 1032.3,142.7 1032.7,152.5 1033.0,151.7 1033.3,151.4 1033.7,144.5 1034.0,147.3 1034.3,150.5 1034.7,153.5 1035.0,146.3 1035.3,145.3 1035.7,155.9 1036.0,150.8 1036.3,148.7 1036.7,147.1 1037.0,147.5 1037.3,160.9 1037.7,155.4 1038.0,148.9 1038.3,145.0 1038.7,158.9 1039.0,161.1 1039.3,158.8 1039.7,155.2 1040.0,142.3 1040.3,145.2 1040.7,154.0 1041.0,150.1 1041.3,152.7 1041.7,149.1 1042.0,148.5 1042.3,154.3 1042.7,149.2 1043.0,151.8 1043.3,153.1 1043.7,153.0 1044.0,157.5 1044.3,160.8 1044.7,145.7 1045.0,151.0 1045.3,149.3 1045.7,156.0 1046.0,147.6 1046.3,156.3 1046.7,156.1 1047.0,155.6 1047.3,148.4 1047.7,152.1 1048.0,148.1 1048.3,155.1 1048.7,157.8 1049.0,146.4 1049.3,149.7 1049.7,152.9 1050.0,151.3 1050.3,160.8 1050.7,153.3 1051.0,155.2 1051.3,149.0 1051.7,161.4 1052.0,155.1 1052.3,158.0 1052.7,155.1 1053.0,144.8 1053.3,144.8 1053.7,148.9 1054.0,157.1 1054.3,151.9 1054.7,157.1 1055.0,156.5 1055.3,156.5 1055.7,159.7 1056.0,156.4 1056.3,148.1 1056.7,152.6 1057.0,163.4 1057.3,151.0 1057.7,162.3 1058.0,163.7 1058.3,153.5 1058.7,157.9 1059.0,147.8 1059.3,160.0 1059.7,153.1 1060.0,148.7 1060.3,155.0 1060.7,154.8 1061.0,154.3 1061.3,157.9 1061.7,156.3 1062.0,154.1 1062.3,161.5 1062.7,168.2 1063.0,157.5 1063.3,154.1 1063.7,152.8 1064.0,160.0 1064.3,156.2 1064.7,157.5 1065.0,148.4 1065.3,152.4 1065.7,152.3 1066.0,161.8 1066.3,156.4 1066.7,146.4 1067.0,159.8 1067.3,162.8 1067.7,163.6 1068.0,142.1 1068.3,158.5 1068.7,161.5 1069.0,160.6 1069.3,156.9 1069.7,149.8 1070.0,155.4 1070.3,156.1 1070.7,160.7 1071.0,161.0 1071.3,157.1 1071.7,162.0 1072.0,153.5 1072.3,155.2 1072.7,158.2 1073.0,161.8 1073.3,156.9 1073.7,163.9 1074.0,160.3 1074.4,154.2 1074.7,159.0 1075.0,154.6 1075.4,154.3 1075.7,152.2 1076.0,164.9 1076.4,162.8 1076.7,151.6 1077.0,163.8 1077.4,163.1 1077.7,157.2 1078.0,161.2 1078.4,169.0 1078.7,160.2 1079.0,160.9 1079.4,164.1 1079.7,154.5 1080.0,153.5 1080.4,152.9 1080.7,158.9 1081.0,163.2 1081.4,155.5 1081.7,153.3 1082.0,160.4 1082.4,157.9 1082.7,163.3 1083.0,159.2 1083.4,159.0 1083.7,159.5 1084.0,160.1 1084.4,155.7 1084.7,155.0 1085.0,169.7 1085.4,171.4 1085.7,165.2 1086.0,153.0 1086.4,160.4 1086.7,165.6 1087.0,153.2 1087.4,158.2 1087.7,158.5 1088.0,156.2 1088.4,156.4 1088.7,164.3 1089.0,157.4 1089.4,157.8 1089.7,165.6 1090.0,153.2 1090.4,147.2 1090.7,157.0 1091.0,161.3 1091.4,151.6 1091.7,150.3 1092.0,141.7 1092.4,142.1 1092.7,152.0 1093.0,150.9 1093.4,148.3 1093.7,143.8 1094.0,141.0 1094.4,145.0 1094.7,146.3 1095.0,156.0 1095.4,151.6 1095.7,154.5 1096.0,161.0 1096.4,162.0 1096.7,160.1 1097.0,162.7 1097.4,161.1 1097.7,152.9 1098.0,161.2 1098.4,159.9 1098.7,160.3 1099.0,163.0 1099.4,159.5 1099.7,167.4 1100.0,161.4 1100.4,162.9 1100.7,163.7 1101.0,161.5 1101.4,165.1 1101.7,165.7 1102.0,165.2 1102.4,159.4 1102.7,158.5 1103.0,159.9 1103.4,162.6 1103.7,154.4 1104.0,158.9 1104.4,157.6 1104.7,159.6 1105.0,158.5 1105.4,166.1 1105.7,164.4 1106.0,166.6 1106.4,158.1 1106.7,159.0 1107.0,161.1 1107.4,169.6 1107.7,169.7 1108.0,159.7 1108.4,165.1 1108.7,171.7 1109.0,157.8 1109.4,161.5 1109.7,168.0 1110.0,165.4 1110.4,157.9 1110.7,168.9 1111.0,166.5 1111.4,165.2 1111.7,154.9 1112.0,161.5 1112.4,167.9 1112.7,164.3 1113.0,165.6 1113.4,160.9 1113.7,168.7 1114.0,161.0 1114.4,166.1 1114.7,163.5 1115.0,157.8 1115.4,168.5 1115.7,156.5 1116.0,158.7 1116.4,162.8 1116.7,155.8 1117.0,154.0 1117.4,161.2 1117.7,160.0 1118.0,160.6 1118.4,164.0 1118.7,171.7 1119.0,159.9 1119.4,172.4 1119.7,162.8 1120.0,161.2 1120.4,150.4 1120.7,154.9 1121.1,162.7 1121.4,164.0 1121.7,157.9 1122.1,162.8 1122.4,165.4 1122.7,158.9 1123.1,154.3 1123.4,157.1 1123.7,160.0 1124.1,162.6 1124.4,164.7 1124.7,157.2 1125.1,161.4 1125.4,160.1 1125.7,161.4 1126.1,166.0 1126.4,166.9 1126.7,159.1 1127.1,158.5 1127.4,156.9 1127.7,158.8 1128.1,159.3 1128.4,160.3 1128.7,158.0 1129.1,156.3 1129.4,155.9 1129.7,161.2 1130.1,171.7 1130.4,163.4 1130.7,163.8 1131.1,162.5 1131.4,160.2 1131.7,172.7 1132.1,159.5 1132.4,156.5 1132.7,153.3 1133.1,161.4 1133.4,154.5 1133.7,156.5 1134.1,156.5 1134.4,154.4 1134.7,160.9 1135.1,152.6 1135.4,170.1 1135.7,148.6 1136.1,153.6 1136.4,160.0 1136.7,161.5 1137.1,158.1 1137.4,160.8 1137.7,160.2 1138.1,159.9 1138.4,161.9 1138.7,160.3 1139.1,158.7 1139.4,158.4 1139.7,162.9 1140.1,158.1 1140.4,162.3 1140.7,165.8 1141.1,160.4 1141.4,164.0 1141.7,156.6 1142.1,159.7 1142.4,160.7 1142.7,159.3 1143.1,160.4 1143.4,164.4 1143.7,156.6 1144.1,154.9 1144.4,159.3 1144.7,151.2 1145.1,157.6 1145.4,163.0 1145.7,157.4 1146.1,159.8 1146.4,158.9 1146.7,162.4 1147.1,159.1 1147.4,157.5 1147.7,144.6 1148.1,153.8 1148.4,159.2 1148.7,155.1 1149.1,152.1 1149.4,159.5 1149.7,151.0 1150.1,153.3 1150.4,157.8 1150.7,152.1 1151.1,155.1 1151.4,154.0 1151.7,148.3 1152.1,151.2 1152.4,151.7 1152.7,150.2 1153.1,158.1 1153.4,152.7 1153.7,149.6 1154.1,145.8 1154.4,150.0 1154.7,158.1 1155.1,150.3 1155.4,155.1 1155.7,153.5 1156.1,148.7 1156.4,146.4 1156.7,153.3 1157.1,142.5 1157.4,153.1 1157.7,144.5 1158.1,154.0 1158.4,147.9 1158.7,148.9 1159.1,154.4 1159.4,144.4 1159.7,149.3 1160.1,147.3 1160.4,151.1 1160.7,151.9 1161.1,149.6 1161.4,149.1 1161.7,145.9 1162.1,151.6 1162.4,146.3 1162.7,148.1 1163.1,148.0 1163.4,140.3 1163.7,141.2 1164.1,147.6 1164.4,146.2 1164.7,152.3 1165.1,134.0 1165.4,146.8 1165.7,150.9 1166.1,145.8 1166.4,149.0 1166.8,145.1 1167.1,144.5 1167.4,149.1 1167.8,138.0 1168.1,129.1 1168.4,146.4 1168.8,144.4 1169.1,144.2 1169.4,144.9 1169.8,146.4 1170.1,140.7 1170.4,145.2 1170.8,144.2 1171.1,136.7 1171.4,141.5 1171.8,143.4 1172.1,137.9 1172.4,146.9 1172.8,140.0 1173.1,145.4 1173.4,148.5 1173.8,133.4 1174.1,134.0 1174.4,143.5 1174.8,139.4 1175.1,142.8 1175.4,151.9 1175.8,137.3 1176.1,144.0 1176.4,138.1 1176.8,135.9 1177.1,141.4 1177.4,140.1 1177.8,144.2 1178.1,140.0 1178.4,142.8 1178.8,140.8 1179.1,129.0 1179.4,135.8 1179.8,135.8 1180.1,141.9 1180.4,131.6 1180.8,137.9 1181.1,134.5 1181.4,127.0 1181.8,135.5 1182.1,139.5 1182.4,134.0 1182.8,140.6 1183.1,137.6 1183.4,137.0 1183.8,132.4 1184.1,133.8 1184.4,137.2 1184.8,134.7 1185.1,127.8 1185.4,133.2 1185.8,136.1 1186.1,139.8 1186.4,138.1 1186.8,128.2 1187.1,136.9 1187.4,124.4 1187.8,129.3 1188.1,128.3 1188.4,140.6 1188.8,137.2 1189.1,133.7 1189.4,128.5 1189.8,138.4 1190.1,130.1 1190.4,134.8 1190.8,137.1 1191.1,129.3 1191.4,133.7 1191.8,119.7 1192.1,133.5 1192.4,120.9 1192.8,132.2 1193.1,131.4 1193.4,132.2 1193.8,142.1 1194.1,115.5 1194.4,131.5 1194.8,126.7 1195.1,132.8 1195.4,130.2 1195.8,128.9 1196.1,125.3 1196.4,123.9 1196.8,129.7 1197.1,119.1 1197.4,133.3 1197.8,123.9 1198.1,129.5 1198.4,117.9 1198.8,129.1 1199.1,125.1 1199.4,130.5 1199.8,132.9 1200.1,122.8 1200.4,126.2 1200.8,126.8 1201.1,133.5 1201.4,117.7 1201.8,128.2 1202.1,124.6 1202.4,117.7 1202.8,122.4 1203.1,120.3 1203.4,130.2 1203.8,118.3 1204.1,129.3 1204.4,120.7 1204.8,127.0 1205.1,113.1 1205.4,118.3 1205.8,123.4 1206.1,117.0 1206.4,113.1 1206.8,122.0 1207.1,126.2 1207.4,121.6 1207.8,119.7 1208.1,123.4 1208.4,118.4 1208.8,126.0 1209.1,126.9 1209.4,112.9 1209.8,126.2 1210.1,123.9 1210.4,122.0 1210.8,123.5 1211.1,127.7 1211.4,130.4 1211.8,128.4 1212.1,117.3 1212.4,126.4 1212.8,108.5 1213.1,123.4 1213.5,123.7 1213.8,123.5 1214.1,110.5 1214.5,129.0 1214.8,127.5 1215.1,118.2 1215.5,108.3 1215.8,118.5 1216.1,111.3 1216.5,106.8 1216.8,111.6 1217.1,129.7 1217.5,106.6 1217.8,113.2 1218.1,116.1 1218.5,120.4 1218.8,108.5 1219.1,108.4 1219.5,119.4 1219.8,115.5 1220.1,123.7 1220.5,106.4 1220.8,112.5 1221.1,118.6 1221.5,113.5 1221.8,105.7 1222.1,113.0 1222.5,96.5 1222.8,107.2 1223.1,116.4 1223.5,116.9 1223.8,113.7 1224.1,115.2 1224.5,101.6 1224.8,106.6 1225.1,116.8 1225.5,124.3 1225.8,112.7 1226.1,104.1 1226.5,103.6 1226.8,116.8 1227.1,115.9 1227.5,101.4 1227.8,109.6 1228.1,117.1 1228.5,117.1 1228.8,104.9 1229.1,106.4 1229.5,110.6 1229.8,100.7 1230.1,97.1 1230.5,102.8 1230.8,114.5 1231.1,115.8 1231.5,109.4 1231.8,98.9 1232.1,93.6 1232.5,99.2 1232.8,105.7 1233.1,111.8 1233.5,99.4 1233.8,105.2 1234.1,93.2 1234.5,90.9 1234.8,104.0 1235.1,96.2 1235.5,96.9 1235.8,88.8 1236.1,108.2 1236.5,91.3 1236.8,102.7 1237.1,92.7 1237.5,99.6 1237.8,110.4 1238.1,103.2 1238.5,102.3 1238.8,107.2 1239.1,104.8 1239.5,110.3 1239.8,91.9 1240.1,110.0 1240.5,101.6 1240.8,94.4 1241.1,105.0 1241.5,104.5 1241.8,100.9 1242.1,106.5 1242.5,92.4 1242.8,90.1 1243.1,96.9 1243.5,107.8 1243.8,104.1 1244.1,100.6 1244.5,96.5 1244.8,100.2 1245.1,108.0 1245.5,96.8 1245.8,96.6 1246.1,103.1 1246.5,104.5 1246.8,101.2 1247.1,112.7 1247.5,101.5 1247.8,93.8 1248.1,85.8 1248.5,107.7 1248.8,98.9 1249.1,102.1 1249.5,103.9 1249.8,108.7 1250.1,106.7 1250.5,106.3 1250.8,101.7 1251.1,98.3 1251.5,102.1 1251.8,94.4 1252.1,102.1 1252.5,106.6 1252.8,104.3 1253.1,100.5 1253.5,93.7 1253.8,93.6 1254.1,94.6 1254.5,96.6 1254.8,103.1 1255.1,102.3 1255.5,102.8 1255.8,105.6 1256.1,90.3 1256.5,97.4 1256.8,102.2 1257.1,103.9 1257.5,94.2 1257.8,94.0 1258.1,106.0 1258.5,102.9 1258.8,101.3 1259.1,96.4 1259.5,91.9 1259.8,98.0 1260.2,100.1 1260.5,101.3 1260.8,103.6 1261.2,98.6 1261.5,106.0 1261.8,95.5 1262.2,99.9 1262.5,98.1 1262.8,85.8 1263.2,88.9 1263.5,93.9 1263.8,98.3 1264.2,99.4 1264.5,108.6 1264.8,97.0 1265.2,94.9 1265.5,99.1 1265.8,88.8 1266.2,95.5 1266.5,90.0 1266.8,97.0 1267.2,91.9 1267.5,93.7 1267.8,109.0 1268.2,103.6 1268.5,112.7 1268.8,97.4 1269.2,94.9 1269.5,90.8 1269.8,95.7 1270.2,80.2 1270.5,96.4 1270.8,92.0 1271.2,86.8 1271.5,83.6 1271.8,89.5 1272.2,92.7 1272.5,95.1 1272.8,84.5 1273.2,94.9 1273.5,97.3 1273.8,110.0 1274.2,97.8 1274.5,101.5 1274.8,89.0 1275.2,95.5 1275.5,89.0 1275.8,90.0 1276.2,100.0 1276.5,94.1 1276.8,105.3 1277.2,95.5 1277.5,98.6 1277.8,87.7 1278.2,89.2 1278.5,100.3 1278.8,91.4 1279.2,104.3 1279.5,90.5 1279.8,90.1 1280.2,108.8 1280.5,80.8 1280.8,92.7 1281.2,99.6 1281.5,100.1 1281.8,88.7 1282.2,110.4 1282.5,93.3 1282.8,83.6 1283.2,102.3 1283.5,93.2 1283.8,96.8 1284.2,103.3 1284.5,90.5 1284.8,91.7 1285.2,95.8 1285.5,102.1 1285.8,87.9 1286.2,106.2 1286.5,99.1 1286.8,89.2 1287.2,97.1 1287.5,100.5 1287.8,104.9 1288.2,104.5 1288.5,104.3 1288.8,95.9 1289.2,101.7 1289.5,79.9 1289.8,103.6 1290.2,96.7 1290.5,107.6 1290.8,93.3 1291.2,94.1 1291.5,97.6 1291.8,102.8 1292.2,99.6 1292.5,104.3 1292.8,98.0 1293.2,104.6 1293.5,114.7 1293.8,106.0 1294.2,103.4 1294.5,88.4 1294.8,102.2 1295.2,105.3 1295.5,97.1 1295.8,105.1 1296.2,84.0 1296.5,94.0 1296.8,92.4 1297.2,102.1 1297.5,93.3 1297.8,92.4 1298.2,108.4 1298.5,89.4 1298.8,102.2 1299.2,106.2 1299.5,97.3 1299.8,93.2 1300.2,97.5 1300.5,95.5 1300.8,94.1 1301.2,100.8 1301.5,99.1 1301.8,116.2 1302.2,108.1 1302.5,100.9 1302.8,103.4 1303.2,110.8 1303.5,107.6 1303.8,100.3 1304.2,95.0 1304.5,111.7 1304.8,100.2 1305.2,101.9 1305.5,109.2 1305.8,101.7 1306.2,108.9 1306.5,98.7 1306.8,101.9 1307.2,99.1 1307.5,114.4 1307.9,91.4 1308.2,99.7 1308.5,95.3 1308.9,96.3 1309.2,92.8 1309.5,95.9 1309.9,109.1 1310.2,110.7 1310.5,97.2 1310.9,93.6 1311.2,98.5 1311.5,112.3 1311.9,101.3 1312.2,88.1 1312.5,107.4 1312.9,101.2 1313.2,106.1 1313.5,104.8 1313.9,94.0 1314.2,109.0 1314.5,108.3 1314.9,98.3 1315.2,88.1 1315.5,95.3 1315.9,95.6 1316.2,107.4 1316.5,99.3 1316.9,100.3 1317.2,103.5 1317.5,100.5 1317.9,105.9 1318.2,105.6 1318.5,109.7 1318.9,95.9 1319.2,106.8 1319.5,102.2 1319.9,117.5 1320.2,113.5 1320.5,101.7 1320.9,110.4 1321.2,93.3 1321.5,97.9 1321.9,103.0 1322.2,106.5 1322.5,97.9 1322.9,105.2 1323.2,113.0 1323.5,95.0 1323.9,96.7 1324.2,93.2 1324.5,112.7 1324.9,98.7 1325.2,103.2 1325.5,100.1 1325.9,105.2 1326.2,103.8 1326.5,107.2 1326.9,107.2 1327.2,116.3 1327.5,100.5 1327.9,107.6 1328.2,105.9 1328.5,101.0 1328.9,112.1 1329.2,118.4 1329.5,100.2 1329.9,122.5 1330.2,106.4 1330.5,106.9 1330.9,91.8 1331.2,108.1 1331.5,107.0 1331.9,106.3 1332.2,112.2 1332.5,107.1 1332.9,110.6 1333.2,104.4 1333.5,101.5 1333.9,109.4 1334.2,112.5 1334.5,113.3 1334.9,109.8 1335.2,104.7 1335.5,109.7 1335.9,107.9 1336.2,101.9 1336.5,111.8 1336.9,108.3 1337.2,103.2 1337.5,108.3 1337.9,114.0 1338.2,119.7 1338.5,99.4 1338.9,108.5 1339.2,114.2 1339.5,118.1 1339.9,113.5 1340.2,105.0 1340.5,108.3 1340.9,111.3 1341.2,106.8 1341.5,105.3 1341.9,104.0 1342.2,127.6 1342.5,112.3 1342.9,110.8 1343.2,116.6 1343.5,112.9 1343.9,111.8 1344.2,114.7 1344.5,108.6 1344.9,111.0 1345.2,119.2 1345.5,117.7 1345.9,107.7 1346.2,123.5 1346.5,112.4 1346.9,105.5 1347.2,119.6 1347.5,119.5 1347.9,117.7 1348.2,108.2 1348.5,126.0 1348.9,119.7 1349.2,119.0 1349.5,118.5 1349.9,119.6 1350.2,135.4 1350.5,114.0 1350.9,120.0 1351.2,125.1 1351.5,123.4 1351.9,114.5 1352.2,118.8 1352.5,117.7 1352.9,111.9 1353.2,119.6 1353.5,126.7 1353.9,123.3 1354.2,128.5 1354.6,125.0 1354.9,118.9 1355.2,127.6 1355.6,113.9 1355.9,131.3 1356.2,122.5 1356.6,134.4 1356.9,117.7 1357.2,120.4 1357.6,123.8 1357.9,125.2 1358.2,118.2 1358.6,120.4 1358.9,130.6 1359.2,122.2 1359.6,133.6 1359.9,138.2 1360.2,121.5 1360.6,127.9 1360.9,143.3 1361.2,136.9 1361.6,124.0 1361.9,133.9 1362.2,141.1 1362.6,120.6 1362.9,134.4 1363.2,138.5 1363.6,130.2 1363.9,129.6 1364.2,137.3 1364.6,124.8 1364.9,136.6 1365.2,140.4 1365.6,134.4 1365.9,125.7 1366.2,142.8 1366.6,134.3 1366.9,137.6 1367.2,130.1 1367.6,134.5 1367.9,141.0 1368.2,127.2 1368.6,128.4 1368.9,124.6 1369.2,138.2 1369.6,138.3 1369.9,131.6 1370.2,138.1 1370.6,136.6 1370.9,146.9 1371.2,130.5 1371.6,138.3 1371.9,134.8 1372.2,147.0 1372.6,139.9 1372.9,131.4 1373.2,140.2 1373.6,137.2 1373.9,133.2 1374.2,140.5 1374.6,139.2 1374.9,130.4 1375.2,136.5 1375.6,145.0 1375.9,144.4 1376.2,138.7 1376.6,137.7 1376.9,141.2 1377.2,139.3 1377.6,133.9 1377.9,143.5 1378.2,134.8 1378.6,148.1 1378.9,143.8 1379.2,144.6 1379.6,139.4 1379.9,142.0 1380.2,138.3 1380.6,138.6 1380.9,136.3 1381.2,148.9 1381.6,136.0 1381.9,150.5 1382.2,145.8 1382.6,137.5 1382.9,148.9 1383.2,144.5 1383.6,138.5 1383.9,144.3 1384.2,141.1 1384.6,139.0 1384.9,142.7 1385.2,144.4 1385.6,141.5 1385.9,143.1 1386.2,147.4 1386.6,142.7 1386.9,141.7 1387.2,137.3 1387.6,143.5 1387.9,141.6 1388.2,143.0 1388.6,148.2 1388.9,150.2 1389.2,144.6 1389.6,141.7 1389.9,145.4 1390.2,146.4 1390.6,146.1 1390.9,137.9 1391.2,146.7 1391.6,140.2 1391.9,146.9 1392.2,147.5 1392.6,146.3 1392.9,151.6 1393.2,145.8 1393.6,147.5 1393.9,141.6 1394.2,145.6 1394.6,145.1 1394.9,146.6 1395.2,145.6 1395.6,135.0 1395.9,150.6 1396.2,150.2 1396.6,136.7 1396.9,148.2 1397.2,152.0 1397.6,150.8 1397.9,150.8 1398.2,146.5 1398.6,144.1 1398.9,156.9 1399.2,149.8 1399.6,155.8 1399.9,147.6 1400.2,152.5 1400.6,152.1 1400.9,152.1 1401.3,142.5 1401.6,159.9 1401.9,150.1 1402.3,147.1 1402.6,150.2 1402.9,140.4 1403.3,155.7 1403.6,147.3 1403.9,150.6 1404.3,150.2 1404.6,141.0 1404.9,148.0 1405.3,155.7 1405.6,146.0 1405.9,151.1 1406.3,154.8 1406.6,157.7 1406.9,144.9 1407.3,155.3 1407.6,153.7 1407.9,153.1 1408.3,155.3 1408.6,154.3 1408.9,146.2 1409.3,153.3 1409.6,148.2 1409.9,152.8 1410.3,149.3 1410.6,158.4 1410.9,155.9 1411.3,154.0 1411.6,148.5 1411.9,153.8 1412.3,146.7 1412.6,147.9 1412.9,144.3 1413.3,156.3 1413.6,150.0 1413.9,158.4 1414.3,157.8 1414.6,157.4 1414.9,150.8 1415.3,159.6 1415.6,158.4 1415.9,147.1 1416.3,155.6 1416.6,149.5 1416.9,152.7 1417.3,159.0 1417.6,155.0 1417.9,161.0 1418.3,156.6 1418.6,157.2 1418.9,161.6 1419.3,159.7 1419.6,157.8 1419.9,160.5 1420.3,159.9 1420.6,148.0 1420.9,149.7 1421.3,155.0 1421.6,159.7 1421.9,151.3 1422.3,147.2 1422.6,154.6 1422.9,152.3 1423.3,161.9 1423.6,144.3 1423.9,159.0 1424.3,158.3 1424.6,143.1 1424.9,150.8 1425.3,154.4 1425.6,157.3 1425.9,155.8 1426.3,159.7 1426.6,156.8 1426.9,152.3 1427.3,163.7 1427.6,157.4 1427.9,152.3 1428.3,158.5 1428.6,155.8 1428.9,154.6 1429.3,152.8 1429.6,149.9 1429.9,152.7 1430.3,151.0 1430.6,147.9 1430.9,159.0 1431.3,158.1 1431.6,155.5 1431.9,151.1 1432.3,150.8 1432.6,161.8 1432.9,149.6 1433.3,155.9 1433.6,152.1 1433.9,151.2 1434.3,145.5 1434.6,145.7 1434.9,146.1 1435.3,141.8 1435.6,153.8 1435.9,145.4 1436.3,151.6 1436.6,163.4 1436.9,161.0 1437.3,153.3 1437.6,159.4 1437.9,162.6 1438.3,150.0 1438.6,171.7 1438.9,162.0 1439.3,158.6 1439.6,159.6 1439.9,150.2 1440.3,164.6 1440.6,167.5 1440.9,159.8 1441.3,167.8 1441.6,163.8 1441.9,153.1 1442.3,163.5 1442.6,152.2 1442.9,153.0 1443.3,164.2 1443.6,164.0 1443.9,161.2 1444.3,161.2 1444.6,155.0 1444.9,166.3 1445.3,161.9 1445.6,161.2 1445.9,173.1 1446.3,163.5 1446.6,162.3 1447.0,171.3 1447.3,163.9 1447.6,160.7 1448.0,169.6 1448.3,162.4 1448.6,159.6 1449.0,161.7 1449.3,163.4 1449.6,167.5 1450.0,169.1 1450.3,156.7 1450.6,169.1 1451.0,160.9 1451.3,161.6 1451.6,152.2 1452.0,170.3 1452.3,165.4 1452.6,161.3 1453.0,160.8 1453.3,164.8 1453.6,159.5 1454.0,146.5 1454.3,157.9 1454.6,155.2 1455.0,155.1 1455.3,153.4 1455.6,156.2 1456.0,149.2 1456.3,166.2 1456.6,153.9 1457.0,151.3 1457.3,156.2 1457.6,149.9 1458.0,158.2 1458.3,157.2 1458.6,157.5 1459.0,166.5 1459.3,165.2 1459.6,160.6 1460.0,162.7 1460.3,167.3 1460.6,176.0 1461.0,165.9 1461.3,165.9 1461.6,168.9 1462.0,161.6 1462.3,166.7 1462.6,170.2 1463.0,169.7 1463.3,168.8 1463.6,162.4 1464.0,167.7 1464.3,173.7 1464.6,178.1 1465.0,172.1 1465.3,165.8 1465.6,166.3 1466.0,167.4 1466.3,177.3 1466.6,162.8 1467.0,167.6 1467.3,161.6 1467.6,166.9 1468.0,167.5 1468.3,172.6 1468.6,172.2 1469.0,169.8 1469.3,167.8 1469.6,167.3 1470.0,176.0 1470.3,168.7 1470.6,164.6 1471.0,165.2 1471.3,169.5 1471.6,166.1 1472.0,162.9 1472.3,173.4 1472.6,166.7 1473.0,169.1 1473.3,170.1 1473.6,168.6 1474.0,169.1 1474.3,159.1 1474.6,170.1 1475.0,169.0 1475.3,168.3 1475.6,169.8 1476.0,179.3 1476.3,177.1 1476.6,174.5 1477.0,176.8 1477.3,168.6 1477.6,170.2 1478.0,172.5 1478.3,174.3 1478.6,174.1 1479.0,178.3 1479.3,170.3 1479.6,176.4 1480.0,168.4 1480.3,173.3 1480.6,167.1 1481.0,176.3 1481.3,169.0 1481.6,176.7 1482.0,163.5 1482.3,178.8 1482.6,171.4 1483.0,173.3 1483.3,172.8 1483.6,164.8 1484.0,169.2 1484.3,169.2 1484.6,171.4 1485.0,165.5 1485.3,169.2 1485.6,172.2 1486.0,176.5 1486.3,174.9 1486.6,165.6 1487.0,175.5 1487.3,178.5 1487.6,175.2 1488.0,170.7 1488.3,167.3 1488.6,170.4 1489.0,178.8 1489.3,168.1 1489.6,162.1 1490.0,175.9 1490.3,169.6 1490.6,172.0 1491.0,170.7 1491.3,176.8 1491.6,170.8 1492.0,168.5 1492.3,169.2 1492.6,179.6 1493.0,178.6 1493.3,171.1 1493.7,170.6 1494.0,172.2 1494.3,175.0 1494.7,168.2 1495.0,179.0 1495.3,173.9 1495.7,162.2 1496.0,168.5 1496.3,171.6 1496.7,182.6 1497.0,179.4 1497.3,173.8 1497.7,168.3 1498.0,172.7 1498.3,173.1 1498.7,171.1 1499.0,173.5 1499.3,175.8 1499.7,171.0 1500.0,168.3 1500.3,173.5 1500.7,166.7 1501.0,171.0 1501.3,177.6 1501.7,173.6 1502.0,167.9 1502.3,172.6 1502.7,171.7 1503.0,173.3 1503.3,176.8 1503.7,170.6 1504.0,167.7 1504.3,179.0 1504.7,169.2 1505.0,175.9 1505.3,174.3 1505.7,171.4 1506.0,174.9 1506.3,174.4 1506.7,173.4 1507.0,175.7 1507.3,169.8 1507.7,176.5 1508.0,169.3 1508.3,176.6 1508.7,178.1 1509.0,169.4 1509.3,180.6 1509.7,170.1 1510.0,172.4 1510.3,169.3 1510.7,171.4 1511.0,172.9 1511.3,170.1 1511.7,176.5 1512.0,169.3 1512.3,173.8 1512.7,168.2 1513.0,168.7 1513.3,172.8 1513.7,173.6 1514.0,170.9 1514.3,173.7 1514.7,174.2 1515.0,169.7 1515.3,172.5 1515.7,168.9 1516.0,167.1 1516.3,169.9 1516.7,171.4 1517.0,178.6 1517.3,174.4 1517.7,172.8 1518.0,163.7 1518.3,168.6 1518.7,174.3 1519.0,174.7 1519.3,172.4 1519.7,167.6 1520.0,164.5 1520.3,165.6 1520.7,173.0 1521.0,174.0 1521.3,179.6 1521.7,169.7 1522.0,173.7 1522.3,169.3 1522.7,171.6 1523.0,172.8 1523.3,170.3 1523.7,178.1 1524.0,168.0 1524.3,176.7 1524.7,171.5 1525.0,170.4 1525.3,176.6 1525.7,169.2 1526.0,173.6 1526.3,172.4 1526.7,175.3 1527.0,167.6 1527.3,173.5 1527.7,174.3 1528.0,169.8 1528.3,168.3 1528.7,168.2 1529.0,172.2 1529.3,169.2 1529.7,174.5 1530.0,171.8 1530.3,170.9 1530.7,172.1 1531.0,172.6 1531.3,172.7 1531.7,174.6 1532.0,176.9 1532.3,174.0 1532.7,174.3 1533.0,178.4 1533.3,178.4 1533.7,172.6 1534.0,168.0 1534.3,177.1 1534.7,169.1 1535.0,169.3 1535.3,169.1 1535.7,170.9 1536.0,162.9 1536.3,170.2 1536.7,178.4 1537.0,182.4 1537.3,174.2 1537.7,176.8 1538.0,175.9 1538.3,170.0 1538.7,168.6 1539.0,173.9 1539.3,178.7 1539.7,173.0 1540.0,173.9 1540.3,172.4 1540.7,172.0 1541.0,170.5 1541.4,177.0 1541.7,176.0 1542.0,172.1 1542.4,173.8 1542.7,176.3 1543.0,177.2 1543.4,180.6 1543.7,179.8 1544.0,172.9 1544.4,173.9 1544.7,171.8 1545.0,177.4 1545.4,177.4 1545.7,166.5 1546.0,173.4 1546.4,178.7 1546.7,167.3 1547.0,179.1 1547.4,177.5 1547.7,171.0 1548.0,167.8 1548.4,179.9 1548.7,171.5 1549.0,166.4 1549.4,173.3 1549.7,167.5 1550.0,168.9 1550.4,180.0 1550.7,171.2 1551.0,172.3 1551.4,166.3 1551.7,169.4 1552.0,177.0 1552.4,174.5 1552.7,177.0 1553.0,176.7 1553.4,173.7 1553.7,171.1 1554.0,164.1 1554.4,178.8 1554.7,173.3 1555.0,182.9 1555.4,172.3 1555.7,172.4 1556.0,171.0 1556.4,168.0 1556.7,173.0 1557.0,174.2 1557.4,173.8 1557.7,171.7 1558.0,169.8 1558.4,177.5 1558.7,176.9 1559.0,170.4 1559.4,167.9 1559.7,170.4 1560.0,170.3 1560.4,177.2 1560.7,168.5 1561.0,174.6 1561.4,169.1 1561.7,172.8 1562.0,183.2 1562.4,169.8 1562.7,175.0 1563.0,171.5 1563.4,179.6 1563.7,174.8"/>
<polyline fill="none" stroke="#ff0000" stroke-width="2.8" stroke-linejoin="round" points="956.6,198.6 956.9,199.5 957.3,196.4 957.6,191.8 957.9,195.8 958.3,193.6 958.6,199.6 958.9,206.8 959.3,198.6 959.6,199.1 959.9,205.7 960.3,206.2 960.6,206.3 960.9,202.2 961.3,207.6 961.6,212.1 961.9,203.2 962.3,208.2 962.6,202.1 962.9,205.7 963.3,203.7 963.6,211.7 963.9,205.4 964.3,215.0 964.6,215.0 964.9,213.8 965.3,203.7 965.6,213.1 965.9,215.7 966.3,216.7 966.6,209.6 966.9,214.5 967.3,212.6 967.6,213.6 967.9,222.1 968.3,214.1 968.6,217.7 968.9,222.0 969.3,215.8 969.6,218.1 969.9,219.3 970.3,219.3 970.6,214.0 970.9,219.9 971.3,225.6 971.6,213.4 971.9,223.9 972.3,221.0 972.6,218.0 972.9,229.4 973.3,224.3 973.6,216.2 973.9,221.6 974.3,223.8 974.6,220.7 974.9,224.5 975.3,221.5 975.6,224.6 975.9,227.9 976.3,219.3 976.6,223.0 976.9,219.7 977.3,222.9 977.6,217.6 977.9,220.2 978.3,221.9 978.6,226.5 978.9,227.6 979.3,215.7 979.6,219.9 980.0,225.9 980.3,215.3 980.6,221.6 981.0,223.2 981.3,228.8 981.6,226.6 982.0,222.6 982.3,222.5 982.6,223.1 983.0,230.3 983.3,222.6 983.6,223.2 984.0,226.0 984.3,224.2 984.6,224.0 985.0,220.4 985.3,224.9 985.6,223.3 986.0,229.8 986.3,227.9 986.6,225.3 987.0,228.1 987.3,224.3 987.6,229.9 988.0,225.8 988.3,228.2 988.6,221.0 989.0,227.5 989.3,219.7 989.6,218.5 990.0,225.3 990.3,223.1 990.6,227.3 991.0,235.4 991.3,223.5 991.6,224.4 992.0,227.7 992.3,228.8 992.6,226.3 993.0,226.3 993.3,230.8 993.6,229.2 994.0,223.3 994.3,227.0 994.6,227.5 995.0,223.4 995.3,228.5 995.6,224.3 996.0,231.4 996.3,228.5 996.6,228.1 997.0,225.6 997.3,227.5 997.6,220.4 998.0,223.8 998.3,229.5 998.6,220.1 999.0,231.4 999.3,219.4 999.6,231.2 1000.0,225.3 1000.3,231.4 1000.6,229.1 1001.0,220.8 1001.3,233.4 1001.6,234.2 1002.0,228.6 1002.3,227.9 1002.6,228.4 1003.0,225.4 1003.3,233.2 1003.6,227.1 1004.0,229.0 1004.3,226.3 1004.6,227.0 1005.0,224.7 1005.3,234.1 1005.6,229.0 1006.0,233.2 1006.3,229.7 1006.6,227.2 1007.0,228.6 1007.3,227.8 1007.6,230.0 1008.0,228.6 1008.3,229.0 1008.6,225.1 1009.0,226.2 1009.3,236.3 1009.6,227.9 1010.0,226.5 1010.3,231.7 1010.6,235.7 1011.0,225.3 1011.3,229.9 1011.6,228.4 1012.0,224.4 1012.3,233.5 1012.6,230.8 1013.0,231.3 1013.3,228.3 1013.6,232.8 1014.0,229.3 1014.3,230.7 1014.6,227.3 1015.0,225.5 1015.3,236.3 1015.6,229.7 1016.0,232.6 1016.3,231.5 1016.6,230.2 1017.0,230.0 1017.3,234.1 1017.6,230.5 1018.0,231.5 1018.3,232.1 1018.6,236.3 1019.0,234.6 1019.3,233.6 1019.6,230.3 1020.0,227.5 1020.3,235.8 1020.6,237.1 1021.0,232.1 1021.3,234.6 1021.6,236.4 1022.0,236.7 1022.3,236.1 1022.6,231.3 1023.0,238.3 1023.3,228.7 1023.6,236.1 1024.0,234.9 1024.3,236.3 1024.6,239.9 1025.0,238.6 1025.3,229.5 1025.6,227.7 1026.0,236.4 1026.3,230.1 1026.7,233.6 1027.0,236.6 1027.3,228.0 1027.7,226.5 1028.0,234.7 1028.3,234.0 1028.7,233.0 1029.0,234.0 1029.3,230.9 1029.7,228.7 1030.0,233.4 1030.3,230.7 1030.7,228.4 1031.0,235.8 1031.3,233.9 1031.7,235.5 1032.0,230.8 1032.3,231.1 1032.7,230.8 1033.0,231.2 1033.3,235.0 1033.7,231.6 1034.0,235.6 1034.3,235.5 1034.7,241.3 1035.0,229.7 1035.3,237.5 1035.7,234.2 1036.0,234.5 1036.3,227.9 1036.7,233.0 1037.0,237.2 1037.3,234.3 1037.7,235.0 1038.0,233.7 1038.3,238.7 1038.7,234.7 1039.0,227.4 1039.3,232.5 1039.7,228.2 1040.0,226.2 1040.3,233.2 1040.7,239.5 1041.0,235.2 1041.3,231.1 1041.7,231.9 1042.0,238.9 1042.3,235.7 1042.7,235.3 1043.0,235.0 1043.3,235.4 1043.7,238.0 1044.0,237.2 1044.3,236.1 1044.7,231.9 1045.0,237.2 1045.3,233.3 1045.7,240.6 1046.0,231.4 1046.3,235.3 1046.7,235.8 1047.0,231.4 1047.3,241.7 1047.7,240.9 1048.0,234.5 1048.3,238.7 1048.7,237.4 1049.0,227.7 1049.3,237.1 1049.7,236.2 1050.0,236.7 1050.3,232.9 1050.7,235.7 1051.0,236.0 1051.3,240.6 1051.7,237.8 1052.0,236.8 1052.3,241.9 1052.7,235.1 1053.0,235.7 1053.3,231.1 1053.7,242.2 1054.0,240.3 1054.3,240.2 1054.7,239.5 1055.0,237.7 1055.3,238.1 1055.7,236.7 1056.0,236.9 1056.3,237.8 1056.7,242.6 1057.0,239.5 1057.3,237.6 1057.7,236.0 1058.0,235.9 1058.3,243.1 1058.7,239.7 1059.0,238.3 1059.3,237.1 1059.7,234.7 1060.0,238.1 1060.3,241.2 1060.7,237.2 1061.0,237.8 1061.3,237.8 1061.7,238.9 1062.0,233.5 1062.3,237.8 1062.7,235.9 1063.0,241.4 1063.3,236.2 1063.7,240.5 1064.0,243.5 1064.3,237.7 1064.7,236.8 1065.0,239.3 1065.3,238.8 1065.7,235.6 1066.0,240.3 1066.3,245.2 1066.7,238.0 1067.0,238.2 1067.3,235.6 1067.7,239.9 1068.0,235.0 1068.3,235.4 1068.7,243.0 1069.0,236.1 1069.3,242.4 1069.7,243.8 1070.0,239.9 1070.3,240.8 1070.7,245.2 1071.0,238.5 1071.3,237.3 1071.7,234.9 1072.0,239.3 1072.3,243.8 1072.7,242.2 1073.0,235.2 1073.3,236.6 1073.7,237.7 1074.0,240.5 1074.4,238.7 1074.7,240.0 1075.0,240.3 1075.4,238.4 1075.7,239.3 1076.0,240.0 1076.4,239.2 1076.7,241.0 1077.0,245.3 1077.4,241.3 1077.7,239.7 1078.0,234.3 1078.4,241.2 1078.7,233.5 1079.0,235.2 1079.4,242.3 1079.7,241.8 1080.0,239.2 1080.4,234.3 1080.7,238.5 1081.0,237.6 1081.4,241.7 1081.7,246.8 1082.0,240.7 1082.4,237.4 1082.7,236.2 1083.0,239.6 1083.4,239.3 1083.7,236.3 1084.0,240.2 1084.4,236.3 1084.7,243.4 1085.0,243.2 1085.4,243.3 1085.7,238.5 1086.0,241.6 1086.4,239.6 1086.7,238.8 1087.0,238.9 1087.4,236.0 1087.7,235.5 1088.0,242.5 1088.4,239.4 1088.7,240.7 1089.0,243.1 1089.4,234.6 1089.7,237.6 1090.0,240.5 1090.4,241.2 1090.7,238.8 1091.0,243.2 1091.4,240.9 1091.7,236.2 1092.0,237.1 1092.4,242.5 1092.7,241.4 1093.0,234.1 1093.4,244.2 1093.7,241.9 1094.0,244.2 1094.4,238.8 1094.7,238.8 1095.0,236.5 1095.4,247.9 1095.7,239.5 1096.0,244.9 1096.4,237.3 1096.7,240.5 1097.0,234.8 1097.4,238.8 1097.7,243.0 1098.0,234.8 1098.4,243.3 1098.7,241.0 1099.0,236.8 1099.4,238.4 1099.7,238.6 1100.0,239.8 1100.4,238.3 1100.7,237.4 1101.0,239.1 1101.4,236.8 1101.7,236.0 1102.0,239.9 1102.4,242.7 1102.7,235.3 1103.0,240.0 1103.4,238.0 1103.7,237.0 1104.0,242.6 1104.4,238.4 1104.7,246.3 1105.0,237.6 1105.4,241.2 1105.7,239.3 1106.0,237.7 1106.4,242.5 1106.7,239.5 1107.0,241.9 1107.4,239.9 1107.7,236.6 1108.0,239.7 1108.4,240.2 1108.7,243.0 1109.0,237.2 1109.4,239.9 1109.7,234.7 1110.0,242.0 1110.4,236.7 1110.7,234.4 1111.0,239.8 1111.4,243.4 1111.7,235.3 1112.0,235.5 1112.4,237.7 1112.7,236.5 1113.0,241.2 1113.4,237.5 1113.7,237.8 1114.0,241.8 1114.4,237.7 1114.7,241.4 1115.0,237.1 1115.4,236.3 1115.7,234.4 1116.0,245.8 1116.4,239.1 1116.7,240.8 1117.0,240.0 1117.4,240.6 1117.7,240.3 1118.0,248.1 1118.4,236.9 1118.7,235.3 1119.0,237.0 1119.4,236.0 1119.7,242.5 1120.0,242.7 1120.4,237.2 1120.7,235.9 1121.1,239.1 1121.4,244.5 1121.7,229.5 1122.1,241.8 1122.4,236.9 1122.7,243.4 1123.1,236.9 1123.4,239.3 1123.7,234.0 1124.1,237.2 1124.4,244.5 1124.7,242.8 1125.1,239.0 1125.4,237.6 1125.7,234.4 1126.1,239.1 1126.4,240.2 1126.7,240.0 1127.1,240.0 1127.4,236.8 1127.7,240.0 1128.1,240.2 1128.4,244.3 1128.7,246.1 1129.1,239.9 1129.4,238.0 1129.7,240.1 1130.1,238.5 1130.4,238.1 1130.7,240.2 1131.1,237.2 1131.4,242.2 1131.7,240.1 1132.1,241.2 1132.4,239.8 1132.7,238.2 1133.1,237.5 1133.4,239.7 1133.7,238.7 1134.1,241.1 1134.4,240.4 1134.7,236.3 1135.1,240.6 1135.4,236.3 1135.7,238.6 1136.1,239.6 1136.4,231.9 1136.7,240.8 1137.1,240.9 1137.4,240.0 1137.7,239.2 1138.1,239.3 1138.4,237.4 1138.7,239.4 1139.1,238.4 1139.4,240.3 1139.7,236.2 1140.1,240.5 1140.4,240.1 1140.7,239.1 1141.1,238.1 1141.4,241.0 1141.7,234.0 1142.1,240.5 1142.4,239.7 1142.7,239.7 1143.1,239.9 1143.4,236.5 1143.7,237.7 1144.1,240.4 1144.4,239.6 1144.7,238.8 1145.1,233.2 1145.4,239.6 1145.7,241.6 1146.1,240.9 1146.4,238.3 1146.7,232.4 1147.1,240.4 1147.4,236.7 1147.7,228.8 1148.1,238.2 1148.4,232.0 1148.7,232.5 1149.1,234.6 1149.4,240.8 1149.7,235.3 1150.1,237.3 1150.4,242.1 1150.7,241.5 1151.1,235.8 1151.4,235.2 1151.7,231.7 1152.1,233.5 1152.4,237.2 1152.7,237.0 1153.1,235.9 1153.4,238.8 1153.7,232.8 1154.1,235.1 1154.4,237.6 1154.7,237.0 1155.1,238.5 1155.4,235.9 1155.7,233.0 1156.1,235.0 1156.4,229.8 1156.7,227.2 1157.1,234.8 1157.4,232.4 1157.7,233.9 1158.1,227.1 1158.4,232.8 1158.7,233.3 1159.1,233.8 1159.4,230.0 1159.7,237.8 1160.1,243.5 1160.4,239.6 1160.7,234.4 1161.1,234.7 1161.4,236.7 1161.7,221.6 1162.1,229.6 1162.4,231.3 1162.7,231.4 1163.1,234.9 1163.4,232.7 1163.7,229.5 1164.1,229.3 1164.4,231.1 1164.7,226.0 1165.1,227.8 1165.4,231.4 1165.7,235.3 1166.1,227.2 1166.4,227.5 1166.8,228.4 1167.1,232.7 1167.4,227.4 1167.8,233.1 1168.1,223.7 1168.4,226.6 1168.8,226.5 1169.1,230.2 1169.4,232.5 1169.8,221.2 1170.1,223.5 1170.4,228.2 1170.8,224.3 1171.1,220.9 1171.4,230.7 1171.8,228.6 1172.1,228.5 1172.4,224.7 1172.8,230.4 1173.1,225.5 1173.4,230.6 1173.8,221.5 1174.1,222.9 1174.4,226.9 1174.8,223.3 1175.1,228.6 1175.4,226.8 1175.8,222.0 1176.1,225.7 1176.4,223.9 1176.8,228.7 1177.1,222.4 1177.4,223.0 1177.8,229.4 1178.1,233.4 1178.4,232.3 1178.8,224.4 1179.1,224.8 1179.4,230.0 1179.8,223.1 1180.1,218.1 1180.4,223.8 1180.8,225.0 1181.1,219.6 1181.4,216.1 1181.8,216.7 1182.1,226.1 1182.4,219.2 1182.8,221.5 1183.1,222.8 1183.4,224.4 1183.8,220.2 1184.1,223.5 1184.4,217.6 1184.8,219.6 1185.1,216.7 1185.4,225.5 1185.8,220.5 1186.1,217.3 1186.4,218.8 1186.8,219.2 1187.1,224.0 1187.4,213.0 1187.8,215.2 1188.1,217.8 1188.4,230.2 1188.8,223.2 1189.1,218.4 1189.4,221.7 1189.8,227.2 1190.1,216.9 1190.4,216.0 1190.8,222.6 1191.1,219.1 1191.4,219.6 1191.8,214.0 1192.1,224.5 1192.4,223.3 1192.8,217.8 1193.1,218.0 1193.4,205.3 1193.8,217.2 1194.1,213.0 1194.4,215.6 1194.8,216.4 1195.1,211.3 1195.4,204.6 1195.8,214.0 1196.1,208.4 1196.4,210.0 1196.8,208.4 1197.1,209.3 1197.4,199.5 1197.8,216.1 1198.1,211.1 1198.4,215.0 1198.8,218.9 1199.1,209.0 1199.4,199.7 1199.8,203.8 1200.1,201.9 1200.4,205.1 1200.8,207.6 1201.1,196.9 1201.4,208.3 1201.8,198.6 1202.1,207.4 1202.4,205.0 1202.8,203.6 1203.1,204.6 1203.4,202.1 1203.8,201.6 1204.1,192.9 1204.4,204.3 1204.8,213.8 1205.1,214.4 1205.4,210.9 1205.8,207.6 1206.1,200.3 1206.4,211.2 1206.8,203.2 1207.1,202.9 1207.4,201.8 1207.8,203.6 1208.1,200.7 1208.4,202.4 1208.8,197.1 1209.1,200.0 1209.4,214.5 1209.8,202.0 1210.1,201.0 1210.4,204.9 1210.8,205.7 1211.1,195.9 1211.4,200.6 1211.8,206.5 1212.1,202.9 1212.4,202.0 1212.8,209.5 1213.1,197.4 1213.5,201.5 1213.8,197.0 1214.1,208.7 1214.5,190.1 1214.8,196.8 1215.1,197.4 1215.5,203.7 1215.8,203.3 1216.1,210.1 1216.5,191.2 1216.8,203.7 1217.1,197.9 1217.5,195.8 1217.8,202.2 1218.1,194.1 1218.5,183.7 1218.8,196.8 1219.1,190.5 1219.5,195.0 1219.8,200.5 1220.1,200.1 1220.5,207.0 1220.8,196.6 1221.1,189.4 1221.5,193.5 1221.8,190.5 1222.1,190.4 1222.5,199.4 1222.8,193.1 1223.1,185.4 1223.5,200.2 1223.8,195.4 1224.1,197.8 1224.5,196.2 1224.8,198.9 1225.1,195.4 1225.5,201.9 1225.8,197.0 1226.1,196.6 1226.5,196.5 1226.8,185.5 1227.1,192.7 1227.5,191.9 1227.8,194.4 1228.1,185.1 1228.5,205.6 1228.8,193.1 1229.1,185.2 1229.5,182.0 1229.8,190.1 1230.1,191.0 1230.5,187.1 1230.8,191.6 1231.1,187.0 1231.5,193.9 1231.8,186.1 1232.1,189.9 1232.5,195.8 1232.8,205.1 1233.1,183.4 1233.5,186.4 1233.8,183.9 1234.1,193.5 1234.5,179.1 1234.8,185.3 1235.1,187.8 1235.5,181.8 1235.8,181.7 1236.1,184.4 1236.5,169.6 1236.8,177.9 1237.1,184.1 1237.5,187.3 1237.8,185.0 1238.1,174.9 1238.5,183.0 1238.8,190.7 1239.1,189.1 1239.5,185.0 1239.8,179.9 1240.1,189.2 1240.5,181.6 1240.8,177.7 1241.1,179.9 1241.5,193.9 1241.8,186.1 1242.1,191.9 1242.5,181.5 1242.8,190.3 1243.1,180.5 1243.5,183.2 1243.8,199.8 1244.1,188.8 1244.5,180.7 1244.8,183.2 1245.1,185.7 1245.5,191.2 1245.8,180.3 1246.1,172.2 1246.5,181.4 1246.8,183.2 1247.1,183.7 1247.5,191.3 1247.8,185.5 1248.1,187.8 1248.5,175.4 1248.8,188.0 1249.1,195.8 1249.5,187.1 1249.8,183.7 1250.1,182.9 1250.5,193.4 1250.8,175.7 1251.1,180.9 1251.5,184.5 1251.8,186.2 1252.1,178.4 1252.5,183.2 1252.8,179.3 1253.1,181.7 1253.5,180.0 1253.8,170.7 1254.1,180.4 1254.5,186.2 1254.8,171.9 1255.1,178.7 1255.5,184.5 1255.8,173.0 1256.1,181.2 1256.5,172.9 1256.8,189.9 1257.1,194.9 1257.5,193.0 1257.8,178.1 1258.1,184.4 1258.5,180.2 1258.8,180.0 1259.1,189.5 1259.5,170.5 1259.8,186.1 1260.2,178.7 1260.5,188.3 1260.8,180.1 1261.2,174.3 1261.5,180.5 1261.8,183.5 1262.2,178.8 1262.5,181.7 1262.8,174.9 1263.2,164.1 1263.5,184.2 1263.8,182.8 1264.2,179.1 1264.5,178.5 1264.8,184.8 1265.2,174.8 1265.5,173.0 1265.8,176.4 1266.2,185.6 1266.5,168.2 1266.8,185.5 1267.2,173.1 1267.5,167.3 1267.8,188.7 1268.2,176.5 1268.5,168.3 1268.8,174.6 1269.2,183.2 1269.5,187.7 1269.8,173.9 1270.2,179.4 1270.5,181.4 1270.8,172.2 1271.2,178.8 1271.5,176.1 1271.8,172.6 1272.2,171.7 1272.5,176.6 1272.8,176.2 1273.2,172.2 1273.5,173.1 1273.8,183.6 1274.2,177.5 1274.5,182.1 1274.8,184.3 1275.2,180.1 1275.5,191.6 1275.8,170.6 1276.2,181.7 1276.5,174.0 1276.8,188.8 1277.2,187.8 1277.5,163.0 1277.8,169.7 1278.2,180.8 1278.5,181.7 1278.8,181.3 1279.2,175.9 1279.5,179.5 1279.8,180.8 1280.2,175.9 1280.5,183.4 1280.8,161.2 1281.2,180.8 1281.5,169.5 1281.8,183.0 1282.2,175.0 1282.5,170.5 1282.8,179.1 1283.2,170.4 1283.5,170.4 1283.8,166.0 1284.2,176.5 1284.5,180.0 1284.8,183.6 1285.2,175.8 1285.5,183.8 1285.8,176.9 1286.2,176.1 1286.5,180.7 1286.8,184.0 1287.2,174.5 1287.5,175.2 1287.8,175.8 1288.2,177.5 1288.5,170.8 1288.8,183.9 1289.2,174.3 1289.5,181.2 1289.8,171.4 1290.2,179.4 1290.5,180.6 1290.8,174.3 1291.2,190.8 1291.5,179.7 1291.8,189.2 1292.2,183.8 1292.5,173.0 1292.8,174.9 1293.2,181.5 1293.5,178.0 1293.8,178.0 1294.2,175.8 1294.5,165.6 1294.8,176.3 1295.2,163.0 1295.5,180.4 1295.8,173.1 1296.2,173.3 1296.5,176.1 1296.8,180.0 1297.2,168.6 1297.5,166.6 1297.8,168.7 1298.2,164.8 1298.5,172.0 1298.8,189.1 1299.2,171.5 1299.5,184.4 1299.8,169.5 1300.2,180.7 1300.5,176.6 1300.8,178.4 1301.2,182.6 1301.5,190.6 1301.8,180.7 1302.2,179.9 1302.5,172.6 1302.8,183.0 1303.2,177.6 1303.5,184.7 1303.8,178.9 1304.2,190.9 1304.5,166.3 1304.8,177.5 1305.2,185.3 1305.5,177.3 1305.8,174.4 1306.2,177.9 1306.5,170.7 1306.8,180.6 1307.2,195.9 1307.5,187.4 1307.9,172.7 1308.2,174.3 1308.5,177.5 1308.9,186.8 1309.2,173.0 1309.5,175.8 1309.9,186.2 1310.2,186.1 1310.5,178.1 1310.9,173.3 1311.2,170.6 1311.5,176.2 1311.9,166.3 1312.2,185.8 1312.5,176.9 1312.9,184.2 1313.2,193.3 1313.5,188.8 1313.9,173.8 1314.2,187.0 1314.5,191.6 1314.9,176.7 1315.2,175.4 1315.5,181.0 1315.9,171.4 1316.2,191.3 1316.5,160.9 1316.9,174.8 1317.2,180.3 1317.5,180.7 1317.9,183.3 1318.2,184.0 1318.5,180.5 1318.9,192.3 1319.2,168.8 1319.5,182.6 1319.9,178.1 1320.2,183.6 1320.5,184.7 1320.9,177.0 1321.2,178.8 1321.5,188.1 1321.9,185.3 1322.2,178.8 1322.5,196.2 1322.9,198.0 1323.2,174.1 1323.5,185.4 1323.9,199.5 1324.2,188.6 1324.5,185.1 1324.9,182.4 1325.2,180.4 1325.5,182.5 1325.9,180.5 1326.2,190.4 1326.5,181.6 1326.9,181.4 1327.2,176.6 1327.5,183.8 1327.9,178.7 1328.2,183.2 1328.5,193.3 1328.9,186.8 1329.2,187.7 1329.5,186.8 1329.9,185.0 1330.2,183.9 1330.5,182.8 1330.9,189.6 1331.2,178.1 1331.5,193.3 1331.9,185.2 1332.2,180.3 1332.5,180.9 1332.9,180.9 1333.2,186.2 1333.5,180.8 1333.9,192.5 1334.2,180.5 1334.5,171.2 1334.9,180.9 1335.2,173.0 1335.5,185.3 1335.9,192.3 1336.2,191.2 1336.5,177.4 1336.9,181.1 1337.2,196.9 1337.5,187.9 1337.9,186.0 1338.2,192.6 1338.5,201.3 1338.9,194.2 1339.2,187.1 1339.5,188.5 1339.9,190.1 1340.2,182.6 1340.5,179.9 1340.9,186.8 1341.2,180.7 1341.5,186.2 1341.9,187.4 1342.2,201.2 1342.5,181.5 1342.9,186.1 1343.2,185.9 1343.5,189.6 1343.9,193.4 1344.2,184.1 1344.5,182.2 1344.9,177.4 1345.2,181.9 1345.5,191.1 1345.9,188.2 1346.2,181.9 1346.5,186.0 1346.9,188.6 1347.2,191.7 1347.5,185.2 1347.9,187.4 1348.2,178.1 1348.5,182.3 1348.9,199.2 1349.2,176.5 1349.5,187.7 1349.9,191.3 1350.2,187.9 1350.5,185.4 1350.9,190.1 1351.2,190.6 1351.5,190.3 1351.9,179.8 1352.2,190.4 1352.5,186.8 1352.9,187.9 1353.2,194.1 1353.5,197.0 1353.9,198.9 1354.2,191.4 1354.6,200.0 1354.9,201.8 1355.2,202.1 1355.6,204.0 1355.9,195.8 1356.2,195.8 1356.6,202.2 1356.9,190.5 1357.2,199.7 1357.6,196.1 1357.9,197.5 1358.2,190.6 1358.6,195.7 1358.9,200.8 1359.2,206.2 1359.6,207.2 1359.9,202.0 1360.2,201.9 1360.6,199.0 1360.9,205.9 1361.2,202.9 1361.6,207.5 1361.9,213.6 1362.2,204.6 1362.6,197.3 1362.9,200.8 1363.2,197.9 1363.6,199.5 1363.9,212.4 1364.2,207.1 1364.6,198.5 1364.9,209.7 1365.2,212.9 1365.6,205.0 1365.9,203.6 1366.2,205.5 1366.6,208.8 1366.9,210.8 1367.2,213.7 1367.6,214.0 1367.9,214.1 1368.2,215.1 1368.6,211.9 1368.9,201.3 1369.2,208.4 1369.6,210.8 1369.9,207.6 1370.2,215.6 1370.6,208.1 1370.9,205.6 1371.2,219.6 1371.6,214.8 1371.9,211.7 1372.2,215.3 1372.6,216.1 1372.9,212.9 1373.2,199.8 1373.6,208.5 1373.9,209.7 1374.2,207.5 1374.6,213.2 1374.9,218.1 1375.2,209.6 1375.6,207.6 1375.9,222.5 1376.2,211.2 1376.6,207.8 1376.9,214.8 1377.2,215.9 1377.6,210.9 1377.9,217.9 1378.2,211.5 1378.6,210.5 1378.9,215.8 1379.2,218.6 1379.6,212.4 1379.9,216.9 1380.2,215.2 1380.6,227.3 1380.9,211.7 1381.2,222.3 1381.6,216.1 1381.9,215.9 1382.2,219.8 1382.6,220.8 1382.9,222.6 1383.2,218.6 1383.6,213.7 1383.9,214.3 1384.2,219.9 1384.6,221.2 1384.9,224.1 1385.2,219.9 1385.6,222.9 1385.9,225.0 1386.2,219.3 1386.6,212.4 1386.9,213.9 1387.2,212.9 1387.6,226.1 1387.9,215.8 1388.2,224.9 1388.6,222.3 1388.9,227.3 1389.2,224.4 1389.6,219.9 1389.9,219.6 1390.2,221.0 1390.6,221.5 1390.9,218.7 1391.2,221.0 1391.6,228.0 1391.9,214.4 1392.2,222.7 1392.6,218.0 1392.9,222.7 1393.2,225.8 1393.6,222.6 1393.9,226.4 1394.2,217.4 1394.6,228.7 1394.9,222.3 1395.2,227.7 1395.6,226.4 1395.9,216.1 1396.2,223.7 1396.6,228.0 1396.9,233.5 1397.2,229.2 1397.6,229.5 1397.9,223.7 1398.2,234.8 1398.6,238.9 1398.9,230.6 1399.2,230.1 1399.6,225.6 1399.9,235.0 1400.2,241.5 1400.6,235.4 1400.9,237.8 1401.3,235.7 1401.6,231.0 1401.9,239.4 1402.3,231.2 1402.6,235.2 1402.9,237.3 1403.3,239.8 1403.6,238.7 1403.9,239.1 1404.3,235.9 1404.6,234.8 1404.9,239.6 1405.3,237.7 1405.6,236.4 1405.9,237.0 1406.3,239.9 1406.6,236.3 1406.9,238.4 1407.3,238.1 1407.6,243.9 1407.9,245.1 1408.3,249.8 1408.6,240.0 1408.9,242.4 1409.3,247.1 1409.6,243.8 1409.9,243.8 1410.3,249.7 1410.6,244.0 1410.9,241.9 1411.3,241.6 1411.6,246.6 1411.9,246.4 1412.3,241.8 1412.6,243.0 1412.9,247.4 1413.3,247.6 1413.6,244.4 1413.9,248.0 1414.3,248.0 1414.6,240.0 1414.9,245.8 1415.3,247.9 1415.6,245.4 1415.9,241.3 1416.3,246.4 1416.6,249.3 1416.9,251.7 1417.3,241.7 1417.6,254.5 1417.9,244.8 1418.3,250.5 1418.6,252.5 1418.9,250.8 1419.3,248.7 1419.6,245.4 1419.9,250.2 1420.3,246.9 1420.6,242.3 1420.9,255.6 1421.3,250.8 1421.6,253.7 1421.9,246.7 1422.3,252.8 1422.6,254.5 1422.9,254.4 1423.3,249.0 1423.6,245.9 1423.9,248.6 1424.3,243.3 1424.6,244.6 1424.9,249.3 1425.3,246.5 1425.6,248.6 1425.9,248.8 1426.3,254.0 1426.6,252.4 1426.9,248.9 1427.3,252.2 1427.6,247.0 1427.9,248.2 1428.3,251.4 1428.6,245.9 1428.9,248.3 1429.3,245.7 1429.6,249.5 1429.9,254.7 1430.3,247.1 1430.6,249.6 1430.9,246.8 1431.3,246.1 1431.6,245.9 1431.9,252.8 1432.3,255.2 1432.6,250.3 1432.9,247.2 1433.3,250.9 1433.6,248.2 1433.9,251.2 1434.3,249.8 1434.6,250.1 1434.9,250.7 1435.3,247.6 1435.6,248.1 1435.9,244.7 1436.3,248.0 1436.6,245.5 1436.9,248.7 1437.3,246.7 1437.6,249.4 1437.9,250.3 1438.3,245.5 1438.6,247.0 1438.9,246.7 1439.3,251.0 1439.6,253.5 1439.9,251.3 1440.3,248.2 1440.6,252.9 1440.9,245.2 1441.3,253.0 1441.6,247.5 1441.9,242.5 1442.3,255.8 1442.6,253.2 1442.9,246.5 1443.3,249.6 1443.6,248.6 1443.9,249.4 1444.3,245.4 1444.6,247.4 1444.9,250.4 1445.3,249.7 1445.6,252.3 1445.9,249.4 1446.3,255.2 1446.6,247.3 1447.0,249.8 1447.3,244.3 1447.6,246.0 1448.0,252.6 1448.3,246.8 1448.6,250.6 1449.0,249.0 1449.3,246.5 1449.6,248.3 1450.0,247.9 1450.3,248.0 1450.6,251.1 1451.0,250.9 1451.3,247.7 1451.6,246.9 1452.0,249.9 1452.3,249.0 1452.6,251.9 1453.0,255.8 1453.3,251.4 1453.6,249.1 1454.0,248.8 1454.3,247.0 1454.6,246.9 1455.0,246.7 1455.3,247.9 1455.6,248.1 1456.0,251.2 1456.3,248.2 1456.6,248.7 1457.0,246.1 1457.3,253.5 1457.6,250.6 1458.0,253.8 1458.3,251.3 1458.6,253.1 1459.0,248.6 1459.3,251.1 1459.6,255.9 1460.0,246.1 1460.3,252.3 1460.6,253.6 1461.0,250.4 1461.3,251.2 1461.6,252.6 1462.0,247.6 1462.3,250.4 1462.6,247.0 1463.0,247.5 1463.3,247.7 1463.6,248.9 1464.0,249.7 1464.3,250.5 1464.6,245.6 1465.0,254.5 1465.3,252.3 1465.6,251.2 1466.0,248.4 1466.3,249.1 1466.6,250.8 1467.0,250.4 1467.3,243.4 1467.6,251.9 1468.0,255.9 1468.3,244.5 1468.6,251.9 1469.0,250.3 1469.3,249.0 1469.6,252.9 1470.0,246.2 1470.3,249.9 1470.6,253.2 1471.0,248.8 1471.3,248.3 1471.6,249.7 1472.0,248.2 1472.3,253.4 1472.6,247.0 1473.0,251.7 1473.3,246.1 1473.6,251.1 1474.0,249.1 1474.3,242.8 1474.6,249.4 1475.0,246.6 1475.3,248.2 1475.6,253.4 1476.0,246.4 1476.3,246.6 1476.6,253.2 1477.0,249.7 1477.3,254.9 1477.6,250.2 1478.0,247.1 1478.3,249.2 1478.6,252.6 1479.0,251.9 1479.3,249.4 1479.6,249.5 1480.0,249.1 1480.3,247.9 1480.6,254.5 1481.0,249.4 1481.3,246.5 1481.6,248.2 1482.0,251.3 1482.3,251.1 1482.6,249.1 1483.0,247.7 1483.3,249.5 1483.6,245.0 1484.0,246.0 1484.3,251.5 1484.6,248.2 1485.0,250.4 1485.3,252.6 1485.6,251.2 1486.0,249.5 1486.3,255.0 1486.6,251.8 1487.0,248.5 1487.3,251.4 1487.6,250.5 1488.0,247.2 1488.3,249.7 1488.6,249.0 1489.0,244.3 1489.3,249.0 1489.6,248.7 1490.0,248.3 1490.3,245.2 1490.6,248.6 1491.0,249.4 1491.3,249.8 1491.6,246.5 1492.0,251.2 1492.3,246.3 1492.6,248.9 1493.0,254.1 1493.3,247.1 1493.7,248.2 1494.0,252.3 1494.3,248.5 1494.7,248.7 1495.0,250.1 1495.3,252.3 1495.7,243.8 1496.0,247.4 1496.3,246.9 1496.7,246.7 1497.0,247.3 1497.3,247.3 1497.7,250.3 1498.0,247.2 1498.3,249.9 1498.7,250.6 1499.0,247.6 1499.3,249.9 1499.7,253.8 1500.0,250.4 1500.3,247.9 1500.7,249.4 1501.0,247.2 1501.3,250.3 1501.7,251.8 1502.0,247.4 1502.3,249.0 1502.7,252.5 1503.0,248.3 1503.3,250.1 1503.7,246.0 1504.0,247.5 1504.3,248.3 1504.7,255.1 1505.0,248.5 1505.3,248.2 1505.7,248.2 1506.0,249.2 1506.3,251.3 1506.7,250.1 1507.0,254.8 1507.3,250.1 1507.7,253.3 1508.0,250.3 1508.3,251.2 1508.7,245.9 1509.0,249.3 1509.3,249.4 1509.7,249.0 1510.0,244.2 1510.3,251.9 1510.7,248.6 1511.0,248.5 1511.3,249.0 1511.7,249.1 1512.0,250.7 1512.3,246.4 1512.7,247.3 1513.0,250.4 1513.3,250.0 1513.7,248.7 1514.0,248.2 1514.3,247.5 1514.7,249.5 1515.0,252.7 1515.3,247.0 1515.7,253.5 1516.0,252.6 1516.3,248.5 1516.7,251.7 1517.0,245.9 1517.3,243.7 1517.7,246.4 1518.0,248.6 1518.3,248.9 1518.7,248.4 1519.0,249.9 1519.3,244.3 1519.7,250.9 1520.0,246.1 1520.3,248.0 1520.7,248.6 1521.0,246.8 1521.3,246.2 1521.7,247.2 1522.0,249.7 1522.3,251.2 1522.7,251.1 1523.0,247.2 1523.3,247.7 1523.7,247.4 1524.0,250.9 1524.3,244.6 1524.7,252.9 1525.0,248.5 1525.3,247.7 1525.7,250.6 1526.0,252.4 1526.3,250.6 1526.7,252.4 1527.0,250.2 1527.3,252.9 1527.7,252.9 1528.0,249.5 1528.3,253.4 1528.7,250.2 1529.0,250.0 1529.3,247.4 1529.7,249.0 1530.0,251.7 1530.3,246.4 1530.7,251.4 1531.0,250.7 1531.3,250.5 1531.7,242.2 1532.0,249.5 1532.3,251.4 1532.7,247.8 1533.0,250.0 1533.3,243.8 1533.7,251.5 1534.0,248.1 1534.3,252.0 1534.7,245.1 1535.0,251.5 1535.3,249.2 1535.7,252.6 1536.0,247.5 1536.3,248.2 1536.7,255.5 1537.0,247.7 1537.3,248.0 1537.7,249.1 1538.0,247.2 1538.3,252.8 1538.7,254.2 1539.0,248.0 1539.3,245.5 1539.7,252.8 1540.0,252.6 1540.3,251.9 1540.7,252.8 1541.0,247.6 1541.4,249.4 1541.7,246.3 1542.0,246.3 1542.4,252.3 1542.7,248.2 1543.0,255.6 1543.4,250.0 1543.7,248.2 1544.0,251.9 1544.4,254.4 1544.7,251.1 1545.0,246.8 1545.4,250.8 1545.7,253.3 1546.0,248.6 1546.4,247.9 1546.7,252.4 1547.0,250.2 1547.4,247.1 1547.7,248.9 1548.0,248.0 1548.4,250.6 1548.7,250.2 1549.0,252.8 1549.4,251.7 1549.7,246.0 1550.0,250.9 1550.4,252.2 1550.7,251.1 1551.0,252.5 1551.4,248.5 1551.7,247.5 1552.0,252.3 1552.4,246.3 1552.7,244.5 1553.0,252.5 1553.4,248.1 1553.7,249.2 1554.0,246.4 1554.4,246.6 1554.7,247.0 1555.0,249.0 1555.4,250.9 1555.7,244.1 1556.0,251.8 1556.4,247.0 1556.7,247.3 1557.0,251.7 1557.4,249.8 1557.7,246.1 1558.0,254.6 1558.4,247.0 1558.7,250.6 1559.0,250.5 1559.4,253.5 1559.7,248.8 1560.0,252.5 1560.4,248.1 1560.7,252.8 1561.0,248.1 1561.4,249.1 1561.7,254.8 1562.0,250.8 1562.4,250.3 1562.7,255.6 1563.0,250.9 1563.4,247.9 1563.7,251.8"/>
<polyline fill="none" stroke="#0000ff" stroke-width="2.8" stroke-linejoin="round" points="956.6,332.2 956.9,320.9 957.3,339.7 957.6,326.4 957.9,318.9 958.3,331.0 958.6,339.6 958.9,328.8 959.3,340.3 959.6,340.5 959.9,327.2 960.3,318.5 960.6,325.4 960.9,338.8 961.3,326.4 961.6,324.2 961.9,325.3 962.3,332.8 962.6,332.7 962.9,337.8 963.3,338.5 963.6,328.1 963.9,332.5 964.3,325.0 964.6,333.9 964.9,327.4 965.3,327.2 965.6,345.5 965.9,334.2 966.3,337.6 966.6,348.1 966.9,340.1 967.3,333.8 967.6,334.8 967.9,330.6 968.3,340.7 968.6,333.1 968.9,344.6 969.3,333.2 969.6,333.3 969.9,333.0 970.3,338.8 970.6,336.6 970.9,343.1 971.3,332.8 971.6,337.4 971.9,346.5 972.3,334.8 972.6,339.1 972.9,347.8 973.3,339.4 973.6,333.1 973.9,325.5 974.3,349.7 974.6,339.2 974.9,343.8 975.3,333.6 975.6,347.0 975.9,340.1 976.3,337.6 976.6,332.6 976.9,339.5 977.3,335.0 977.6,336.6 977.9,329.1 978.3,335.3 978.6,338.9 978.9,331.4 979.3,338.6 979.6,341.9 980.0,336.8 980.3,335.2 980.6,335.3 981.0,343.7 981.3,330.6 981.6,337.3 982.0,336.7 982.3,339.9 982.6,338.8 983.0,333.4 983.3,350.2 983.6,340.4 984.0,332.4 984.3,334.9 984.6,340.3 985.0,343.1 985.3,332.8 985.6,343.8 986.0,330.3 986.3,336.0 986.6,344.9 987.0,349.4 987.3,340.1 987.6,339.0 988.0,347.4 988.3,335.1 988.6,342.4 989.0,342.2 989.3,346.4 989.6,342.8 990.0,339.9 990.3,344.6 990.6,335.5 991.0,345.9 991.3,338.1 991.6,336.9 992.0,339.9 992.3,342.2 992.6,345.8 993.0,340.6 993.3,346.1 993.6,347.5 994.0,341.9 994.3,337.4 994.6,347.4 995.0,344.7 995.3,331.7 995.6,335.9 996.0,343.7 996.3,335.9 996.6,339.6 997.0,334.3 997.3,345.5 997.6,345.2 998.0,344.5 998.3,351.3 998.6,342.0 999.0,342.4 999.3,354.6 999.6,337.4 1000.0,348.1 1000.3,337.5 1000.6,345.7 1001.0,355.6 1001.3,346.1 1001.6,340.8 1002.0,357.3 1002.3,342.2 1002.6,344.1 1003.0,346.8 1003.3,338.4 1003.6,351.2 1004.0,353.9 1004.3,349.6 1004.6,347.5 1005.0,345.1 1005.3,350.6 1005.6,332.8 1006.0,345.5 1006.3,347.6 1006.6,336.2 1007.0,348.7 1007.3,346.0 1007.6,346.5 1008.0,347.4 1008.3,349.9 1008.6,349.4 1009.0,341.8 1009.3,346.7 1009.6,346.4 1010.0,347.7 1010.3,344.5 1010.6,352.7 1011.0,354.5 1011.3,355.7 1011.6,357.8 1012.0,355.8 1012.3,345.0 1012.6,345.2 1013.0,346.4 1013.3,351.4 1013.6,348.0 1014.0,353.8 1014.3,357.3 1014.6,346.8 1015.0,354.1 1015.3,346.5 1015.6,342.8 1016.0,342.9 1016.3,347.9 1016.6,339.9 1017.0,352.2 1017.3,357.5 1017.6,344.0 1018.0,348.3 1018.3,357.9 1018.6,351.9 1019.0,351.3 1019.3,348.6 1019.6,355.6 1020.0,352.2 1020.3,345.2 1020.6,338.5 1021.0,337.9 1021.3,354.3 1021.6,349.7 1022.0,358.5 1022.3,353.8 1022.6,344.9 1023.0,352.9 1023.3,357.6 1023.6,347.1 1024.0,349.2 1024.3,360.6 1024.6,343.2 1025.0,346.6 1025.3,357.4 1025.6,353.2 1026.0,344.6 1026.3,345.1 1026.7,354.9 1027.0,358.7 1027.3,356.9 1027.7,354.9 1028.0,360.4 1028.3,355.1 1028.7,349.0 1029.0,363.4 1029.3,347.2 1029.7,352.8 1030.0,353.2 1030.3,360.8 1030.7,349.9 1031.0,352.4 1031.3,345.1 1031.7,355.7 1032.0,356.3 1032.3,357.5 1032.7,349.7 1033.0,355.6 1033.3,350.1 1033.7,352.2 1034.0,354.3 1034.3,361.2 1034.7,352.7 1035.0,355.9 1035.3,350.9 1035.7,352.4 1036.0,351.8 1036.3,354.6 1036.7,359.3 1037.0,350.1 1037.3,359.3 1037.7,351.2 1038.0,357.7 1038.3,353.5 1038.7,354.9 1039.0,354.6 1039.3,362.1 1039.7,358.1 1040.0,362.3 1040.3,355.4 1040.7,356.2 1041.0,365.4 1041.3,349.6 1041.7,353.6 1042.0,357.2 1042.3,367.1 1042.7,355.4 1043.0,362.4 1043.3,366.4 1043.7,357.7 1044.0,358.2 1044.3,367.3 1044.7,356.7 1045.0,354.5 1045.3,363.7 1045.7,357.4 1046.0,366.3 1046.3,362.8 1046.7,351.9 1047.0,361.9 1047.3,360.8 1047.7,357.7 1048.0,366.4 1048.3,352.7 1048.7,353.3 1049.0,359.2 1049.3,366.8 1049.7,354.5 1050.0,359.0 1050.3,358.8 1050.7,355.2 1051.0,360.7 1051.3,357.3 1051.7,360.8 1052.0,364.4 1052.3,358.9 1052.7,359.2 1053.0,358.9 1053.3,359.7 1053.7,356.5 1054.0,356.4 1054.3,364.8 1054.7,360.2 1055.0,376.9 1055.3,360.9 1055.7,367.1 1056.0,358.0 1056.3,364.0 1056.7,362.9 1057.0,365.2 1057.3,372.0 1057.7,365.1 1058.0,360.4 1058.3,366.7 1058.7,361.8 1059.0,365.9 1059.3,374.1 1059.7,371.2 1060.0,372.0 1060.3,369.6 1060.7,367.2 1061.0,360.2 1061.3,365.3 1061.7,365.2 1062.0,371.0 1062.3,372.6 1062.7,370.3 1063.0,364.6 1063.3,377.0 1063.7,375.1 1064.0,367.7 1064.3,369.7 1064.7,371.9 1065.0,369.6 1065.3,368.8 1065.7,371.6 1066.0,369.5 1066.3,370.6 1066.7,362.4 1067.0,362.5 1067.3,378.0 1067.7,363.2 1068.0,372.5 1068.3,371.9 1068.7,371.6 1069.0,367.6 1069.3,375.5 1069.7,372.6 1070.0,369.6 1070.3,364.9 1070.7,370.4 1071.0,368.8 1071.3,366.0 1071.7,373.6 1072.0,374.6 1072.3,375.9 1072.7,373.0 1073.0,371.3 1073.3,377.7 1073.7,376.2 1074.0,383.3 1074.4,375.5 1074.7,368.9 1075.0,377.7 1075.4,384.0 1075.7,374.8 1076.0,372.9 1076.4,371.2 1076.7,382.6 1077.0,373.3 1077.4,373.2 1077.7,375.7 1078.0,368.1 1078.4,373.4 1078.7,369.0 1079.0,374.2 1079.4,377.2 1079.7,379.2 1080.0,373.3 1080.4,378.9 1080.7,373.6 1081.0,368.1 1081.4,378.1 1081.7,374.8 1082.0,376.3 1082.4,364.2 1082.7,377.0 1083.0,377.2 1083.4,377.3 1083.7,381.0 1084.0,374.4 1084.4,386.1 1084.7,379.9 1085.0,379.2 1085.4,365.8 1085.7,365.3 1086.0,383.8 1086.4,379.0 1086.7,381.5 1087.0,375.8 1087.4,377.1 1087.7,380.3 1088.0,374.3 1088.4,383.7 1088.7,373.1 1089.0,378.9 1089.4,376.7 1089.7,379.2 1090.0,382.7 1090.4,370.7 1090.7,375.8 1091.0,372.3 1091.4,373.2 1091.7,366.9 1092.0,361.8 1092.4,364.8 1092.7,366.9 1093.0,366.4 1093.4,362.7 1093.7,364.8 1094.0,354.6 1094.4,362.3 1094.7,365.9 1095.0,366.1 1095.4,366.8 1095.7,371.9 1096.0,375.4 1096.4,384.4 1096.7,369.0 1097.0,367.6 1097.4,378.3 1097.7,373.1 1098.0,366.7 1098.4,380.3 1098.7,369.8 1099.0,368.8 1099.4,367.2 1099.7,365.4 1100.0,371.9 1100.4,365.3 1100.7,385.1 1101.0,373.0 1101.4,369.7 1101.7,366.7 1102.0,372.6 1102.4,376.1 1102.7,371.0 1103.0,360.0 1103.4,366.6 1103.7,357.3 1104.0,374.8 1104.4,369.6 1104.7,366.1 1105.0,365.9 1105.4,361.2 1105.7,363.9 1106.0,370.6 1106.4,365.0 1106.7,368.9 1107.0,367.0 1107.4,367.3 1107.7,368.1 1108.0,372.6 1108.4,364.9 1108.7,370.8 1109.0,362.3 1109.4,363.7 1109.7,361.9 1110.0,372.4 1110.4,365.8 1110.7,374.9 1111.0,361.9 1111.4,369.9 1111.7,360.6 1112.0,373.7 1112.4,361.7 1112.7,369.3 1113.0,362.4 1113.4,361.7 1113.7,367.3 1114.0,352.5 1114.4,359.3 1114.7,375.7 1115.0,362.6 1115.4,372.7 1115.7,363.4 1116.0,359.4 1116.4,366.5 1116.7,375.2 1117.0,370.3 1117.4,368.2 1117.7,374.5 1118.0,364.5 1118.4,374.4 1118.7,369.7 1119.0,361.3 1119.4,372.3 1119.7,372.9 1120.0,364.5 1120.4,366.8 1120.7,364.7 1121.1,357.9 1121.4,371.5 1121.7,361.1 1122.1,370.4 1122.4,364.4 1122.7,361.7 1123.1,371.5 1123.4,368.6 1123.7,377.5 1124.1,365.6 1124.4,366.3 1124.7,365.4 1125.1,362.3 1125.4,371.3 1125.7,371.8 1126.1,366.5 1126.4,357.1 1126.7,366.3 1127.1,364.5 1127.4,362.1 1127.7,356.1 1128.1,371.1 1128.4,373.5 1128.7,369.7 1129.1,370.0 1129.4,380.8 1129.7,377.3 1130.1,366.4 1130.4,348.4 1130.7,367.8 1131.1,363.7 1131.4,366.1 1131.7,358.2 1132.1,354.7 1132.4,363.6 1132.7,358.7 1133.1,361.0 1133.4,362.8 1133.7,360.8 1134.1,351.6 1134.4,363.5 1134.7,357.0 1135.1,358.7 1135.4,362.6 1135.7,351.6 1136.1,358.9 1136.4,349.7 1136.7,357.5 1137.1,363.0 1137.4,360.3 1137.7,359.6 1138.1,364.9 1138.4,359.3 1138.7,352.5 1139.1,368.6 1139.4,363.7 1139.7,367.4 1140.1,360.5 1140.4,360.6 1140.7,359.0 1141.1,352.1 1141.4,360.6 1141.7,359.5 1142.1,372.3 1142.4,347.1 1142.7,362.4 1143.1,360.9 1143.4,361.2 1143.7,360.5 1144.1,362.4 1144.4,365.9 1144.7,350.5 1145.1,365.2 1145.4,358.2 1145.7,353.6 1146.1,348.0 1146.4,347.9 1146.7,358.1 1147.1,351.6 1147.4,351.7 1147.7,355.8 1148.1,359.1 1148.4,356.3 1148.7,352.5 1149.1,355.8 1149.4,358.7 1149.7,353.6 1150.1,365.5 1150.4,367.0 1150.7,366.5 1151.1,355.2 1151.4,355.2 1151.7,351.1 1152.1,364.3 1152.4,352.4 1152.7,367.8 1153.1,341.7 1153.4,355.4 1153.7,357.1 1154.1,354.1 1154.4,357.6 1154.7,366.2 1155.1,353.8 1155.4,359.1 1155.7,351.4 1156.1,346.6 1156.4,348.2 1156.7,360.3 1157.1,357.6 1157.4,347.3 1157.7,358.5 1158.1,360.7 1158.4,360.5 1158.7,364.9 1159.1,346.2 1159.4,352.0 1159.7,350.8 1160.1,357.7 1160.4,364.1 1160.7,352.6 1161.1,356.7 1161.4,359.2 1161.7,350.2 1162.1,357.6 1162.4,352.3 1162.7,364.4 1163.1,362.5 1163.4,351.4 1163.7,351.3 1164.1,366.6 1164.4,350.0 1164.7,363.1 1165.1,353.2 1165.4,347.2 1165.7,368.1 1166.1,354.5 1166.4,343.0 1166.8,345.8 1167.1,340.4 1167.4,336.6 1167.8,340.0 1168.1,348.6 1168.4,325.3 1168.8,340.4 1169.1,326.4 1169.4,334.8 1169.8,324.6 1170.1,326.8 1170.4,330.1 1170.8,339.1 1171.1,338.0 1171.4,332.5 1171.8,331.4 1172.1,333.6 1172.4,346.9 1172.8,334.5 1173.1,331.7 1173.4,329.6 1173.8,330.4 1174.1,335.3 1174.4,334.9 1174.8,318.4 1175.1,343.0 1175.4,333.7 1175.8,330.5 1176.1,345.2 1176.4,322.2 1176.8,323.6 1177.1,336.6 1177.4,330.2 1177.8,335.0 1178.1,336.7 1178.4,343.5 1178.8,333.3 1179.1,325.9 1179.4,319.9 1179.8,329.8 1180.1,319.1 1180.4,329.1 1180.8,323.9 1181.1,330.2 1181.4,331.7 1181.8,327.3 1182.1,319.5 1182.4,327.8 1182.8,322.7 1183.1,328.2 1183.4,323.6 1183.8,339.2 1184.1,322.6 1184.4,314.5 1184.8,319.9 1185.1,325.3 1185.4,339.3 1185.8,332.3 1186.1,320.7 1186.4,323.8 1186.8,316.6 1187.1,311.9 1187.4,328.4 1187.8,325.1 1188.1,318.1 1188.4,318.0 1188.8,324.4 1189.1,325.6 1189.4,316.7 1189.8,311.2 1190.1,326.1 1190.4,316.3 1190.8,309.7 1191.1,318.9 1191.4,321.0 1191.8,325.1 1192.1,316.7 1192.4,320.6 1192.8,311.3 1193.1,321.2 1193.4,309.1 1193.8,322.7 1194.1,319.0 1194.4,308.4 1194.8,313.4 1195.1,330.1 1195.4,308.1 1195.8,306.5 1196.1,314.3 1196.4,316.8 1196.8,320.4 1197.1,314.4 1197.4,312.2 1197.8,313.3 1198.1,319.1 1198.4,313.1 1198.8,317.2 1199.1,302.9 1199.4,310.4 1199.8,312.6 1200.1,319.0 1200.4,315.3 1200.8,313.5 1201.1,318.4 1201.4,312.5 1201.8,332.1 1202.1,305.3 1202.4,311.3 1202.8,321.4 1203.1,314.6 1203.4,311.5 1203.8,315.4 1204.1,306.1 1204.4,309.5 1204.8,309.7 1205.1,319.8 1205.4,310.3 1205.8,320.0 1206.1,306.8 1206.4,308.3 1206.8,295.8 1207.1,311.2 1207.4,293.4 1207.8,309.4 1208.1,311.0 1208.4,307.1 1208.8,297.7 1209.1,302.2 1209.4,287.6 1209.8,298.7 1210.1,304.4 1210.4,302.6 1210.8,299.9 1211.1,310.1 1211.4,303.7 1211.8,301.2 1212.1,302.0 1212.4,293.8 1212.8,299.0 1213.1,287.4 1213.5,283.4 1213.8,296.8 1214.1,304.6 1214.5,291.4 1214.8,300.5 1215.1,286.5 1215.5,297.2 1215.8,297.1 1216.1,296.7 1216.5,287.1 1216.8,299.6 1217.1,300.2 1217.5,298.9 1217.8,309.7 1218.1,292.5 1218.5,295.7 1218.8,302.0 1219.1,285.1 1219.5,287.5 1219.8,300.3 1220.1,289.7 1220.5,287.2 1220.8,295.2 1221.1,282.8 1221.5,292.2 1221.8,284.1 1222.1,286.2 1222.5,273.4 1222.8,291.1 1223.1,291.0 1223.5,287.8 1223.8,284.2 1224.1,290.3 1224.5,297.6 1224.8,293.3 1225.1,282.4 1225.5,288.3 1225.8,284.7 1226.1,289.6 1226.5,280.2 1226.8,295.2 1227.1,279.6 1227.5,277.8 1227.8,287.3 1228.1,294.7 1228.5,272.0 1228.8,283.4 1229.1,286.8 1229.5,299.4 1229.8,271.7 1230.1,289.1 1230.5,276.1 1230.8,278.5 1231.1,286.8 1231.5,280.3 1231.8,270.3 1232.1,277.7 1232.5,276.1 1232.8,279.6 1233.1,271.5 1233.5,272.8 1233.8,274.9 1234.1,276.9 1234.5,275.2 1234.8,279.0 1235.1,280.0 1235.5,277.5 1235.8,270.2 1236.1,263.7 1236.5,267.8 1236.8,268.8 1237.1,271.4 1237.5,279.1 1237.8,271.8 1238.1,265.2 1238.5,262.2 1238.8,270.2 1239.1,268.8 1239.5,262.7 1239.8,258.2 1240.1,266.0 1240.5,271.9 1240.8,270.4 1241.1,258.4 1241.5,265.3 1241.8,266.8 1242.1,261.1 1242.5,267.0 1242.8,262.9 1243.1,273.7 1243.5,262.3 1243.8,282.0 1244.1,273.7 1244.5,269.0 1244.8,268.0 1245.1,276.0 1245.5,263.2 1245.8,268.6 1246.1,263.6 1246.5,276.1 1246.8,262.8 1247.1,262.9 1247.5,246.2 1247.8,265.9 1248.1,261.3 1248.5,267.7 1248.8,252.9 1249.1,256.9 1249.5,272.3 1249.8,257.2 1250.1,263.9 1250.5,268.8 1250.8,262.7 1251.1,262.2 1251.5,270.2 1251.8,257.4 1252.1,265.2 1252.5,258.1 1252.8,252.4 1253.1,260.6 1253.5,269.7 1253.8,258.6 1254.1,254.5 1254.5,257.8 1254.8,255.6 1255.1,262.7 1255.5,251.6 1255.8,265.4 1256.1,261.8 1256.5,267.6 1256.8,255.3 1257.1,265.4 1257.5,251.2 1257.8,262.8 1258.1,256.7 1258.5,250.1 1258.8,264.0 1259.1,268.8 1259.5,271.1 1259.8,261.3 1260.2,256.2 1260.5,268.7 1260.8,250.9 1261.2,258.8 1261.5,246.8 1261.8,258.6 1262.2,259.4 1262.5,254.5 1262.8,265.0 1263.2,256.0 1263.5,260.7 1263.8,261.1 1264.2,255.9 1264.5,238.2 1264.8,253.9 1265.2,258.1 1265.5,249.3 1265.8,257.1 1266.2,245.7 1266.5,262.7 1266.8,261.1 1267.2,259.4 1267.5,252.8 1267.8,258.4 1268.2,246.9 1268.5,250.3 1268.8,259.1 1269.2,251.0 1269.5,254.0 1269.8,255.6 1270.2,263.5 1270.5,250.7 1270.8,251.4 1271.2,250.3 1271.5,238.8 1271.8,256.7 1272.2,239.9 1272.5,246.9 1272.8,264.6 1273.2,255.0 1273.5,238.2 1273.8,247.4 1274.2,267.0 1274.5,252.5 1274.8,268.2 1275.2,250.4 1275.5,236.3 1275.8,256.3 1276.2,252.5 1276.5,256.2 1276.8,246.3 1277.2,246.1 1277.5,249.5 1277.8,246.0 1278.2,260.1 1278.5,262.0 1278.8,252.0 1279.2,260.7 1279.5,248.7 1279.8,251.6 1280.2,241.7 1280.5,263.5 1280.8,250.4 1281.2,263.8 1281.5,263.9 1281.8,258.7 1282.2,256.8 1282.5,247.6 1282.8,261.8 1283.2,260.1 1283.5,263.9 1283.8,258.5 1284.2,247.1 1284.5,247.9 1284.8,263.3 1285.2,268.6 1285.5,254.8 1285.8,256.3 1286.2,259.3 1286.5,258.7 1286.8,259.4 1287.2,255.5 1287.5,258.9 1287.8,253.5 1288.2,256.6 1288.5,264.5 1288.8,258.4 1289.2,253.5 1289.5,260.4 1289.8,250.3 1290.2,253.7 1290.5,251.0 1290.8,260.8 1291.2,265.1 1291.5,256.3 1291.8,252.6 1292.2,262.7 1292.5,261.2 1292.8,248.1 1293.2,266.7 1293.5,266.5 1293.8,258.1 1294.2,259.3 1294.5,259.4 1294.8,256.8 1295.2,263.5 1295.5,253.3 1295.8,258.4 1296.2,261.8 1296.5,244.2 1296.8,257.3 1297.2,252.0 1297.5,257.8 1297.8,257.6 1298.2,259.9 1298.5,262.4 1298.8,254.1 1299.2,263.7 1299.5,249.3 1299.8,268.5 1300.2,261.3 1300.5,267.6 1300.8,248.4 1301.2,272.1 1301.5,260.3 1301.8,264.9 1302.2,263.4 1302.5,262.3 1302.8,259.6 1303.2,248.8 1303.5,275.0 1303.8,276.9 1304.2,259.4 1304.5,273.6 1304.8,271.0 1305.2,267.0 1305.5,263.8 1305.8,269.2 1306.2,260.6 1306.5,263.0 1306.8,260.3 1307.2,260.5 1307.5,262.1 1307.9,270.5 1308.2,271.2 1308.5,260.9 1308.9,266.3 1309.2,265.7 1309.5,255.0 1309.9,275.4 1310.2,259.9 1310.5,275.9 1310.9,245.8 1311.2,262.8 1311.5,273.9 1311.9,271.8 1312.2,272.5 1312.5,268.9 1312.9,288.8 1313.2,270.1 1313.5,272.2 1313.9,264.9 1314.2,264.6 1314.5,280.1 1314.9,280.3 1315.2,258.2 1315.5,267.2 1315.9,280.1 1316.2,272.1 1316.5,278.5 1316.9,259.3 1317.2,273.4 1317.5,272.5 1317.9,273.0 1318.2,266.6 1318.5,272.7 1318.9,289.9 1319.2,263.2 1319.5,273.1 1319.9,271.6 1320.2,272.1 1320.5,286.7 1320.9,285.4 1321.2,272.0 1321.5,278.5 1321.9,269.3 1322.2,277.4 1322.5,272.8 1322.9,285.8 1323.2,278.9 1323.5,268.7 1323.9,263.7 1324.2,268.6 1324.5,291.2 1324.9,270.0 1325.2,267.1 1325.5,272.4 1325.9,273.9 1326.2,281.8 1326.5,272.5 1326.9,289.4 1327.2,278.2 1327.5,280.4 1327.9,288.3 1328.2,279.9 1328.5,281.9 1328.9,283.5 1329.2,272.6 1329.5,275.9 1329.9,284.4 1330.2,274.6 1330.5,275.0 1330.9,286.8 1331.2,284.7 1331.5,283.2 1331.9,273.3 1332.2,294.7 1332.5,280.1 1332.9,279.5 1333.2,280.7 1333.5,276.4 1333.9,279.8 1334.2,296.0 1334.5,272.5 1334.9,298.0 1335.2,276.7 1335.5,276.9 1335.9,292.7 1336.2,296.6 1336.5,281.2 1336.9,289.7 1337.2,279.1 1337.5,282.1 1337.9,279.6 1338.2,285.7 1338.5,280.6 1338.9,286.3 1339.2,283.0 1339.5,285.5 1339.9,286.2 1340.2,281.4 1340.5,283.5 1340.9,278.6 1341.2,289.8 1341.5,291.5 1341.9,284.4 1342.2,285.1 1342.5,283.5 1342.9,284.3 1343.2,288.5 1343.5,276.6 1343.9,278.4 1344.2,288.6 1344.5,294.2 1344.9,284.0 1345.2,294.0 1345.5,295.2 1345.9,289.9 1346.2,304.0 1346.5,288.8 1346.9,290.7 1347.2,282.8 1347.5,284.1 1347.9,291.9 1348.2,295.4 1348.5,290.5 1348.9,291.6 1349.2,292.5 1349.5,296.3 1349.9,279.9 1350.2,294.9 1350.5,283.3 1350.9,290.6 1351.2,291.5 1351.5,277.1 1351.9,293.0 1352.2,287.0 1352.5,284.5 1352.9,300.9 1353.2,283.8 1353.5,284.6 1353.9,297.4 1354.2,300.9 1354.6,298.6 1354.9,304.9 1355.2,282.4 1355.6,309.6 1355.9,305.4 1356.2,298.4 1356.6,298.3 1356.9,309.2 1357.2,309.2 1357.6,303.2 1357.9,308.2 1358.2,308.1 1358.6,314.8 1358.9,300.8 1359.2,315.2 1359.6,310.1 1359.9,310.1 1360.2,313.4 1360.6,307.6 1360.9,302.3 1361.2,301.4 1361.6,317.7 1361.9,301.6 1362.2,320.5 1362.6,308.4 1362.9,319.6 1363.2,307.9 1363.6,315.5 1363.9,315.2 1364.2,319.1 1364.6,312.4 1364.9,317.8 1365.2,324.8 1365.6,307.8 1365.9,322.3 1366.2,310.4 1366.6,322.7 1366.9,314.2 1367.2,326.1 1367.6,316.5 1367.9,315.4 1368.2,324.8 1368.6,317.7 1368.9,318.3 1369.2,325.4 1369.6,328.5 1369.9,325.6 1370.2,309.9 1370.6,323.3 1370.9,323.4 1371.2,327.1 1371.6,328.5 1371.9,328.7 1372.2,326.0 1372.6,335.2 1372.9,323.2 1373.2,320.6 1373.6,317.6 1373.9,322.3 1374.2,329.9 1374.6,326.0 1374.9,334.2 1375.2,326.6 1375.6,323.9 1375.9,335.9 1376.2,326.5 1376.6,334.4 1376.9,311.5 1377.2,321.3 1377.6,326.0 1377.9,323.4 1378.2,330.9 1378.6,330.3 1378.9,331.4 1379.2,325.5 1379.6,325.9 1379.9,327.4 1380.2,339.5 1380.6,330.0 1380.9,336.9 1381.2,327.6 1381.6,324.5 1381.9,333.3 1382.2,338.2 1382.6,324.0 1382.9,330.4 1383.2,337.1 1383.6,332.5 1383.9,332.6 1384.2,338.7 1384.6,335.7 1384.9,336.1 1385.2,332.7 1385.6,337.2 1385.9,333.2 1386.2,343.9 1386.6,322.8 1386.9,337.5 1387.2,341.1 1387.6,332.4 1387.9,341.0 1388.2,334.3 1388.6,342.2 1388.9,347.6 1389.2,337.8 1389.6,351.2 1389.9,339.5 1390.2,327.1 1390.6,338.1 1390.9,341.4 1391.2,342.0 1391.6,341.0 1391.9,343.4 1392.2,340.7 1392.6,349.0 1392.9,344.6 1393.2,341.9 1393.6,352.5 1393.9,336.5 1394.2,333.7 1394.6,340.2 1394.9,330.9 1395.2,347.0 1395.6,343.1 1395.9,356.0 1396.2,340.5 1396.6,339.5 1396.9,349.5 1397.2,349.5 1397.6,351.1 1397.9,343.9 1398.2,344.2 1398.6,350.3 1398.9,347.0 1399.2,351.0 1399.6,354.1 1399.9,346.7 1400.2,351.9 1400.6,335.9 1400.9,357.5 1401.3,357.4 1401.6,350.8 1401.9,349.1 1402.3,351.5 1402.6,352.1 1402.9,350.7 1403.3,348.1 1403.6,353.0 1403.9,357.9 1404.3,339.1 1404.6,349.7 1404.9,348.4 1405.3,347.0 1405.6,352.8 1405.9,342.1 1406.3,351.2 1406.6,357.8 1406.9,358.2 1407.3,357.3 1407.6,355.9 1407.9,358.5 1408.3,355.5 1408.6,357.4 1408.9,358.8 1409.3,362.8 1409.6,360.8 1409.9,360.4 1410.3,348.9 1410.6,357.8 1410.9,357.5 1411.3,354.3 1411.6,350.3 1411.9,360.5 1412.3,357.9 1412.6,356.3 1412.9,352.6 1413.3,354.5 1413.6,355.8 1413.9,360.1 1414.3,366.8 1414.6,360.0 1414.9,349.5 1415.3,361.5 1415.6,361.9 1415.9,354.9 1416.3,353.6 1416.6,360.3 1416.9,365.3 1417.3,362.6 1417.6,368.3 1417.9,360.1 1418.3,361.3 1418.6,357.3 1418.9,366.3 1419.3,362.9 1419.6,364.7 1419.9,351.5 1420.3,354.0 1420.6,364.4 1420.9,366.7 1421.3,361.1 1421.6,361.9 1421.9,367.0 1422.3,359.9 1422.6,364.0 1422.9,357.9 1423.3,360.5 1423.6,368.5 1423.9,356.6 1424.3,361.6 1424.6,353.7 1424.9,367.0 1425.3,366.8 1425.6,378.2 1425.9,364.0 1426.3,367.0 1426.6,372.8 1426.9,369.4 1427.3,365.0 1427.6,372.2 1427.9,354.8 1428.3,368.8 1428.6,363.2 1428.9,363.1 1429.3,362.0 1429.6,368.5 1429.9,362.2 1430.3,367.8 1430.6,375.2 1430.9,362.6 1431.3,367.8 1431.6,364.6 1431.9,361.4 1432.3,370.3 1432.6,373.4 1432.9,364.7 1433.3,368.1 1433.6,367.3 1433.9,364.6 1434.3,372.0 1434.6,359.0 1434.9,375.2 1435.3,364.9 1435.6,379.3 1435.9,370.9 1436.3,368.0 1436.6,361.0 1436.9,362.8 1437.3,372.9 1437.6,364.3 1437.9,373.2 1438.3,363.3 1438.6,374.3 1438.9,369.3 1439.3,371.3 1439.6,363.8 1439.9,367.7 1440.3,372.1 1440.6,370.6 1440.9,365.5 1441.3,371.0 1441.6,363.3 1441.9,379.4 1442.3,372.9 1442.6,368.1 1442.9,369.1 1443.3,365.9 1443.6,371.0 1443.9,359.8 1444.3,370.7 1444.6,378.6 1444.9,361.4 1445.3,371.9 1445.6,368.7 1445.9,370.5 1446.3,366.1 1446.6,376.0 1447.0,365.7 1447.3,376.1 1447.6,376.7 1448.0,372.9 1448.3,374.8 1448.6,363.3 1449.0,369.3 1449.3,361.6 1449.6,375.6 1450.0,378.2 1450.3,366.4 1450.6,374.3 1451.0,372.5 1451.3,365.0 1451.6,371.9 1452.0,373.7 1452.3,377.3 1452.6,371.6 1453.0,374.8 1453.3,378.4 1453.6,373.4 1454.0,363.4 1454.3,368.1 1454.6,372.6 1455.0,380.5 1455.3,368.9 1455.6,371.8 1456.0,372.2 1456.3,379.3 1456.6,376.3 1457.0,378.8 1457.3,371.6 1457.6,375.5 1458.0,371.2 1458.3,374.8 1458.6,380.7 1459.0,384.7 1459.3,384.8 1459.6,382.4 1460.0,390.1 1460.3,375.2 1460.6,380.9 1461.0,387.7 1461.3,383.0 1461.6,382.3 1462.0,386.0 1462.3,377.8 1462.6,379.1 1463.0,380.7 1463.3,390.6 1463.6,377.1 1464.0,380.2 1464.3,392.9 1464.6,385.0 1465.0,382.3 1465.3,375.6 1465.6,384.5 1466.0,383.8 1466.3,388.2 1466.6,380.7 1467.0,381.6 1467.3,388.3 1467.6,380.7 1468.0,391.8 1468.3,384.5 1468.6,387.2 1469.0,383.1 1469.3,393.0 1469.6,383.5 1470.0,391.8 1470.3,384.1 1470.6,388.2 1471.0,383.0 1471.3,390.2 1471.6,393.7 1472.0,385.1 1472.3,395.2 1472.6,388.1 1473.0,384.7 1473.3,389.5 1473.6,386.1 1474.0,389.1 1474.3,386.0 1474.6,381.6 1475.0,393.5 1475.3,389.3 1475.6,386.5 1476.0,392.0 1476.3,382.8 1476.6,387.6 1477.0,391.6 1477.3,394.5 1477.6,389.6 1478.0,392.5 1478.3,381.6 1478.6,388.9 1479.0,392.7 1479.3,394.7 1479.6,384.3 1480.0,395.9 1480.3,399.7 1480.6,390.3 1481.0,382.3 1481.3,393.5 1481.6,392.4 1482.0,387.8 1482.3,395.5 1482.6,397.3 1483.0,385.7 1483.3,385.5 1483.6,391.0 1484.0,395.0 1484.3,384.8 1484.6,386.8 1485.0,388.9 1485.3,386.7 1485.6,389.1 1486.0,394.3 1486.3,386.5 1486.6,393.3 1487.0,390.4 1487.3,389.3 1487.6,384.7 1488.0,391.5 1488.3,392.8 1488.6,387.4 1489.0,394.6 1489.3,396.4 1489.6,391.6 1490.0,387.4 1490.3,390.7 1490.6,396.4 1491.0,395.0 1491.3,391.0 1491.6,390.5 1492.0,395.7 1492.3,394.3 1492.6,395.9 1493.0,387.2 1493.3,391.3 1493.7,395.6 1494.0,388.9 1494.3,392.5 1494.7,389.1 1495.0,396.2 1495.3,397.7 1495.7,390.2 1496.0,402.2 1496.3,396.0 1496.7,391.3 1497.0,394.8 1497.3,390.8 1497.7,397.0 1498.0,392.1 1498.3,388.1 1498.7,391.7 1499.0,387.6 1499.3,383.4 1499.7,386.9 1500.0,395.0 1500.3,390.4 1500.7,394.3 1501.0,390.8 1501.3,392.5 1501.7,394.0 1502.0,396.2 1502.3,387.4 1502.7,389.3 1503.0,393.0 1503.3,399.3 1503.7,394.0 1504.0,392.1 1504.3,392.2 1504.7,391.9 1505.0,390.4 1505.3,396.5 1505.7,400.6 1506.0,394.1 1506.3,385.1 1506.7,385.6 1507.0,401.0 1507.3,386.0 1507.7,402.7 1508.0,395.1 1508.3,392.6 1508.7,396.6 1509.0,393.3 1509.3,400.0 1509.7,391.2 1510.0,394.5 1510.3,391.1 1510.7,395.4 1511.0,397.8 1511.3,388.0 1511.7,386.7 1512.0,397.4 1512.3,397.7 1512.7,395.3 1513.0,390.5 1513.3,388.7 1513.7,389.3 1514.0,393.5 1514.3,388.1 1514.7,388.0 1515.0,395.0 1515.3,400.4 1515.7,401.4 1516.0,394.6 1516.3,398.3 1516.7,395.6 1517.0,395.2 1517.3,393.4 1517.7,391.2 1518.0,391.6 1518.3,394.7 1518.7,399.7 1519.0,388.3 1519.3,391.5 1519.7,389.1 1520.0,396.6 1520.3,403.8 1520.7,395.8 1521.0,388.5 1521.3,396.6 1521.7,402.0 1522.0,390.7 1522.3,384.6 1522.7,385.7 1523.0,395.8 1523.3,386.1 1523.7,400.2 1524.0,384.1 1524.3,393.2 1524.7,388.6 1525.0,397.4 1525.3,395.4 1525.7,396.5 1526.0,397.0 1526.3,389.5 1526.7,394.4 1527.0,390.2 1527.3,392.5 1527.7,395.0 1528.0,392.3 1528.3,388.3 1528.7,388.6 1529.0,389.3 1529.3,389.6 1529.7,389.3 1530.0,399.7 1530.3,397.5 1530.7,395.4 1531.0,399.9 1531.3,396.3 1531.7,392.2 1532.0,398.9 1532.3,396.3 1532.7,385.7 1533.0,403.5 1533.3,393.6 1533.7,387.2 1534.0,399.7 1534.3,394.9 1534.7,395.0 1535.0,400.2 1535.3,398.0 1535.7,395.8 1536.0,395.4 1536.3,394.9 1536.7,393.8 1537.0,388.9 1537.3,398.9 1537.7,394.6 1538.0,394.1 1538.3,397.7 1538.7,391.8 1539.0,392.9 1539.3,397.4 1539.7,393.7 1540.0,390.2 1540.3,390.4 1540.7,405.0 1541.0,392.4 1541.4,403.8 1541.7,391.8 1542.0,396.2 1542.4,392.9 1542.7,390.0 1543.0,393.4 1543.4,403.3 1543.7,391.6 1544.0,390.6 1544.4,396.4 1544.7,390.7 1545.0,391.5 1545.4,388.9 1545.7,398.8 1546.0,397.6 1546.4,385.1 1546.7,397.6 1547.0,393.8 1547.4,394.5 1547.7,391.7 1548.0,395.7 1548.4,397.4 1548.7,391.5 1549.0,394.7 1549.4,394.6 1549.7,391.5 1550.0,392.5 1550.4,394.3 1550.7,399.3 1551.0,392.0 1551.4,394.8 1551.7,398.9 1552.0,400.4 1552.4,388.9 1552.7,395.7 1553.0,393.8 1553.4,392.6 1553.7,391.9 1554.0,401.7 1554.4,398.9 1554.7,393.8 1555.0,395.3 1555.4,394.5 1555.7,394.0 1556.0,398.2 1556.4,393.0 1556.7,397.8 1557.0,389.1 1557.4,395.9 1557.7,394.4 1558.0,392.6 1558.4,397.2 1558.7,395.5 1559.0,393.6 1559.4,400.3 1559.7,394.5 1560.0,394.2 1560.4,392.8 1560.7,399.4 1561.0,400.2 1561.4,385.5 1561.7,391.3 1562.0,396.4 1562.4,398.8 1562.7,397.1 1563.0,394.6 1563.4,403.0 1563.7,393.0"/>
<polyline fill="none" stroke="#008080" stroke-width="2.8" stroke-linejoin="round" points="956.6,397.4 956.9,406.9 957.3,396.0 957.6,406.0 957.9,395.1 958.3,392.9 958.6,400.2 958.9,395.5 959.3,407.2 959.6,404.4 959.9,407.3 960.3,405.2 960.6,402.8 960.9,405.1 961.3,413.1 961.6,404.1 961.9,400.8 962.3,399.5 962.6,403.4 962.9,400.1 963.3,414.4 963.6,396.5 963.9,394.1 964.3,399.6 964.6,403.9 964.9,397.7 965.3,392.8 965.6,392.6 965.9,394.3 966.3,401.1 966.6,389.9 966.9,394.8 967.3,392.2 967.6,398.1 967.9,399.5 968.3,390.4 968.6,413.1 968.9,402.5 969.3,400.2 969.6,399.6 969.9,404.6 970.3,407.5 970.6,411.8 970.9,409.6 971.3,413.1 971.6,402.3 971.9,407.7 972.3,404.9 972.6,413.6 972.9,415.6 973.3,405.5 973.6,412.8 973.9,418.0 974.3,419.2 974.6,408.5 974.9,417.8 975.3,416.8 975.6,412.8 975.9,426.0 976.3,407.4 976.6,414.2 976.9,418.4 977.3,417.9 977.6,415.1 977.9,426.5 978.3,424.5 978.6,421.8 978.9,422.5 979.3,417.0 979.6,411.2 980.0,429.4 980.3,412.7 980.6,430.0 981.0,417.6 981.3,419.7 981.6,417.4 982.0,423.9 982.3,416.3 982.6,429.0 983.0,422.3 983.3,420.5 983.6,416.8 984.0,421.5 984.3,420.2 984.6,430.5 985.0,425.5 985.3,412.5 985.6,429.1 986.0,408.6 986.3,429.5 986.6,411.6 987.0,421.7 987.3,426.2 987.6,422.1 988.0,416.6 988.3,429.0 988.6,413.4 989.0,415.3 989.3,430.3 989.6,418.8 990.0,424.8 990.3,427.9 990.6,423.3 991.0,425.5 991.3,424.9 991.6,425.6 992.0,430.8 992.3,429.7 992.6,426.7 993.0,431.7 993.3,422.6 993.6,421.7 994.0,420.6 994.3,430.1 994.6,434.6 995.0,426.8 995.3,416.4 995.6,424.2 996.0,429.4 996.3,428.7 996.6,427.8 997.0,432.6 997.3,432.4 997.6,420.9 998.0,430.2 998.3,424.4 998.6,429.5 999.0,434.8 999.3,438.0 999.6,432.4 1000.0,426.4 1000.3,427.4 1000.6,432.0 1001.0,424.5 1001.3,429.3 1001.6,432.9 1002.0,434.6 1002.3,428.6 1002.6,432.2 1003.0,437.4 1003.3,432.2 1003.6,422.1 1004.0,432.1 1004.3,432.4 1004.6,429.2 1005.0,431.7 1005.3,424.2 1005.6,438.1 1006.0,434.1 1006.3,429.4 1006.6,433.5 1007.0,433.1 1007.3,428.3 1007.6,419.9 1008.0,420.1 1008.3,443.3 1008.6,427.7 1009.0,432.0 1009.3,436.5 1009.6,432.0 1010.0,439.9 1010.3,429.4 1010.6,437.1 1011.0,424.1 1011.3,438.2 1011.6,438.2 1012.0,436.8 1012.3,436.6 1012.6,436.6 1013.0,439.8 1013.3,440.4 1013.6,431.2 1014.0,441.2 1014.3,431.5 1014.6,437.1 1015.0,435.2 1015.3,439.0 1015.6,435.2 1016.0,439.0 1016.3,434.7 1016.6,432.5 1017.0,442.5 1017.3,440.2 1017.6,440.0 1018.0,442.3 1018.3,432.5 1018.6,442.3 1019.0,432.7 1019.3,439.9 1019.6,437.2 1020.0,439.5 1020.3,441.7 1020.6,438.6 1021.0,434.0 1021.3,443.2 1021.6,444.5 1022.0,442.2 1022.3,445.7 1022.6,430.4 1023.0,439.5 1023.3,438.7 1023.6,429.8 1024.0,440.0 1024.3,439.6 1024.6,432.3 1025.0,435.7 1025.3,440.3 1025.6,442.9 1026.0,443.5 1026.3,434.8 1026.7,435.0 1027.0,437.9 1027.3,440.2 1027.7,437.8 1028.0,439.7 1028.3,444.2 1028.7,444.2 1029.0,441.6 1029.3,435.6 1029.7,438.8 1030.0,444.0 1030.3,445.6 1030.7,446.6 1031.0,436.5 1031.3,439.4 1031.7,436.0 1032.0,429.5 1032.3,436.7 1032.7,433.6 1033.0,448.9 1033.3,444.6 1033.7,439.3 1034.0,442.9 1034.3,444.6 1034.7,451.1 1035.0,446.5 1035.3,450.2 1035.7,446.1 1036.0,449.3 1036.3,450.1 1036.7,447.8 1037.0,443.6 1037.3,448.7 1037.7,441.8 1038.0,450.5 1038.3,442.5 1038.7,440.7 1039.0,456.1 1039.3,442.2 1039.7,445.0 1040.0,439.3 1040.3,441.1 1040.7,442.9 1041.0,440.0 1041.3,450.5 1041.7,441.4 1042.0,439.0 1042.3,450.3 1042.7,448.5 1043.0,430.4 1043.3,442.7 1043.7,450.2 1044.0,441.9 1044.3,444.4 1044.7,444.6 1045.0,435.2 1045.3,441.8 1045.7,449.7 1046.0,453.0 1046.3,445.9 1046.7,445.9 1047.0,449.1 1047.3,447.4 1047.7,449.1 1048.0,442.7 1048.3,447.1 1048.7,449.4 1049.0,449.9 1049.3,440.0 1049.7,451.2 1050.0,448.0 1050.3,448.3 1050.7,439.4 1051.0,447.9 1051.3,440.5 1051.7,436.2 1052.0,448.5 1052.3,448.2 1052.7,448.6 1053.0,449.2 1053.3,448.5 1053.7,453.7 1054.0,452.5 1054.3,456.4 1054.7,460.7 1055.0,454.0 1055.3,452.9 1055.7,458.1 1056.0,445.3 1056.3,448.0 1056.7,450.8 1057.0,442.5 1057.3,454.3 1057.7,457.3 1058.0,444.3 1058.3,445.3 1058.7,454.5 1059.0,456.7 1059.3,443.0 1059.7,453.2 1060.0,449.9 1060.3,442.5 1060.7,449.2 1061.0,448.6 1061.3,451.8 1061.7,451.6 1062.0,449.9 1062.3,451.1 1062.7,451.1 1063.0,454.3 1063.3,456.5 1063.7,456.6 1064.0,446.9 1064.3,448.9 1064.7,449.6 1065.0,459.3 1065.3,455.9 1065.7,449.6 1066.0,447.9 1066.3,448.8 1066.7,453.6 1067.0,448.6 1067.3,453.7 1067.7,462.1 1068.0,452.9 1068.3,458.0 1068.7,447.4 1069.0,456.0 1069.3,455.9 1069.7,450.5 1070.0,461.0 1070.3,454.9 1070.7,452.0 1071.0,453.9 1071.3,459.7 1071.7,447.2 1072.0,456.3 1072.3,451.5 1072.7,456.9 1073.0,453.7 1073.3,455.9 1073.7,459.7 1074.0,456.7 1074.4,459.1 1074.7,459.9 1075.0,458.7 1075.4,458.0 1075.7,457.3 1076.0,460.1 1076.4,462.8 1076.7,465.7 1077.0,465.5 1077.4,453.3 1077.7,459.0 1078.0,459.8 1078.4,463.0 1078.7,462.3 1079.0,451.2 1079.4,458.8 1079.7,449.9 1080.0,455.4 1080.4,453.4 1080.7,453.8 1081.0,464.5 1081.4,455.0 1081.7,455.2 1082.0,457.9 1082.4,462.1 1082.7,449.8 1083.0,467.1 1083.4,453.9 1083.7,452.8 1084.0,457.8 1084.4,460.2 1084.7,468.6 1085.0,461.2 1085.4,454.5 1085.7,456.2 1086.0,452.8 1086.4,460.0 1086.7,462.0 1087.0,455.5 1087.4,462.1 1087.7,449.5 1088.0,454.8 1088.4,452.5 1088.7,453.6 1089.0,448.6 1089.4,461.4 1089.7,451.0 1090.0,454.3 1090.4,459.9 1090.7,461.5 1091.0,459.3 1091.4,443.5 1091.7,451.9 1092.0,451.3 1092.4,449.5 1092.7,448.7 1093.0,445.3 1093.4,451.4 1093.7,444.6 1094.0,440.4 1094.4,439.0 1094.7,448.3 1095.0,437.8 1095.4,451.1 1095.7,444.3 1096.0,444.1 1096.4,447.9 1096.7,444.4 1097.0,450.2 1097.4,438.8 1097.7,435.6 1098.0,456.7 1098.4,446.3 1098.7,430.7 1099.0,454.6 1099.4,437.3 1099.7,457.3 1100.0,456.3 1100.4,453.0 1100.7,446.6 1101.0,442.0 1101.4,452.7 1101.7,445.3 1102.0,454.0 1102.4,445.0 1102.7,437.6 1103.0,442.0 1103.4,445.7 1103.7,441.9 1104.0,445.2 1104.4,438.2 1104.7,452.1 1105.0,439.4 1105.4,446.0 1105.7,434.0 1106.0,448.9 1106.4,453.6 1106.7,448.8 1107.0,444.6 1107.4,441.2 1107.7,450.6 1108.0,450.9 1108.4,439.2 1108.7,445.8 1109.0,447.9 1109.4,439.4 1109.7,446.5 1110.0,440.0 1110.4,449.5 1110.7,432.9 1111.0,442.5 1111.4,441.0 1111.7,430.2 1112.0,436.4 1112.4,437.6 1112.7,448.6 1113.0,441.9 1113.4,444.7 1113.7,446.3 1114.0,460.8 1114.4,444.7 1114.7,457.3 1115.0,445.0 1115.4,437.0 1115.7,441.4 1116.0,436.4 1116.4,444.0 1116.7,434.7 1117.0,440.7 1117.4,456.5 1117.7,446.1 1118.0,446.1 1118.4,454.0 1118.7,433.3 1119.0,445.5 1119.4,438.9 1119.7,440.8 1120.0,436.5 1120.4,441.2 1120.7,447.7 1121.1,447.5 1121.4,442.5 1121.7,445.4 1122.1,433.7 1122.4,425.7 1122.7,446.7 1123.1,452.4 1123.4,442.8 1123.7,434.7 1124.1,439.3 1124.4,445.6 1124.7,431.1 1125.1,437.8 1125.4,440.4 1125.7,430.3 1126.1,448.2 1126.4,441.7 1126.7,447.6 1127.1,432.5 1127.4,441.5 1127.7,449.6 1128.1,445.2 1128.4,449.9 1128.7,432.7 1129.1,443.7 1129.4,432.3 1129.7,440.9 1130.1,445.2 1130.4,442.7 1130.7,435.7 1131.1,444.6 1131.4,446.4 1131.7,441.8 1132.1,446.8 1132.4,447.8 1132.7,447.5 1133.1,437.3 1133.4,441.4 1133.7,433.8 1134.1,436.1 1134.4,442.0 1134.7,434.2 1135.1,431.5 1135.4,431.5 1135.7,438.8 1136.1,446.0 1136.4,442.8 1136.7,436.8 1137.1,445.2 1137.4,445.3 1137.7,449.1 1138.1,437.1 1138.4,444.7 1138.7,438.4 1139.1,437.5 1139.4,447.9 1139.7,443.6 1140.1,440.7 1140.4,448.1 1140.7,440.9 1141.1,432.8 1141.4,445.1 1141.7,434.4 1142.1,434.7 1142.4,437.3 1142.7,438.8 1143.1,445.0 1143.4,437.7 1143.7,429.0 1144.1,436.4 1144.4,441.5 1144.7,438.9 1145.1,438.9 1145.4,432.4 1145.7,437.2 1146.1,442.9 1146.4,442.9 1146.7,434.5 1147.1,435.1 1147.4,433.7 1147.7,444.9 1148.1,435.0 1148.4,437.2 1148.7,434.5 1149.1,434.0 1149.4,438.6 1149.7,444.7 1150.1,436.0 1150.4,446.3 1150.7,438.8 1151.1,443.5 1151.4,453.6 1151.7,452.2 1152.1,440.3 1152.4,438.9 1152.7,437.3 1153.1,442.2 1153.4,422.9 1153.7,433.6 1154.1,436.9 1154.4,433.0 1154.7,431.6 1155.1,445.1 1155.4,428.5 1155.7,433.7 1156.1,433.4 1156.4,433.0 1156.7,428.6 1157.1,438.4 1157.4,432.1 1157.7,442.3 1158.1,422.6 1158.4,430.6 1158.7,421.1 1159.1,429.6 1159.4,438.6 1159.7,423.1 1160.1,436.8 1160.4,426.8 1160.7,425.6 1161.1,435.4 1161.4,438.8 1161.7,436.0 1162.1,437.4 1162.4,434.2 1162.7,430.2 1163.1,419.2 1163.4,428.9 1163.7,425.7 1164.1,433.4 1164.4,422.8 1164.7,439.0 1165.1,431.1 1165.4,423.2 1165.7,431.4 1166.1,426.4 1166.4,438.9 1166.8,426.0 1167.1,437.7 1167.4,422.6 1167.8,430.1 1168.1,429.0 1168.4,422.6 1168.8,425.0 1169.1,425.9 1169.4,417.1 1169.8,418.0 1170.1,424.9 1170.4,417.8 1170.8,429.6 1171.1,429.1 1171.4,417.7 1171.8,421.5 1172.1,421.9 1172.4,422.4 1172.8,415.1 1173.1,421.4 1173.4,414.0 1173.8,415.8 1174.1,422.5 1174.4,414.8 1174.8,409.5 1175.1,411.0 1175.4,415.4 1175.8,408.9 1176.1,407.2 1176.4,412.8 1176.8,406.2 1177.1,422.5 1177.4,406.9 1177.8,414.1 1178.1,401.8 1178.4,407.7 1178.8,413.8 1179.1,411.9 1179.4,412.2 1179.8,405.0 1180.1,409.0 1180.4,406.5 1180.8,399.4 1181.1,413.3 1181.4,402.8 1181.8,404.9 1182.1,410.8 1182.4,409.3 1182.8,419.8 1183.1,404.5 1183.4,415.6 1183.8,403.7 1184.1,404.1 1184.4,409.7 1184.8,407.1 1185.1,400.1 1185.4,402.1 1185.8,403.3 1186.1,411.6 1186.4,395.7 1186.8,402.6 1187.1,404.5 1187.4,401.4 1187.8,397.4 1188.1,404.8 1188.4,394.3 1188.8,410.6 1189.1,384.2 1189.4,387.6 1189.8,399.5 1190.1,402.0 1190.4,401.7 1190.8,394.3 1191.1,396.6 1191.4,397.3 1191.8,391.8 1192.1,394.4 1192.4,390.8 1192.8,402.9 1193.1,398.3 1193.4,393.0 1193.8,393.1 1194.1,392.3 1194.4,392.9 1194.8,396.0 1195.1,392.1 1195.4,390.9 1195.8,395.9 1196.1,392.4 1196.4,393.1 1196.8,393.2 1197.1,391.4 1197.4,385.6 1197.8,390.5 1198.1,398.8 1198.4,386.3 1198.8,384.5 1199.1,388.3 1199.4,387.5 1199.8,398.6 1200.1,388.2 1200.4,396.7 1200.8,394.2 1201.1,393.5 1201.4,392.7 1201.8,390.7 1202.1,391.5 1202.4,395.4 1202.8,375.4 1203.1,389.7 1203.4,394.3 1203.8,383.0 1204.1,386.4 1204.4,391.6 1204.8,375.4 1205.1,387.6 1205.4,378.8 1205.8,386.6 1206.1,387.2 1206.4,386.4 1206.8,377.7 1207.1,383.5 1207.4,379.1 1207.8,384.5 1208.1,379.8 1208.4,376.4 1208.8,387.0 1209.1,373.2 1209.4,377.1 1209.8,386.6 1210.1,381.7 1210.4,384.4 1210.8,372.2 1211.1,379.5 1211.4,372.0 1211.8,365.9 1212.1,380.3 1212.4,369.7 1212.8,376.4 1213.1,369.2 1213.5,378.3 1213.8,378.0 1214.1,367.4 1214.5,366.9 1214.8,356.5 1215.1,369.5 1215.5,370.5 1215.8,366.8 1216.1,375.6 1216.5,370.1 1216.8,370.2 1217.1,365.7 1217.5,359.5 1217.8,369.2 1218.1,373.8 1218.5,375.8 1218.8,368.6 1219.1,358.7 1219.5,364.3 1219.8,367.1 1220.1,358.3 1220.5,362.7 1220.8,360.4 1221.1,358.9 1221.5,357.0 1221.8,365.4 1222.1,366.4 1222.5,370.6 1222.8,360.2 1223.1,361.9 1223.5,349.5 1223.8,362.5 1224.1,369.3 1224.5,354.4 1224.8,362.5 1225.1,355.3 1225.5,362.1 1225.8,363.2 1226.1,348.3 1226.5,351.8 1226.8,352.6 1227.1,356.0 1227.5,366.0 1227.8,357.2 1228.1,357.5 1228.5,357.7 1228.8,351.7 1229.1,363.3 1229.5,360.4 1229.8,360.8 1230.1,356.9 1230.5,345.6 1230.8,358.4 1231.1,350.1 1231.5,348.0 1231.8,371.6 1232.1,360.0 1232.5,350.6 1232.8,358.9 1233.1,360.6 1233.5,354.3 1233.8,349.8 1234.1,361.4 1234.5,357.3 1234.8,356.5 1235.1,340.0 1235.5,354.3 1235.8,365.3 1236.1,343.3 1236.5,347.7 1236.8,344.8 1237.1,346.5 1237.5,348.8 1237.8,363.7 1238.1,347.2 1238.5,360.3 1238.8,342.2 1239.1,353.0 1239.5,348.0 1239.8,345.2 1240.1,349.8 1240.5,357.0 1240.8,350.1 1241.1,351.7 1241.5,347.6 1241.8,349.9 1242.1,349.1 1242.5,351.8 1242.8,344.8 1243.1,341.2 1243.5,341.8 1243.8,341.4 1244.1,348.4 1244.5,338.6 1244.8,349.1 1245.1,345.4 1245.5,352.4 1245.8,344.6 1246.1,350.6 1246.5,345.7 1246.8,343.6 1247.1,339.8 1247.5,345.1 1247.8,342.1 1248.1,336.6 1248.5,337.3 1248.8,326.6 1249.1,348.6 1249.5,348.2 1249.8,336.2 1250.1,330.2 1250.5,343.9 1250.8,346.8 1251.1,338.3 1251.5,333.4 1251.8,347.1 1252.1,344.0 1252.5,344.8 1252.8,350.8 1253.1,336.5 1253.5,337.7 1253.8,350.8 1254.1,344.2 1254.5,353.7 1254.8,316.5 1255.1,323.9 1255.5,339.3 1255.8,338.3 1256.1,326.5 1256.5,327.9 1256.8,328.2 1257.1,339.2 1257.5,324.0 1257.8,333.2 1258.1,328.6 1258.5,315.8 1258.8,336.1 1259.1,347.5 1259.5,332.4 1259.8,339.4 1260.2,334.2 1260.5,332.3 1260.8,321.5 1261.2,332.3 1261.5,318.8 1261.8,327.1 1262.2,334.5 1262.5,334.7 1262.8,327.4 1263.2,332.2 1263.5,325.7 1263.8,338.9 1264.2,324.8 1264.5,352.6 1264.8,339.5 1265.2,332.8 1265.5,346.6 1265.8,326.6 1266.2,342.5 1266.5,328.7 1266.8,333.7 1267.2,329.3 1267.5,325.7 1267.8,329.0 1268.2,335.0 1268.5,330.9 1268.8,346.6 1269.2,333.7 1269.5,314.4 1269.8,327.4 1270.2,330.7 1270.5,334.9 1270.8,337.0 1271.2,322.9 1271.5,333.8 1271.8,326.0 1272.2,332.7 1272.5,330.0 1272.8,341.2 1273.2,339.4 1273.5,343.2 1273.8,326.1 1274.2,328.0 1274.5,332.0 1274.8,327.5 1275.2,327.0 1275.5,335.3 1275.8,347.7 1276.2,333.9 1276.5,343.0 1276.8,320.9 1277.2,346.2 1277.5,347.5 1277.8,332.7 1278.2,326.0 1278.5,335.8 1278.8,319.0 1279.2,333.5 1279.5,318.5 1279.8,343.2 1280.2,331.4 1280.5,326.3 1280.8,316.5 1281.2,342.7 1281.5,332.9 1281.8,328.4 1282.2,341.3 1282.5,322.8 1282.8,340.8 1283.2,342.7 1283.5,330.4 1283.8,342.2 1284.2,346.0 1284.5,328.3 1284.8,328.8 1285.2,340.1 1285.5,339.8 1285.8,328.7 1286.2,315.9 1286.5,323.4 1286.8,343.8 1287.2,331.3 1287.5,328.2 1287.8,337.9 1288.2,322.5 1288.5,351.6 1288.8,321.4 1289.2,334.2 1289.5,338.5 1289.8,341.9 1290.2,328.0 1290.5,333.7 1290.8,343.8 1291.2,337.4 1291.5,341.4 1291.8,337.8 1292.2,338.2 1292.5,330.7 1292.8,328.5 1293.2,335.2 1293.5,329.2 1293.8,347.7 1294.2,342.7 1294.5,346.6 1294.8,327.0 1295.2,328.5 1295.5,342.7 1295.8,339.3 1296.2,339.9 1296.5,345.4 1296.8,331.2 1297.2,329.5 1297.5,332.6 1297.8,353.8 1298.2,338.5 1298.5,333.4 1298.8,349.5 1299.2,347.8 1299.5,345.6 1299.8,344.0 1300.2,338.1 1300.5,352.4 1300.8,345.9 1301.2,331.5 1301.5,332.0 1301.8,335.6 1302.2,346.5 1302.5,336.1 1302.8,338.7 1303.2,337.5 1303.5,341.4 1303.8,349.8 1304.2,338.1 1304.5,341.4 1304.8,353.6 1305.2,330.7 1305.5,344.2 1305.8,343.6 1306.2,342.0 1306.5,352.5 1306.8,358.5 1307.2,343.4 1307.5,343.3 1307.9,348.4 1308.2,335.9 1308.5,341.9 1308.9,347.7 1309.2,346.5 1309.5,340.1 1309.9,353.2 1310.2,337.8 1310.5,339.4 1310.9,339.2 1311.2,349.3 1311.5,352.5 1311.9,346.4 1312.2,355.4 1312.5,344.7 1312.9,348.5 1313.2,350.2 1313.5,348.2 1313.9,349.9 1314.2,341.9 1314.5,334.7 1314.9,344.4 1315.2,347.1 1315.5,348.4 1315.9,343.1 1316.2,341.9 1316.5,364.6 1316.9,356.2 1317.2,353.6 1317.5,352.7 1317.9,347.5 1318.2,351.2 1318.5,360.2 1318.9,359.5 1319.2,349.0 1319.5,349.9 1319.9,349.9 1320.2,348.9 1320.5,360.2 1320.9,358.6 1321.2,356.7 1321.5,350.7 1321.9,363.6 1322.2,355.5 1322.5,338.6 1322.9,367.4 1323.2,357.6 1323.5,352.3 1323.9,365.4 1324.2,341.0 1324.5,352.7 1324.9,362.0 1325.2,352.8 1325.5,371.6 1325.9,371.5 1326.2,360.4 1326.5,360.2 1326.9,370.6 1327.2,363.5 1327.5,352.6 1327.9,358.1 1328.2,354.3 1328.5,364.5 1328.9,361.8 1329.2,370.3 1329.5,362.9 1329.9,356.4 1330.2,354.3 1330.5,372.1 1330.9,370.8 1331.2,357.0 1331.5,353.0 1331.9,352.7 1332.2,369.9 1332.5,361.1 1332.9,375.8 1333.2,361.4 1333.5,361.9 1333.9,363.1 1334.2,370.6 1334.5,376.8 1334.9,359.5 1335.2,371.1 1335.5,375.4 1335.9,365.6 1336.2,364.3 1336.5,377.0 1336.9,363.5 1337.2,366.0 1337.5,361.9 1337.9,365.0 1338.2,371.2 1338.5,372.3 1338.9,367.8 1339.2,370.1 1339.5,358.5 1339.9,383.5 1340.2,363.3 1340.5,373.9 1340.9,365.7 1341.2,371.1 1341.5,358.3 1341.9,367.2 1342.2,363.9 1342.5,374.2 1342.9,373.0 1343.2,366.8 1343.5,364.4 1343.9,375.8 1344.2,370.3 1344.5,377.5 1344.9,375.9 1345.2,371.3 1345.5,372.8 1345.9,363.1 1346.2,375.0 1346.5,373.4 1346.9,375.5 1347.2,385.2 1347.5,377.1 1347.9,376.5 1348.2,376.5 1348.5,373.8 1348.9,385.3 1349.2,375.8 1349.5,383.3 1349.9,378.8 1350.2,368.5 1350.5,373.1 1350.9,377.3 1351.2,366.9 1351.5,368.8 1351.9,366.7 1352.2,367.0 1352.5,374.7 1352.9,366.6 1353.2,371.8 1353.5,377.4 1353.9,362.2 1354.2,378.2 1354.6,382.4 1354.9,385.5 1355.2,380.3 1355.6,379.5 1355.9,391.3 1356.2,382.5 1356.6,389.9 1356.9,388.3 1357.2,382.3 1357.6,386.0 1357.9,383.0 1358.2,395.9 1358.6,391.6 1358.9,380.8 1359.2,402.6 1359.6,400.4 1359.9,400.2 1360.2,387.8 1360.6,390.8 1360.9,390.8 1361.2,403.4 1361.6,395.9 1361.9,397.6 1362.2,394.9 1362.6,388.6 1362.9,402.3 1363.2,410.5 1363.6,396.3 1363.9,393.1 1364.2,393.5 1364.6,395.4 1364.9,390.9 1365.2,396.8 1365.6,398.2 1365.9,391.9 1366.2,403.4 1366.6,398.7 1366.9,395.1 1367.2,402.3 1367.6,411.5 1367.9,410.8 1368.2,409.7 1368.6,410.0 1368.9,409.6 1369.2,408.6 1369.6,411.6 1369.9,416.7 1370.2,403.5 1370.6,410.7 1370.9,398.8 1371.2,410.5 1371.6,415.0 1371.9,405.7 1372.2,417.6 1372.6,403.1 1372.9,417.4 1373.2,407.8 1373.6,412.5 1373.9,407.8 1374.2,413.8 1374.6,409.8 1374.9,419.5 1375.2,411.5 1375.6,413.2 1375.9,410.8 1376.2,414.9 1376.6,410.3 1376.9,411.8 1377.2,405.9 1377.6,411.2 1377.9,411.9 1378.2,413.5 1378.6,414.9 1378.9,406.6 1379.2,419.5 1379.6,427.6 1379.9,416.0 1380.2,405.6 1380.6,420.7 1380.9,416.8 1381.2,416.0 1381.6,418.2 1381.9,417.8 1382.2,416.9 1382.6,421.3 1382.9,420.0 1383.2,417.3 1383.6,423.0 1383.9,426.3 1384.2,426.8 1384.6,415.0 1384.9,420.9 1385.2,424.2 1385.6,422.1 1385.9,420.8 1386.2,427.9 1386.6,424.0 1386.9,424.9 1387.2,414.9 1387.6,415.6 1387.9,420.8 1388.2,424.6 1388.6,428.8 1388.9,420.3 1389.2,432.9 1389.6,425.9 1389.9,422.1 1390.2,429.7 1390.6,433.3 1390.9,426.5 1391.2,426.7 1391.6,428.2 1391.9,431.1 1392.2,426.3 1392.6,427.5 1392.9,428.8 1393.2,427.5 1393.6,430.4 1393.9,425.3 1394.2,419.2 1394.6,426.8 1394.9,427.8 1395.2,439.5 1395.6,435.6 1395.9,433.3 1396.2,428.4 1396.6,425.2 1396.9,428.1 1397.2,434.2 1397.6,431.3 1397.9,427.1 1398.2,433.5 1398.6,429.5 1398.9,435.4 1399.2,442.9 1399.6,438.1 1399.9,421.8 1400.2,439.8 1400.6,431.0 1400.9,436.0 1401.3,436.5 1401.6,436.2 1401.9,423.4 1402.3,441.6 1402.6,430.9 1402.9,431.3 1403.3,437.1 1403.6,439.6 1403.9,433.5 1404.3,428.7 1404.6,438.8 1404.9,435.5 1405.3,441.3 1405.6,443.3 1405.9,431.4 1406.3,431.5 1406.6,437.0 1406.9,432.4 1407.3,449.4 1407.6,439.0 1407.9,439.2 1408.3,440.1 1408.6,446.3 1408.9,441.3 1409.3,443.5 1409.6,436.4 1409.9,443.5 1410.3,438.2 1410.6,436.8 1410.9,437.6 1411.3,446.3 1411.6,439.2 1411.9,442.9 1412.3,441.6 1412.6,443.8 1412.9,438.7 1413.3,435.3 1413.6,440.3 1413.9,442.5 1414.3,438.1 1414.6,442.2 1414.9,445.7 1415.3,429.8 1415.6,450.0 1415.9,447.9 1416.3,444.8 1416.6,449.1 1416.9,434.1 1417.3,444.7 1417.6,446.0 1417.9,446.6 1418.3,446.6 1418.6,453.4 1418.9,448.2 1419.3,442.2 1419.6,438.4 1419.9,440.9 1420.3,443.8 1420.6,446.8 1420.9,445.9 1421.3,447.3 1421.6,443.6 1421.9,444.6 1422.3,449.2 1422.6,445.7 1422.9,443.9 1423.3,445.0 1423.6,449.5 1423.9,445.1 1424.3,446.3 1424.6,456.4 1424.9,447.5 1425.3,449.2 1425.6,453.6 1425.9,456.6 1426.3,453.1 1426.6,440.9 1426.9,460.2 1427.3,445.1 1427.6,444.0 1427.9,445.8 1428.3,456.5 1428.6,449.7 1428.9,441.3 1429.3,458.9 1429.6,443.2 1429.9,459.2 1430.3,439.1 1430.6,450.3 1430.9,451.0 1431.3,448.2 1431.6,450.5 1431.9,455.4 1432.3,450.8 1432.6,452.4 1432.9,448.6 1433.3,447.9 1433.6,442.5 1433.9,443.3 1434.3,446.5 1434.6,446.5 1434.9,436.0 1435.3,438.8 1435.6,443.4 1435.9,443.6 1436.3,442.3 1436.6,438.5 1436.9,450.9 1437.3,448.0 1437.6,465.0 1437.9,460.6 1438.3,456.1 1438.6,448.8 1438.9,450.7 1439.3,462.2 1439.6,452.1 1439.9,454.7 1440.3,458.0 1440.6,459.9 1440.9,454.8 1441.3,458.8 1441.6,449.3 1441.9,456.9 1442.3,456.4 1442.6,464.7 1442.9,459.3 1443.3,447.6 1443.6,464.6 1443.9,469.3 1444.3,460.6 1444.6,461.4 1444.9,465.6 1445.3,458.6 1445.6,458.6 1445.9,460.5 1446.3,447.8 1446.6,456.0 1447.0,462.4 1447.3,462.3 1447.6,453.1 1448.0,458.5 1448.3,457.7 1448.6,457.1 1449.0,464.6 1449.3,456.7 1449.6,459.7 1450.0,463.6 1450.3,456.9 1450.6,460.9 1451.0,456.7 1451.3,460.8 1451.6,460.3 1452.0,463.3 1452.3,458.0 1452.6,458.1 1453.0,451.3 1453.3,454.4 1453.6,451.4 1454.0,449.0 1454.3,452.0 1454.6,452.8 1455.0,452.3 1455.3,457.8 1455.6,451.4 1456.0,451.9 1456.3,447.3 1456.6,463.0 1457.0,462.7 1457.3,463.7 1457.6,458.7 1458.0,460.1 1458.3,460.9 1458.6,458.2 1459.0,465.7 1459.3,463.9 1459.6,469.8 1460.0,465.5 1460.3,463.9 1460.6,468.8 1461.0,468.2 1461.3,460.6 1461.6,458.5 1462.0,458.7 1462.3,469.6 1462.6,468.5 1463.0,471.7 1463.3,466.4 1463.6,467.8 1464.0,464.7 1464.3,477.8 1464.6,469.6 1465.0,473.4 1465.3,469.0 1465.6,463.8 1466.0,471.4 1466.3,460.9 1466.6,470.9 1467.0,467.1 1467.3,470.0 1467.6,462.8 1468.0,468.3 1468.3,464.5 1468.6,464.6 1469.0,474.3 1469.3,470.7 1469.6,466.5 1470.0,466.0 1470.3,467.3 1470.6,469.7 1471.0,470.5 1471.3,469.7 1471.6,462.2 1472.0,469.6 1472.3,470.7 1472.6,472.9 1473.0,469.8 1473.3,469.4 1473.6,470.4 1474.0,467.9 1474.3,478.8 1474.6,467.1 1475.0,464.9 1475.3,471.6 1475.6,471.6 1476.0,473.2 1476.3,469.9 1476.6,468.3 1477.0,467.1 1477.3,470.8 1477.6,472.0 1478.0,470.8 1478.3,466.0 1478.6,465.7 1479.0,475.7 1479.3,471.3 1479.6,470.6 1480.0,478.7 1480.3,475.2 1480.6,466.1 1481.0,470.3 1481.3,475.6 1481.6,474.3 1482.0,473.1 1482.3,478.4 1482.6,466.5 1483.0,475.4 1483.3,470.0 1483.6,477.2 1484.0,472.1 1484.3,465.8 1484.6,473.5 1485.0,462.3 1485.3,477.2 1485.6,474.1 1486.0,477.7 1486.3,474.1 1486.6,473.8 1487.0,479.0 1487.3,476.5 1487.6,467.3 1488.0,471.2 1488.3,479.5 1488.6,468.6 1489.0,468.3 1489.3,470.1 1489.6,467.5 1490.0,474.1 1490.3,472.7 1490.6,477.7 1491.0,472.5 1491.3,480.3 1491.6,472.6 1492.0,477.6 1492.3,478.8 1492.6,475.6 1493.0,473.3 1493.3,468.7 1493.7,469.8 1494.0,477.2 1494.3,472.7 1494.7,476.8 1495.0,471.6 1495.3,474.5 1495.7,474.9 1496.0,477.6 1496.3,473.3 1496.7,477.7 1497.0,468.2 1497.3,469.6 1497.7,475.2 1498.0,474.2 1498.3,476.7 1498.7,468.2 1499.0,475.9 1499.3,467.9 1499.7,480.1 1500.0,471.8 1500.3,472.9 1500.7,477.8 1501.0,476.2 1501.3,472.5 1501.7,474.0 1502.0,481.6 1502.3,470.9 1502.7,481.0 1503.0,472.6 1503.3,469.9 1503.7,479.9 1504.0,477.4 1504.3,475.2 1504.7,479.0 1505.0,474.2 1505.3,473.1 1505.7,477.2 1506.0,476.1 1506.3,472.3 1506.7,480.1 1507.0,476.8 1507.3,481.6 1507.7,485.0 1508.0,470.0 1508.3,477.4 1508.7,476.7 1509.0,470.4 1509.3,477.2 1509.7,464.7 1510.0,470.1 1510.3,478.1 1510.7,469.2 1511.0,472.0 1511.3,474.3 1511.7,469.3 1512.0,471.7 1512.3,475.9 1512.7,474.8 1513.0,473.4 1513.3,481.5 1513.7,473.5 1514.0,477.4 1514.3,474.7 1514.7,468.8 1515.0,470.6 1515.3,476.5 1515.7,468.5 1516.0,475.1 1516.3,476.9 1516.7,469.8 1517.0,464.4 1517.3,478.7 1517.7,481.2 1518.0,475.2 1518.3,481.2 1518.7,476.6 1519.0,472.0 1519.3,474.8 1519.7,477.0 1520.0,463.6 1520.3,475.2 1520.7,479.2 1521.0,477.1 1521.3,472.7 1521.7,472.8 1522.0,466.4 1522.3,477.4 1522.7,465.1 1523.0,477.2 1523.3,475.6 1523.7,472.3 1524.0,476.0 1524.3,477.9 1524.7,471.1 1525.0,468.4 1525.3,477.6 1525.7,473.5 1526.0,474.9 1526.3,469.4 1526.7,479.6 1527.0,477.5 1527.3,468.3 1527.7,466.3 1528.0,474.8 1528.3,473.0 1528.7,471.1 1529.0,470.7 1529.3,473.3 1529.7,474.2 1530.0,474.4 1530.3,483.0 1530.7,480.0 1531.0,464.3 1531.3,477.3 1531.7,479.3 1532.0,464.7 1532.3,471.0 1532.7,471.8 1533.0,476.7 1533.3,475.2 1533.7,474.8 1534.0,474.4 1534.3,477.4 1534.7,474.9 1535.0,469.6 1535.3,469.6 1535.7,470.8 1536.0,483.6 1536.3,475.1 1536.7,476.5 1537.0,480.5 1537.3,475.1 1537.7,465.4 1538.0,474.8 1538.3,471.0 1538.7,471.2 1539.0,470.5 1539.3,472.8 1539.7,468.4 1540.0,477.4 1540.3,476.0 1540.7,475.2 1541.0,474.9 1541.4,469.0 1541.7,476.9 1542.0,469.3 1542.4,466.6 1542.7,471.9 1543.0,473.8 1543.4,474.0 1543.7,477.7 1544.0,471.7 1544.4,478.3 1544.7,479.7 1545.0,474.7 1545.4,469.0 1545.7,478.8 1546.0,473.4 1546.4,474.0 1546.7,465.6 1547.0,463.5 1547.4,480.1 1547.7,476.9 1548.0,470.6 1548.4,472.0 1548.7,469.0 1549.0,473.9 1549.4,465.6 1549.7,477.4 1550.0,475.8 1550.4,478.8 1550.7,474.6 1551.0,476.9 1551.4,476.2 1551.7,476.6 1552.0,471.4 1552.4,479.1 1552.7,469.4 1553.0,472.6 1553.4,474.5 1553.7,484.2 1554.0,471.0 1554.4,476.7 1554.7,476.8 1555.0,468.4 1555.4,485.1 1555.7,479.6 1556.0,476.6 1556.4,474.6 1556.7,478.7 1557.0,466.3 1557.4,482.3 1557.7,474.4 1558.0,479.9 1558.4,471.7 1558.7,473.4 1559.0,466.4 1559.4,474.9 1559.7,475.8 1560.0,473.3 1560.4,482.6 1560.7,475.7 1561.0,475.8 1561.4,472.5 1561.7,479.6 1562.0,473.8 1562.4,476.1 1562.7,472.6 1563.0,481.4 1563.4,482.4 1563.7,475.3"/>
<polyline fill="none" stroke="#ff00ff" stroke-width="2.8" stroke-linejoin="round" points="956.6,477.7 956.9,477.6 957.3,475.8 957.6,471.2 957.9,462.4 958.3,474.1 958.6,472.4 958.9,474.2 959.3,482.7 959.6,475.3 959.9,476.2 960.3,478.3 960.6,473.8 960.9,471.8 961.3,471.7 961.6,480.3 961.9,479.2 962.3,473.0 962.6,483.3 962.9,478.3 963.3,470.2 963.6,481.2 963.9,477.4 964.3,471.2 964.6,481.6 964.9,476.5 965.3,476.5 965.6,482.9 965.9,468.0 966.3,473.3 966.6,478.2 966.9,482.2 967.3,477.5 967.6,476.0 967.9,476.1 968.3,481.4 968.6,485.9 968.9,474.8 969.3,471.8 969.6,481.1 969.9,481.5 970.3,479.0 970.6,487.4 970.9,488.7 971.3,481.7 971.6,483.2 971.9,488.3 972.3,483.3 972.6,478.5 972.9,485.8 973.3,480.0 973.6,488.5 973.9,484.4 974.3,486.4 974.6,490.4 974.9,487.3 975.3,484.8 975.6,482.9 975.9,497.2 976.3,496.1 976.6,480.5 976.9,482.9 977.3,491.5 977.6,485.5 977.9,488.7 978.3,492.9 978.6,489.4 978.9,488.2 979.3,485.6 979.6,488.5 980.0,491.7 980.3,498.1 980.6,494.7 981.0,488.2 981.3,494.1 981.6,490.0 982.0,481.8 982.3,489.0 982.6,494.7 983.0,485.5 983.3,494.6 983.6,488.2 984.0,490.0 984.3,483.8 984.6,500.7 985.0,492.4 985.3,497.2 985.6,487.9 986.0,482.8 986.3,496.6 986.6,486.8 987.0,499.0 987.3,489.7 987.6,499.0 988.0,487.0 988.3,481.7 988.6,494.4 989.0,490.6 989.3,491.0 989.6,496.4 990.0,486.6 990.3,484.6 990.6,485.3 991.0,482.7 991.3,482.1 991.6,484.9 992.0,484.8 992.3,489.3 992.6,485.5 993.0,491.0 993.3,495.6 993.6,490.2 994.0,493.9 994.3,487.2 994.6,493.3 995.0,494.2 995.3,488.6 995.6,484.1 996.0,490.9 996.3,491.9 996.6,499.2 997.0,489.8 997.3,500.2 997.6,479.8 998.0,490.4 998.3,489.5 998.6,490.1 999.0,489.4 999.3,491.9 999.6,500.5 1000.0,491.5 1000.3,498.3 1000.6,491.9 1001.0,493.0 1001.3,480.6 1001.6,493.0 1002.0,495.7 1002.3,487.0 1002.6,489.7 1003.0,486.7 1003.3,503.5 1003.6,488.1 1004.0,489.4 1004.3,481.1 1004.6,485.3 1005.0,494.2 1005.3,486.9 1005.6,481.4 1006.0,491.9 1006.3,493.8 1006.6,494.8 1007.0,495.4 1007.3,490.6 1007.6,507.6 1008.0,491.0 1008.3,496.0 1008.6,487.6 1009.0,490.9 1009.3,486.5 1009.6,495.2 1010.0,492.2 1010.3,489.3 1010.6,484.4 1011.0,497.1 1011.3,498.5 1011.6,499.8 1012.0,494.2 1012.3,498.1 1012.6,499.3 1013.0,497.4 1013.3,502.0 1013.6,494.3 1014.0,496.2 1014.3,487.7 1014.6,505.6 1015.0,491.7 1015.3,497.1 1015.6,498.7 1016.0,491.7 1016.3,495.6 1016.6,499.3 1017.0,495.2 1017.3,494.7 1017.6,494.7 1018.0,492.9 1018.3,495.7 1018.6,498.4 1019.0,499.0 1019.3,502.2 1019.6,497.1 1020.0,494.6 1020.3,501.3 1020.6,499.0 1021.0,502.3 1021.3,498.4 1021.6,500.2 1022.0,500.1 1022.3,501.4 1022.6,493.2 1023.0,497.5 1023.3,499.2 1023.6,506.6 1024.0,498.0 1024.3,500.7 1024.6,497.7 1025.0,488.6 1025.3,504.8 1025.6,502.1 1026.0,505.0 1026.3,492.4 1026.7,500.5 1027.0,500.1 1027.3,488.9 1027.7,501.7 1028.0,496.6 1028.3,502.0 1028.7,491.7 1029.0,495.6 1029.3,496.5 1029.7,492.7 1030.0,500.4 1030.3,506.5 1030.7,500.2 1031.0,503.4 1031.3,507.6 1031.7,503.3 1032.0,498.9 1032.3,491.6 1032.7,502.6 1033.0,499.4 1033.3,498.9 1033.7,504.7 1034.0,503.9 1034.3,493.9 1034.7,502.7 1035.0,500.1 1035.3,505.8 1035.7,501.7 1036.0,507.7 1036.3,498.8 1036.7,500.2 1037.0,498.6 1037.3,501.5 1037.7,501.3 1038.0,510.1 1038.3,496.3 1038.7,503.3 1039.0,497.5 1039.3,496.3 1039.7,500.5 1040.0,496.3 1040.3,504.4 1040.7,500.2 1041.0,501.3 1041.3,506.7 1041.7,511.5 1042.0,501.7 1042.3,495.2 1042.7,502.7 1043.0,504.6 1043.3,510.2 1043.7,504.8 1044.0,501.0 1044.3,509.6 1044.7,510.5 1045.0,504.7 1045.3,507.1 1045.7,507.5 1046.0,518.1 1046.3,503.4 1046.7,504.4 1047.0,506.0 1047.3,510.0 1047.7,505.4 1048.0,509.3 1048.3,511.2 1048.7,516.4 1049.0,506.6 1049.3,505.5 1049.7,506.1 1050.0,499.2 1050.3,500.5 1050.7,508.7 1051.0,508.9 1051.3,520.3 1051.7,514.2 1052.0,512.2 1052.3,515.5 1052.7,505.9 1053.0,506.4 1053.3,505.7 1053.7,508.5 1054.0,519.3 1054.3,508.3 1054.7,506.7 1055.0,510.0 1055.3,513.8 1055.7,512.3 1056.0,514.2 1056.3,502.9 1056.7,506.6 1057.0,509.6 1057.3,511.2 1057.7,517.1 1058.0,503.2 1058.3,514.0 1058.7,509.8 1059.0,514.1 1059.3,508.5 1059.7,505.2 1060.0,517.0 1060.3,513.1 1060.7,503.1 1061.0,515.1 1061.3,507.5 1061.7,511.7 1062.0,512.2 1062.3,504.1 1062.7,519.2 1063.0,510.2 1063.3,520.0 1063.7,515.0 1064.0,515.2 1064.3,514.2 1064.7,522.0 1065.0,508.6 1065.3,509.8 1065.7,510.4 1066.0,518.7 1066.3,518.3 1066.7,514.1 1067.0,515.0 1067.3,506.6 1067.7,520.7 1068.0,512.8 1068.3,514.8 1068.7,513.0 1069.0,517.4 1069.3,513.6 1069.7,515.2 1070.0,515.3 1070.3,512.6 1070.7,512.3 1071.0,516.9 1071.3,516.9 1071.7,518.6 1072.0,524.1 1072.3,510.0 1072.7,507.4 1073.0,513.3 1073.3,521.5 1073.7,515.8 1074.0,508.0 1074.4,523.2 1074.7,518.5 1075.0,509.7 1075.4,512.8 1075.7,517.0 1076.0,514.2 1076.4,516.2 1076.7,519.2 1077.0,517.0 1077.4,523.2 1077.7,516.4 1078.0,523.9 1078.4,514.8 1078.7,512.4 1079.0,508.4 1079.4,513.9 1079.7,518.2 1080.0,522.1 1080.4,506.7 1080.7,517.9 1081.0,514.0 1081.4,521.4 1081.7,516.2 1082.0,519.8 1082.4,526.5 1082.7,519.4 1083.0,517.8 1083.4,523.2 1083.7,520.3 1084.0,518.3 1084.4,512.2 1084.7,517.8 1085.0,512.2 1085.4,520.4 1085.7,522.1 1086.0,520.0 1086.4,527.8 1086.7,515.0 1087.0,521.8 1087.4,520.3 1087.7,515.1 1088.0,522.5 1088.4,524.0 1088.7,525.4 1089.0,519.9 1089.4,523.5 1089.7,518.0 1090.0,527.3 1090.4,528.3 1090.7,520.9 1091.0,520.9 1091.4,515.0 1091.7,519.4 1092.0,517.4 1092.4,519.6 1092.7,512.1 1093.0,524.1 1093.4,513.7 1093.7,519.4 1094.0,515.5 1094.4,510.2 1094.7,524.7 1095.0,519.3 1095.4,501.9 1095.7,511.5 1096.0,509.9 1096.4,505.7 1096.7,525.2 1097.0,502.1 1097.4,520.2 1097.7,498.0 1098.0,518.5 1098.4,505.3 1098.7,493.2 1099.0,509.9 1099.4,511.0 1099.7,501.1 1100.0,514.4 1100.4,495.1 1100.7,516.8 1101.0,510.0 1101.4,518.0 1101.7,502.5 1102.0,511.0 1102.4,501.1 1102.7,511.1 1103.0,507.3 1103.4,513.4 1103.7,497.0 1104.0,509.6 1104.4,509.0 1104.7,517.2 1105.0,504.3 1105.4,504.3 1105.7,509.8 1106.0,508.2 1106.4,486.0 1106.7,501.1 1107.0,508.4 1107.4,499.1 1107.7,487.7 1108.0,497.8 1108.4,500.0 1108.7,493.3 1109.0,500.7 1109.4,492.3 1109.7,498.7 1110.0,500.7 1110.4,512.8 1110.7,502.6 1111.0,509.2 1111.4,502.1 1111.7,492.8 1112.0,493.1 1112.4,507.6 1112.7,490.7 1113.0,491.2 1113.4,509.8 1113.7,497.7 1114.0,495.6 1114.4,515.5 1114.7,496.5 1115.0,506.8 1115.4,501.5 1115.7,502.2 1116.0,500.9 1116.4,507.5 1116.7,510.4 1117.0,492.2 1117.4,510.6 1117.7,498.1 1118.0,498.7 1118.4,505.3 1118.7,496.5 1119.0,494.0 1119.4,512.4 1119.7,497.2 1120.0,485.8 1120.4,481.1 1120.7,501.5 1121.1,496.7 1121.4,509.5 1121.7,486.6 1122.1,481.8 1122.4,493.1 1122.7,501.6 1123.1,501.1 1123.4,490.8 1123.7,485.7 1124.1,491.6 1124.4,502.1 1124.7,490.0 1125.1,487.3 1125.4,494.1 1125.7,492.2 1126.1,491.6 1126.4,506.4 1126.7,495.6 1127.1,491.4 1127.4,487.7 1127.7,488.3 1128.1,494.1 1128.4,495.7 1128.7,485.2 1129.1,486.0 1129.4,488.2 1129.7,483.3 1130.1,499.2 1130.4,484.1 1130.7,492.4 1131.1,501.8 1131.4,484.1 1131.7,485.4 1132.1,490.9 1132.4,496.3 1132.7,491.5 1133.1,489.5 1133.4,497.8 1133.7,482.7 1134.1,480.9 1134.4,490.3 1134.7,485.2 1135.1,491.0 1135.4,492.9 1135.7,476.7 1136.1,469.7 1136.4,491.3 1136.7,487.4 1137.1,490.8 1137.4,482.3 1137.7,496.5 1138.1,489.0 1138.4,494.9 1138.7,497.4 1139.1,490.8 1139.4,488.9 1139.7,483.9 1140.1,509.4 1140.4,477.9 1140.7,494.0 1141.1,476.2 1141.4,481.2 1141.7,498.7 1142.1,481.3 1142.4,495.2 1142.7,483.4 1143.1,493.1 1143.4,474.4 1143.7,476.3 1144.1,496.8 1144.4,487.7 1144.7,476.7 1145.1,481.0 1145.4,464.0 1145.7,482.2 1146.1,474.0 1146.4,476.8 1146.7,496.8 1147.1,480.1 1147.4,479.3 1147.7,475.2 1148.1,489.6 1148.4,488.5 1148.7,477.0 1149.1,470.1 1149.4,481.1 1149.7,484.4 1150.1,461.2 1150.4,492.2 1150.7,474.9 1151.1,482.8 1151.4,475.2 1151.7,475.0 1152.1,488.5 1152.4,481.3 1152.7,467.6 1153.1,483.5 1153.4,486.5 1153.7,478.2 1154.1,488.4 1154.4,471.7 1154.7,487.2 1155.1,481.0 1155.4,480.5 1155.7,490.4 1156.1,484.6 1156.4,475.8 1156.7,482.2 1157.1,471.9 1157.4,481.4 1157.7,487.8 1158.1,486.5 1158.4,470.0 1158.7,473.5 1159.1,480.6 1159.4,480.3 1159.7,469.2 1160.1,477.5 1160.4,479.1 1160.7,493.3 1161.1,478.2 1161.4,475.7 1161.7,467.3 1162.1,460.6 1162.4,486.0 1162.7,475.3 1163.1,468.6 1163.4,481.3 1163.7,476.3 1164.1,470.4 1164.4,476.6 1164.7,466.1 1165.1,475.0 1165.4,471.7 1165.7,464.4 1166.1,464.3 1166.4,460.9 1166.8,474.5 1167.1,465.2 1167.4,457.2 1167.8,471.8 1168.1,469.5 1168.4,465.8 1168.8,467.8 1169.1,463.1 1169.4,461.5 1169.8,474.4 1170.1,459.7 1170.4,457.1 1170.8,458.1 1171.1,470.6 1171.4,459.2 1171.8,463.5 1172.1,460.7 1172.4,456.6 1172.8,463.6 1173.1,463.6 1173.4,475.5 1173.8,462.0 1174.1,465.3 1174.4,475.4 1174.8,471.7 1175.1,466.9 1175.4,468.4 1175.8,462.7 1176.1,467.6 1176.4,464.2 1176.8,455.8 1177.1,472.4 1177.4,462.0 1177.8,465.2 1178.1,458.7 1178.4,454.3 1178.8,450.8 1179.1,445.9 1179.4,464.4 1179.8,450.3 1180.1,457.3 1180.4,460.2 1180.8,451.2 1181.1,456.7 1181.4,461.9 1181.8,458.0 1182.1,463.8 1182.4,443.8 1182.8,463.5 1183.1,465.5 1183.4,450.4 1183.8,462.9 1184.1,455.7 1184.4,456.4 1184.8,461.0 1185.1,448.5 1185.4,462.3 1185.8,452.7 1186.1,461.6 1186.4,456.0 1186.8,458.7 1187.1,451.4 1187.4,455.9 1187.8,448.9 1188.1,451.6 1188.4,447.0 1188.8,454.9 1189.1,449.0 1189.4,469.1 1189.8,449.2 1190.1,441.1 1190.4,460.9 1190.8,451.6 1191.1,456.7 1191.4,453.8 1191.8,448.4 1192.1,447.9 1192.4,446.1 1192.8,461.2 1193.1,456.3 1193.4,444.0 1193.8,457.9 1194.1,455.2 1194.4,441.3 1194.8,446.1 1195.1,453.4 1195.4,452.4 1195.8,463.2 1196.1,450.2 1196.4,455.9 1196.8,446.8 1197.1,448.8 1197.4,449.4 1197.8,448.7 1198.1,450.2 1198.4,449.2 1198.8,438.2 1199.1,454.0 1199.4,440.8 1199.8,452.9 1200.1,451.6 1200.4,451.7 1200.8,443.4 1201.1,448.7 1201.4,451.2 1201.8,443.1 1202.1,436.9 1202.4,456.9 1202.8,444.3 1203.1,442.5 1203.4,439.0 1203.8,437.3 1204.1,428.8 1204.4,437.9 1204.8,437.6 1205.1,438.7 1205.4,456.5 1205.8,443.1 1206.1,441.1 1206.4,444.0 1206.8,438.2 1207.1,451.3 1207.4,450.7 1207.8,437.7 1208.1,448.7 1208.4,447.0 1208.8,458.6 1209.1,449.8 1209.4,432.4 1209.8,437.6 1210.1,446.2 1210.4,444.5 1210.8,448.6 1211.1,439.4 1211.4,441.7 1211.8,449.4 1212.1,443.4 1212.4,439.1 1212.8,454.7 1213.1,438.3 1213.5,439.7 1213.8,432.7 1214.1,439.9 1214.5,426.5 1214.8,447.8 1215.1,422.8 1215.5,442.9 1215.8,431.2 1216.1,439.0 1216.5,446.4 1216.8,436.1 1217.1,439.2 1217.5,429.8 1217.8,433.3 1218.1,443.2 1218.5,429.9 1218.8,440.4 1219.1,435.6 1219.5,431.4 1219.8,440.3 1220.1,427.2 1220.5,435.6 1220.8,424.2 1221.1,431.1 1221.5,424.0 1221.8,434.0 1222.1,438.2 1222.5,438.6 1222.8,434.5 1223.1,432.9 1223.5,428.0 1223.8,428.3 1224.1,424.2 1224.5,444.3 1224.8,429.5 1225.1,428.9 1225.5,430.6 1225.8,423.9 1226.1,440.5 1226.5,426.1 1226.8,422.3 1227.1,445.2 1227.5,436.9 1227.8,433.1 1228.1,425.1 1228.5,438.1 1228.8,428.1 1229.1,429.7 1229.5,435.5 1229.8,428.7 1230.1,424.2 1230.5,412.3 1230.8,434.8 1231.1,411.2 1231.5,421.2 1231.8,419.9 1232.1,422.1 1232.5,422.7 1232.8,428.5 1233.1,422.8 1233.5,408.0 1233.8,424.4 1234.1,416.0 1234.5,421.2 1234.8,415.0 1235.1,422.8 1235.5,421.5 1235.8,430.3 1236.1,426.2 1236.5,429.7 1236.8,412.7 1237.1,432.3 1237.5,419.0 1237.8,425.4 1238.1,427.0 1238.5,428.9 1238.8,421.1 1239.1,412.2 1239.5,427.6 1239.8,430.6 1240.1,432.6 1240.5,429.6 1240.8,432.8 1241.1,427.9 1241.5,418.5 1241.8,426.4 1242.1,413.4 1242.5,420.6 1242.8,421.6 1243.1,428.5 1243.5,417.6 1243.8,418.9 1244.1,416.6 1244.5,423.6 1244.8,408.0 1245.1,404.1 1245.5,431.6 1245.8,428.3 1246.1,424.2 1246.5,422.0 1246.8,415.1 1247.1,408.6 1247.5,422.1 1247.8,411.0 1248.1,425.4 1248.5,420.5 1248.8,408.7 1249.1,420.2 1249.5,406.0 1249.8,413.1 1250.1,426.9 1250.5,413.0 1250.8,415.8 1251.1,413.2 1251.5,413.9 1251.8,424.4 1252.1,420.7 1252.5,421.0 1252.8,406.5 1253.1,415.5 1253.5,411.9 1253.8,418.5 1254.1,410.0 1254.5,424.0 1254.8,435.5 1255.1,418.0 1255.5,413.0 1255.8,422.6 1256.1,405.4 1256.5,413.1 1256.8,422.9 1257.1,414.1 1257.5,416.5 1257.8,426.4 1258.1,418.2 1258.5,420.6 1258.8,409.6 1259.1,431.5 1259.5,413.7 1259.8,419.6 1260.2,416.9 1260.5,415.9 1260.8,407.4 1261.2,414.2 1261.5,416.8 1261.8,425.9 1262.2,417.2 1262.5,412.9 1262.8,417.4 1263.2,417.1 1263.5,415.1 1263.8,417.6 1264.2,431.5 1264.5,415.7 1264.8,406.4 1265.2,411.7 1265.5,413.3 1265.8,410.2 1266.2,417.0 1266.5,422.0 1266.8,401.2 1267.2,407.2 1267.5,411.6 1267.8,419.5 1268.2,402.0 1268.5,421.9 1268.8,425.5 1269.2,423.1 1269.5,416.3 1269.8,405.2 1270.2,410.8 1270.5,408.4 1270.8,415.1 1271.2,423.2 1271.5,418.3 1271.8,407.8 1272.2,421.0 1272.5,422.4 1272.8,407.1 1273.2,407.0 1273.5,410.4 1273.8,416.2 1274.2,406.5 1274.5,422.1 1274.8,414.8 1275.2,419.4 1275.5,409.4 1275.8,407.2 1276.2,416.3 1276.5,428.1 1276.8,419.0 1277.2,423.1 1277.5,410.3 1277.8,409.1 1278.2,413.2 1278.5,417.6 1278.8,413.4 1279.2,404.5 1279.5,401.9 1279.8,415.1 1280.2,412.0 1280.5,431.1 1280.8,409.1 1281.2,406.5 1281.5,418.4 1281.8,411.1 1282.2,413.7 1282.5,423.2 1282.8,403.8 1283.2,410.1 1283.5,408.7 1283.8,408.5 1284.2,408.6 1284.5,411.4 1284.8,423.4 1285.2,412.4 1285.5,406.5 1285.8,412.8 1286.2,409.0 1286.5,414.6 1286.8,413.7 1287.2,408.6 1287.5,412.1 1287.8,418.5 1288.2,424.0 1288.5,413.9 1288.8,424.5 1289.2,422.3 1289.5,405.4 1289.8,411.3 1290.2,396.6 1290.5,407.3 1290.8,412.7 1291.2,408.9 1291.5,415.6 1291.8,412.7 1292.2,417.8 1292.5,410.6 1292.8,418.6 1293.2,416.6 1293.5,417.5 1293.8,422.6 1294.2,410.6 1294.5,429.0 1294.8,416.6 1295.2,419.2 1295.5,415.6 1295.8,414.1 1296.2,407.6 1296.5,414.0 1296.8,407.2 1297.2,408.3 1297.5,428.2 1297.8,417.5 1298.2,415.6 1298.5,410.5 1298.8,417.5 1299.2,417.8 1299.5,422.1 1299.8,416.8 1300.2,419.1 1300.5,426.6 1300.8,421.8 1301.2,425.7 1301.5,406.8 1301.8,416.4 1302.2,426.9 1302.5,419.7 1302.8,428.8 1303.2,416.8 1303.5,427.1 1303.8,406.0 1304.2,413.8 1304.5,420.4 1304.8,411.0 1305.2,405.0 1305.5,425.3 1305.8,432.1 1306.2,421.9 1306.5,410.5 1306.8,419.7 1307.2,410.6 1307.5,405.5 1307.9,424.2 1308.2,424.2 1308.5,421.2 1308.9,411.4 1309.2,402.8 1309.5,424.9 1309.9,420.3 1310.2,428.2 1310.5,409.7 1310.9,404.4 1311.2,427.8 1311.5,432.2 1311.9,428.9 1312.2,426.1 1312.5,422.8 1312.9,426.4 1313.2,417.7 1313.5,437.2 1313.9,433.5 1314.2,409.8 1314.5,431.1 1314.9,406.2 1315.2,424.7 1315.5,420.3 1315.9,433.4 1316.2,423.8 1316.5,421.6 1316.9,431.9 1317.2,417.9 1317.5,417.9 1317.9,433.4 1318.2,428.1 1318.5,425.0 1318.9,419.8 1319.2,423.3 1319.5,421.8 1319.9,426.9 1320.2,426.1 1320.5,424.2 1320.9,425.0 1321.2,435.9 1321.5,430.3 1321.9,428.7 1322.2,425.4 1322.5,428.4 1322.9,426.1 1323.2,428.6 1323.5,429.9 1323.9,422.6 1324.2,422.5 1324.5,410.7 1324.9,419.6 1325.2,428.2 1325.5,441.8 1325.9,442.4 1326.2,425.8 1326.5,411.7 1326.9,430.5 1327.2,431.4 1327.5,442.1 1327.9,423.9 1328.2,427.5 1328.5,427.9 1328.9,430.0 1329.2,421.7 1329.5,432.9 1329.9,425.8 1330.2,431.5 1330.5,430.3 1330.9,415.8 1331.2,432.7 1331.5,423.1 1331.9,424.4 1332.2,425.1 1332.5,422.5 1332.9,430.4 1333.2,415.9 1333.5,427.8 1333.9,433.5 1334.2,435.9 1334.5,440.5 1334.9,443.4 1335.2,440.9 1335.5,433.2 1335.9,429.4 1336.2,423.4 1336.5,429.7 1336.9,436.0 1337.2,433.3 1337.5,429.9 1337.9,444.2 1338.2,449.1 1338.5,435.3 1338.9,446.2 1339.2,441.5 1339.5,431.7 1339.9,439.2 1340.2,434.6 1340.5,447.0 1340.9,447.3 1341.2,442.8 1341.5,437.9 1341.9,443.5 1342.2,442.9 1342.5,448.9 1342.9,448.7 1343.2,446.6 1343.5,433.7 1343.9,446.3 1344.2,449.2 1344.5,440.2 1344.9,436.8 1345.2,448.0 1345.5,432.7 1345.9,440.1 1346.2,441.8 1346.5,437.6 1346.9,431.7 1347.2,455.6 1347.5,442.3 1347.9,435.7 1348.2,456.1 1348.5,445.9 1348.9,453.6 1349.2,454.2 1349.5,437.8 1349.9,447.2 1350.2,446.2 1350.5,434.3 1350.9,432.3 1351.2,444.1 1351.5,437.5 1351.9,429.0 1352.2,431.2 1352.5,437.3 1352.9,434.5 1353.2,453.0 1353.5,457.0 1353.9,450.6 1354.2,444.1 1354.6,441.6 1354.9,446.4 1355.2,465.9 1355.6,460.7 1355.9,447.4 1356.2,450.8 1356.6,460.2 1356.9,451.9 1357.2,452.1 1357.6,458.2 1357.9,460.7 1358.2,456.1 1358.6,470.0 1358.9,457.9 1359.2,455.1 1359.6,446.0 1359.9,450.9 1360.2,457.1 1360.6,456.8 1360.9,450.1 1361.2,473.7 1361.6,462.5 1361.9,461.4 1362.2,458.8 1362.6,459.0 1362.9,448.1 1363.2,461.0 1363.6,454.7 1363.9,453.2 1364.2,471.4 1364.6,462.1 1364.9,464.3 1365.2,461.8 1365.6,460.0 1365.9,456.0 1366.2,468.0 1366.6,457.8 1366.9,457.0 1367.2,454.9 1367.6,466.9 1367.9,467.9 1368.2,469.4 1368.6,464.9 1368.9,464.8 1369.2,473.9 1369.6,458.1 1369.9,470.8 1370.2,468.2 1370.6,464.6 1370.9,462.8 1371.2,459.2 1371.6,459.8 1371.9,462.0 1372.2,467.0 1372.6,481.2 1372.9,465.9 1373.2,469.0 1373.6,467.8 1373.9,462.5 1374.2,465.6 1374.6,479.8 1374.9,471.7 1375.2,463.4 1375.6,460.5 1375.9,480.2 1376.2,471.1 1376.6,462.8 1376.9,477.7 1377.2,472.3 1377.6,470.3 1377.9,473.9 1378.2,482.2 1378.6,469.4 1378.9,479.4 1379.2,476.0 1379.6,472.5 1379.9,484.5 1380.2,474.2 1380.6,477.3 1380.9,474.0 1381.2,469.7 1381.6,479.0 1381.9,471.5 1382.2,487.4 1382.6,486.5 1382.9,475.1 1383.2,475.3 1383.6,474.2 1383.9,488.5 1384.2,472.8 1384.6,473.5 1384.9,474.6 1385.2,475.3 1385.6,488.4 1385.9,478.6 1386.2,481.9 1386.6,480.2 1386.9,480.6 1387.2,496.2 1387.6,491.7 1387.9,485.1 1388.2,479.0 1388.6,495.3 1388.9,483.7 1389.2,478.4 1389.6,479.2 1389.9,484.1 1390.2,487.9 1390.6,470.7 1390.9,486.7 1391.2,484.6 1391.6,488.0 1391.9,480.9 1392.2,491.0 1392.6,483.5 1392.9,492.3 1393.2,498.9 1393.6,488.2 1393.9,489.7 1394.2,489.0 1394.6,478.8 1394.9,490.4 1395.2,480.3 1395.6,475.2 1395.9,488.4 1396.2,492.5 1396.6,484.8 1396.9,480.9 1397.2,496.8 1397.6,481.7 1397.9,495.8 1398.2,489.0 1398.6,485.0 1398.9,492.5 1399.2,478.6 1399.6,487.7 1399.9,491.6 1400.2,491.5 1400.6,499.1 1400.9,487.0 1401.3,495.3 1401.6,491.8 1401.9,496.7 1402.3,495.1 1402.6,499.1 1402.9,492.9 1403.3,500.9 1403.6,494.0 1403.9,490.5 1404.3,494.6 1404.6,495.3 1404.9,502.5 1405.3,489.2 1405.6,495.3 1405.9,489.1 1406.3,500.3 1406.6,500.2 1406.9,499.2 1407.3,489.1 1407.6,491.0 1407.9,496.1 1408.3,498.6 1408.6,500.6 1408.9,494.8 1409.3,498.1 1409.6,495.7 1409.9,495.3 1410.3,496.3 1410.6,492.8 1410.9,503.1 1411.3,505.5 1411.6,501.7 1411.9,496.7 1412.3,506.4 1412.6,494.6 1412.9,505.2 1413.3,504.5 1413.6,505.9 1413.9,491.6 1414.3,502.0 1414.6,498.1 1414.9,504.6 1415.3,501.8 1415.6,490.8 1415.9,504.5 1416.3,513.4 1416.6,504.1 1416.9,505.7 1417.3,503.0 1417.6,505.0 1417.9,500.1 1418.3,510.9 1418.6,514.3 1418.9,499.9 1419.3,506.0 1419.6,502.0 1419.9,511.9 1420.3,505.5 1420.6,508.6 1420.9,503.9 1421.3,510.2 1421.6,508.9 1421.9,507.1 1422.3,508.3 1422.6,498.9 1422.9,510.1 1423.3,501.4 1423.6,503.7 1423.9,506.8 1424.3,510.2 1424.6,511.1 1424.9,508.4 1425.3,508.5 1425.6,510.9 1425.9,502.8 1426.3,508.2 1426.6,504.2 1426.9,500.4 1427.3,503.2 1427.6,513.9 1427.9,506.2 1428.3,501.5 1428.6,509.5 1428.9,506.7 1429.3,507.5 1429.6,508.4 1429.9,511.4 1430.3,511.2 1430.6,509.8 1430.9,511.5 1431.3,510.1 1431.6,512.1 1431.9,513.4 1432.3,509.2 1432.6,517.6 1432.9,502.9 1433.3,503.6 1433.6,503.2 1433.9,508.4 1434.3,505.5 1434.6,501.8 1434.9,495.2 1435.3,502.3 1435.6,501.4 1435.9,502.0 1436.3,513.1 1436.6,514.5 1436.9,511.3 1437.3,508.9 1437.6,514.3 1437.9,510.0 1438.3,508.6 1438.6,507.6 1438.9,514.9 1439.3,514.8 1439.6,512.9 1439.9,514.0 1440.3,514.9 1440.6,511.6 1440.9,518.0 1441.3,523.4 1441.6,515.5 1441.9,509.1 1442.3,516.4 1442.6,517.6 1442.9,519.6 1443.3,521.6 1443.6,520.6 1443.9,521.9 1444.3,517.1 1444.6,519.1 1444.9,514.5 1445.3,514.9 1445.6,521.1 1445.9,516.8 1446.3,511.5 1446.6,509.5 1447.0,521.1 1447.3,516.4 1447.6,515.8 1448.0,514.7 1448.3,520.0 1448.6,517.9 1449.0,517.3 1449.3,517.2 1449.6,517.8 1450.0,522.5 1450.3,519.5 1450.6,524.4 1451.0,510.5 1451.3,515.6 1451.6,522.0 1452.0,515.0 1452.3,516.9 1452.6,515.3 1453.0,516.3 1453.3,516.0 1453.6,521.8 1454.0,516.3 1454.3,511.7 1454.6,512.5 1455.0,512.2 1455.3,510.2 1455.6,508.5 1456.0,514.2 1456.3,516.6 1456.6,512.3 1457.0,516.2 1457.3,519.7 1457.6,520.5 1458.0,526.8 1458.3,519.2 1458.6,517.6 1459.0,522.8 1459.3,516.8 1459.6,520.3 1460.0,513.5 1460.3,524.1 1460.6,531.5 1461.0,520.2 1461.3,520.7 1461.6,524.7 1462.0,526.6 1462.3,515.9 1462.6,521.8 1463.0,523.4 1463.3,523.2 1463.6,524.4 1464.0,522.7 1464.3,522.5 1464.6,519.1 1465.0,530.9 1465.3,524.1 1465.6,530.5 1466.0,524.1 1466.3,525.0 1466.6,524.2 1467.0,527.3 1467.3,525.3 1467.6,519.0 1468.0,536.2 1468.3,526.5 1468.6,522.9 1469.0,519.8 1469.3,522.9 1469.6,525.0 1470.0,522.7 1470.3,529.0 1470.6,520.7 1471.0,527.4 1471.3,528.1 1471.6,523.2 1472.0,523.1 1472.3,524.2 1472.6,528.2 1473.0,526.5 1473.3,526.4 1473.6,529.1 1474.0,532.7 1474.3,525.7 1474.6,523.6 1475.0,527.8 1475.3,528.0 1475.6,535.2 1476.0,532.2 1476.3,529.4 1476.6,526.1 1477.0,534.3 1477.3,526.9 1477.6,531.3 1478.0,531.6 1478.3,534.8 1478.6,527.2 1479.0,536.3 1479.3,534.2 1479.6,529.2 1480.0,529.6 1480.3,523.0 1480.6,532.4 1481.0,532.8 1481.3,527.1 1481.6,530.6 1482.0,526.3 1482.3,540.4 1482.6,528.3 1483.0,531.0 1483.3,532.8 1483.6,529.3 1484.0,532.5 1484.3,534.5 1484.6,538.9 1485.0,535.5 1485.3,540.0 1485.6,526.7 1486.0,528.3 1486.3,526.9 1486.6,531.3 1487.0,529.4 1487.3,529.7 1487.6,531.7 1488.0,532.6 1488.3,528.1 1488.6,532.2 1489.0,531.6 1489.3,531.0 1489.6,536.7 1490.0,525.0 1490.3,530.0 1490.6,529.8 1491.0,530.2 1491.3,530.2 1491.6,529.2 1492.0,529.9 1492.3,534.4 1492.6,534.2 1493.0,527.4 1493.3,525.2 1493.7,529.9 1494.0,525.7 1494.3,533.3 1494.7,533.6 1495.0,525.3 1495.3,534.7 1495.7,532.3 1496.0,528.6 1496.3,537.0 1496.7,541.7 1497.0,532.8 1497.3,534.3 1497.7,529.3 1498.0,535.1 1498.3,531.8 1498.7,535.8 1499.0,532.8 1499.3,534.7 1499.7,530.9 1500.0,527.9 1500.3,535.0 1500.7,540.2 1501.0,524.3 1501.3,534.6 1501.7,529.6 1502.0,528.0 1502.3,534.3 1502.7,532.9 1503.0,534.0 1503.3,535.4 1503.7,526.1 1504.0,539.2 1504.3,538.7 1504.7,530.9 1505.0,533.2 1505.3,528.5 1505.7,534.2 1506.0,533.5 1506.3,534.1 1506.7,532.3 1507.0,535.3 1507.3,533.5 1507.7,532.5 1508.0,534.2 1508.3,535.5 1508.7,535.8 1509.0,534.8 1509.3,538.5 1509.7,531.8 1510.0,538.3 1510.3,531.6 1510.7,531.8 1511.0,531.9 1511.3,536.8 1511.7,531.6 1512.0,529.3 1512.3,534.9 1512.7,530.2 1513.0,532.3 1513.3,533.0 1513.7,533.4 1514.0,537.1 1514.3,532.6 1514.7,528.0 1515.0,537.2 1515.3,530.1 1515.7,528.7 1516.0,531.4 1516.3,535.9 1516.7,527.7 1517.0,530.0 1517.3,536.8 1517.7,539.7 1518.0,533.2 1518.3,536.4 1518.7,534.0 1519.0,533.0 1519.3,529.2 1519.7,533.6 1520.0,531.0 1520.3,532.1 1520.7,533.4 1521.0,534.3 1521.3,529.6 1521.7,531.0 1522.0,536.6 1522.3,541.5 1522.7,533.4 1523.0,536.0 1523.3,536.0 1523.7,531.2 1524.0,536.0 1524.3,530.4 1524.7,527.9 1525.0,531.0 1525.3,534.7 1525.7,530.0 1526.0,536.3 1526.3,530.5 1526.7,535.3 1527.0,532.4 1527.3,538.3 1527.7,531.4 1528.0,532.7 1528.3,532.6 1528.7,529.2 1529.0,534.8 1529.3,529.7 1529.7,528.7 1530.0,531.7 1530.3,531.6 1530.7,538.5 1531.0,531.3 1531.3,538.3 1531.7,524.6 1532.0,535.6 1532.3,532.3 1532.7,540.0 1533.0,528.8 1533.3,532.8 1533.7,533.2 1534.0,523.6 1534.3,532.3 1534.7,543.3 1535.0,533.1 1535.3,535.9 1535.7,532.3 1536.0,538.4 1536.3,530.0 1536.7,529.0 1537.0,535.8 1537.3,528.1 1537.7,533.0 1538.0,522.5 1538.3,535.2 1538.7,531.0 1539.0,533.1 1539.3,533.2 1539.7,533.8 1540.0,531.1 1540.3,530.5 1540.7,535.8 1541.0,537.1 1541.4,526.9 1541.7,530.0 1542.0,531.1 1542.4,530.2 1542.7,536.4 1543.0,532.5 1543.4,531.5 1543.7,534.1 1544.0,537.8 1544.4,524.9 1544.7,534.7 1545.0,531.9 1545.4,531.3 1545.7,532.4 1546.0,525.1 1546.4,532.4 1546.7,534.0 1547.0,531.2 1547.4,527.9 1547.7,530.0 1548.0,535.6 1548.4,539.0 1548.7,532.8 1549.0,535.4 1549.4,537.6 1549.7,534.1 1550.0,528.1 1550.4,534.0 1550.7,539.4 1551.0,530.5 1551.4,531.2 1551.7,528.3 1552.0,533.4 1552.4,529.2 1552.7,536.0 1553.0,536.2 1553.4,530.7 1553.7,531.6 1554.0,533.0 1554.4,528.7 1554.7,530.7 1555.0,539.8 1555.4,532.9 1555.7,522.7 1556.0,538.0 1556.4,533.0 1556.7,532.8 1557.0,538.3 1557.4,538.0 1557.7,537.3 1558.0,538.0 1558.4,526.2 1558.7,536.2 1559.0,530.3 1559.4,532.3 1559.7,536.8 1560.0,536.6 1560.4,534.5 1560.7,530.6 1561.0,537.1 1561.4,531.4 1561.7,533.5 1562.0,534.0 1562.4,534.5 1562.7,529.0 1563.0,535.5 1563.4,534.7 1563.7,529.9"/>
<path d="M956.6 28.7h5.5 M956.6 51.9h10 M956.6 75.1h5.5 M956.6 98.2h10 M956.6 121.4h5.5 M956.6 144.6h10 M956.6 167.8h5.5 M956.6 191.0h10 M956.6 214.2h5.5 M956.6 237.4h10 M956.6 260.6h5.5 M956.6 283.8h10 M956.6 306.9h5.5 M956.6 330.1h10 M956.6 353.3h5.5 M956.6 376.5h10 M956.6 399.7h5.5 M956.6 422.9h10 M956.6 446.1h5.5 M956.6 469.2h10 M956.6 492.4h5.5 M956.6 515.6h10 M956.6 538.8h5.5 M987.0 562.0v-5.5 M1017.3 562.0v-11 M1047.7 562.0v-5.5 M1078.0 562.0v-11 M1108.4 562.0v-5.5 M1138.7 562.0v-11 M1169.1 562.0v-5.5 M1199.4 562.0v-11 M1229.8 562.0v-5.5 M1260.2 562.0v-11 M1290.5 562.0v-5.5 M1320.9 562.0v-11 M1351.2 562.0v-5.5 M1381.6 562.0v-11 M1411.9 562.0v-5.5 M1442.3 562.0v-11 M1472.6 562.0v-5.5 M1503.0 562.0v-11 M1533.3 562.0v-5.5" stroke="#000" stroke-width="2.5" fill="none"/>
<rect x="956.6" y="5.5" width="607.1" height="556.5" fill="none" stroke="#000" stroke-width="2.5"/>
<g font-family="'Liberation Serif', serif" font-weight="bold" font-size="30"><text x="956.6" y="596" text-anchor="middle">15</text><text x="1017.3" y="596" text-anchor="middle">20</text><text x="1078.0" y="596" text-anchor="middle">25</text><text x="1138.7" y="596" text-anchor="middle">30</text><text x="1199.4" y="596" text-anchor="middle">35</text><text x="1260.2" y="596" text-anchor="middle">40</text><text x="1320.9" y="596" text-anchor="middle">45</text><text x="1381.6" y="596" text-anchor="middle">50</text><text x="1442.3" y="596" text-anchor="middle">55</text><text x="1503.0" y="596" text-anchor="middle">60</text><text x="1563.7" y="596" text-anchor="middle">65</text></g>
<rect x="666.7" y="2.6" width="183.8" height="181.7" fill="#fff" stroke="#444" stroke-width="1.3"/>
<line x1="670" y1="22.8" x2="737" y2="22.8" stroke="#000000" stroke-width="2.2" stroke-linecap="round"/>
<rect x="700.9" y="20.2" width="5.2" height="5.2" fill="#000000"/>
<text x="743.2" y="32.6" font-family="'Liberation Serif', serif" font-weight="bold" font-size="29.6">0.1 nm/s</text>
<line x1="670" y1="59.6" x2="737" y2="59.6" stroke="#ff0000" stroke-width="2.2" stroke-linecap="round"/>
<circle cx="703.5" cy="59.6" r="2.8" fill="#ff0000"/>
<text x="743.2" y="69.4" font-family="'Liberation Serif', serif" font-weight="bold" font-size="29.6">0.2 nm/s</text>
<line x1="670" y1="96.0" x2="737" y2="96.0" stroke="#0000ff" stroke-width="2.2" stroke-linecap="round"/>
<path d="M703.5 92.5L706.5 97.5L700.5 97.5Z" fill="#0000ff"/>
<text x="743.2" y="105.8" font-family="'Liberation Serif', serif" font-weight="bold" font-size="29.6">0.3 nm/s</text>
<line x1="670" y1="132.5" x2="737" y2="132.5" stroke="#008080" stroke-width="2.2" stroke-linecap="round"/>
<path d="M703.5 136.0L706.5 131.0L700.5 131.0Z" fill="#008080"/>
<text x="743.2" y="142.3" font-family="'Liberation Serif', serif" font-weight="bold" font-size="29.6">0.4 nm/s</text>
<line x1="670" y1="168.3" x2="737" y2="168.3" stroke="#ff00ff" stroke-width="2.2" stroke-linecap="round"/>
<path d="M700.0 168.3L705.0 165.3L705.0 171.3Z" fill="#ff00ff"/>
<text x="743.2" y="178.1" font-family="'Liberation Serif', serif" font-weight="bold" font-size="29.6">0.5 nm/s</text>
<rect x="1565.6" y="2.2" width="152.2" height="182.1" fill="#fff" stroke="#444" stroke-width="1.3"/>
<line x1="1567.8" y1="22.8" x2="1634" y2="22.8" stroke="#000000" stroke-width="2.2" stroke-linecap="round"/>
<rect x="1598.3" y="20.2" width="5.2" height="5.2" fill="#000000"/>
<text x="1641" y="32.6" font-family="'Liberation Serif', serif" font-weight="bold" font-size="30">100</text>
<text x="1687.1" y="33.7" font-family="'Liberation Serif', 'IPAGothic', sans-serif" font-size="27">℃</text>
<line x1="1567.8" y1="59.6" x2="1634" y2="59.6" stroke="#ff0000" stroke-width="2.2" stroke-linecap="round"/>
<circle cx="1600.9" cy="59.6" r="2.8" fill="#ff0000"/>
<text x="1641" y="69.4" font-family="'Liberation Serif', serif" font-weight="bold" font-size="30">200</text>
<text x="1687.1" y="70.5" font-family="'Liberation Serif', 'IPAGothic', sans-serif" font-size="27">℃</text>
<line x1="1567.8" y1="96.0" x2="1634" y2="96.0" stroke="#0000ff" stroke-width="2.2" stroke-linecap="round"/>
<path d="M1600.9 92.5L1603.9 97.5L1597.9 97.5Z" fill="#0000ff"/>
<text x="1641" y="105.8" font-family="'Liberation Serif', serif" font-weight="bold" font-size="30">300</text>
<text x="1687.1" y="106.9" font-family="'Liberation Serif', 'IPAGothic', sans-serif" font-size="27">℃</text>
<line x1="1567.8" y1="132.5" x2="1634" y2="132.5" stroke="#008080" stroke-width="2.2" stroke-linecap="round"/>
<path d="M1600.9 136.0L1603.9 131.0L1597.9 131.0Z" fill="#008080"/>
<text x="1641" y="142.3" font-family="'Liberation Serif', serif" font-weight="bold" font-size="30">400</text>
<text x="1687.1" y="143.4" font-family="'Liberation Serif', 'IPAGothic', sans-serif" font-size="27">℃</text>
<line x1="1567.8" y1="168.3" x2="1634" y2="168.3" stroke="#ff00ff" stroke-width="2.2" stroke-linecap="round"/>
<path d="M1597.4 168.3L1602.4 165.3L1602.4 171.3Z" fill="#ff00ff"/>
<text x="1641" y="178.1" font-family="'Liberation Serif', serif" font-weight="bold" font-size="30">500</text>
<text x="1687.1" y="179.2" font-family="'Liberation Serif', 'IPAGothic', sans-serif" font-size="27">℃</text>
<g font-family="'Liberation Serif', serif" font-weight="bold"><text x="288" y="640" font-size="32">2 theta (degree)</text><text x="1184.6" y="640.5" font-size="32">2 theta (degree)</text><text transform="translate(27.5,426.5) rotate(-90)" font-size="32">Intensity (arb.unit)</text><text transform="translate(924,433.5) rotate(-90)" font-size="32">Intensity (arb.unit)</text></g>
<text x="0.3" y="36" font-family="'Liberation Serif', serif" font-size="37">(a)</text>
<text x="890.5" y="38.5" font-family="'Liberation Serif', serif" font-size="37.5">(b)</text>
</svg></body></html>
